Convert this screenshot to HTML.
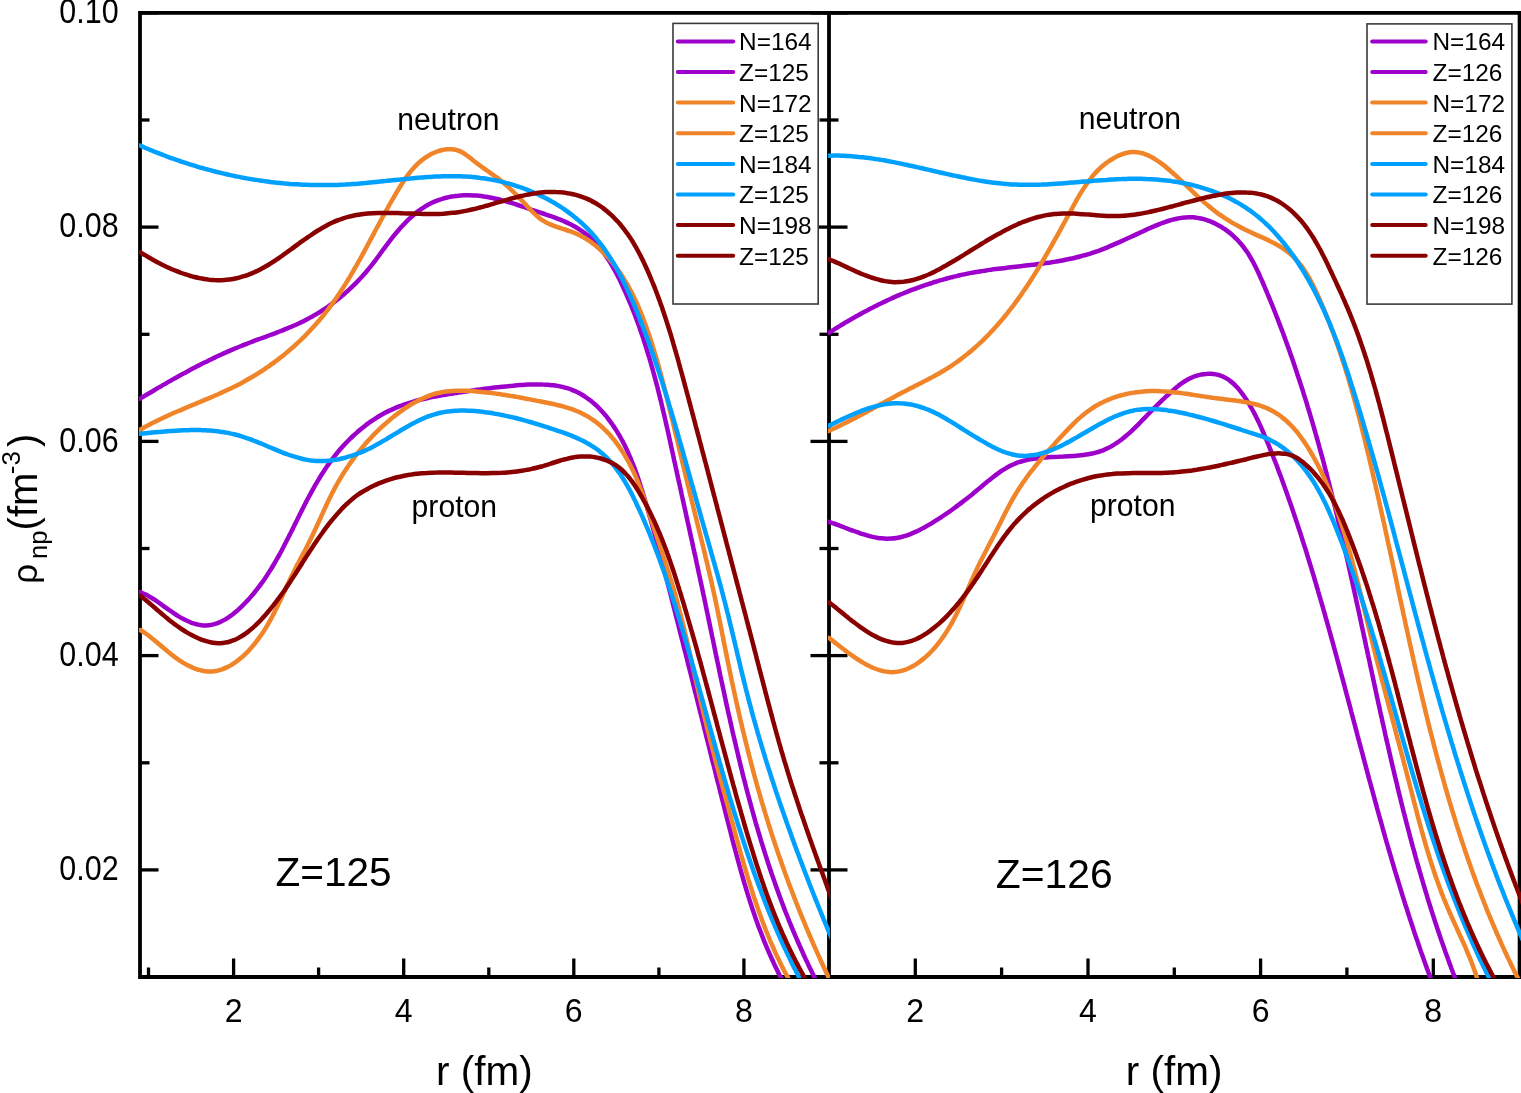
<!DOCTYPE html><html><head><meta charset="utf-8"><title>Density distributions</title><style>html,body{margin:0;padding:0;background:#fff;overflow:hidden}svg{display:block}</style></head><body><svg width="1521" height="1093" viewBox="0 0 1521 1093" font-family="&quot;Liberation Sans&quot;, Arial, sans-serif" fill="#000"><rect width="100%" height="100%" fill="#fff"/><defs><clipPath id="cl"><rect x="139.0" y="12.0" width="691.0" height="966.0"/></clipPath><clipPath id="cr"><rect x="828.0" y="12.0" width="693.0" height="966.0"/></clipPath></defs><g stroke="#000" stroke-width="3.8" fill="none" stroke-linecap="square"><path d="M140.0,12.9 H1519.6 V977.0 H140.0 Z"/><path d="M829.0,12.9 V977.0"/></g><g stroke="#000" stroke-width="3.3" fill="none"><path d="M140.0,869.9h18.5"/><path d="M829.0,869.9h-18.5"/><path d="M829.0,869.9h18.5"/><path d="M140.0,762.8h9.5"/><path d="M829.0,762.8h-9.5"/><path d="M829.0,762.8h9.5"/><path d="M140.0,655.6h18.5"/><path d="M829.0,655.6h-18.5"/><path d="M829.0,655.6h18.5"/><path d="M140.0,548.5h9.5"/><path d="M829.0,548.5h-9.5"/><path d="M829.0,548.5h9.5"/><path d="M140.0,441.4h18.5"/><path d="M829.0,441.4h-18.5"/><path d="M829.0,441.4h18.5"/><path d="M140.0,334.3h9.5"/><path d="M829.0,334.3h-9.5"/><path d="M829.0,334.3h9.5"/><path d="M140.0,227.1h18.5"/><path d="M829.0,227.1h-18.5"/><path d="M829.0,227.1h18.5"/><path d="M140.0,120.0h9.5"/><path d="M829.0,120.0h-9.5"/><path d="M829.0,120.0h9.5"/><path d="M140.0,12.9h18.5"/><path d="M829.0,12.9h-18.5"/><path d="M829.0,12.9h18.5"/><path d="M148.5,977.0v-9.5"/><path d="M233.6,977.0v-18.5"/><path d="M915.3,977.0v-18.5"/><path d="M318.6,977.0v-9.5"/><path d="M1001.6,977.0v-9.5"/><path d="M403.7,977.0v-18.5"/><path d="M1088.0,977.0v-18.5"/><path d="M488.8,977.0v-9.5"/><path d="M1174.3,977.0v-9.5"/><path d="M573.8,977.0v-18.5"/><path d="M1260.6,977.0v-18.5"/><path d="M658.9,977.0v-9.5"/><path d="M1346.9,977.0v-9.5"/><path d="M743.9,977.0v-18.5"/><path d="M1433.3,977.0v-18.5"/></g><g clip-path="url(#cl)" fill="none" stroke-width="4.5" stroke-linecap="round" stroke-linejoin="round"><path stroke="#9e00cc" d="M140.0,398.7C141.5,397.8 142.9,397.0 144.3,396.1C145.8,395.3 147.2,394.4 148.6,393.5C150.1,392.7 151.5,391.8 152.9,391.0C154.4,390.1 155.8,389.3 157.2,388.4C158.7,387.6 160.1,386.7 161.6,385.9C163.0,385.1 164.4,384.2 165.9,383.4C167.3,382.6 168.8,381.7 170.2,380.9C171.7,380.1 173.1,379.3 174.6,378.4C176.1,377.6 177.5,376.8 179.0,376.0C180.4,375.2 181.9,374.4 183.4,373.6C184.8,372.8 186.3,372.0 187.8,371.2C189.2,370.4 190.7,369.6 192.2,368.8C193.7,368.1 195.2,367.3 196.6,366.5C198.1,365.8 199.6,365.0 201.1,364.2C202.6,363.5 204.1,362.7 205.6,362.0C207.1,361.3 208.6,360.5 210.1,359.8C211.6,359.1 213.1,358.3 214.6,357.6C216.1,356.9 217.6,356.2 219.1,355.5C220.6,354.8 222.2,354.1 223.7,353.4C225.2,352.7 226.7,352.1 228.3,351.4C229.8,350.7 231.3,350.1 232.9,349.4C234.4,348.7 235.9,348.1 237.5,347.5C239.0,346.8 240.6,346.2 242.1,345.6C243.7,345.0 245.2,344.4 246.8,343.8C248.3,343.2 249.9,342.6 251.5,342.0C253.0,341.4 254.6,340.8 256.2,340.2C257.7,339.6 259.3,339.1 260.9,338.5C262.4,337.9 264.0,337.3 265.6,336.8C267.1,336.2 268.7,335.6 270.3,335.0C271.8,334.4 273.4,333.9 275.0,333.3C276.5,332.7 278.1,332.1 279.6,331.5C281.2,330.9 282.7,330.3 284.3,329.6C285.8,329.0 287.4,328.4 288.9,327.7C290.5,327.1 292.0,326.5 293.5,325.8C295.1,325.1 296.6,324.4 298.1,323.7C299.6,323.0 301.1,322.3 302.6,321.6C304.1,320.8 305.6,320.1 307.1,319.3C308.6,318.5 310.1,317.7 311.5,316.9C313.0,316.1 314.4,315.3 315.9,314.4C317.3,313.6 318.7,312.7 320.1,311.8C321.5,310.9 323.0,310.0 324.3,309.1C325.7,308.2 327.1,307.3 328.5,306.3C329.8,305.3 331.2,304.4 332.5,303.4C333.9,302.4 335.2,301.4 336.5,300.3C337.8,299.3 339.1,298.3 340.4,297.2C341.7,296.1 343.0,295.1 344.3,294.0C345.5,292.9 346.8,291.8 348.0,290.6C349.3,289.5 350.5,288.4 351.7,287.2C352.9,286.1 354.1,284.9 355.3,283.7C356.4,282.5 357.6,281.3 358.8,280.1C359.9,278.9 361.0,277.7 362.2,276.5C363.3,275.2 364.4,274.0 365.5,272.7C366.6,271.4 367.6,270.2 368.7,268.9C369.8,267.6 370.8,266.3 371.8,265.0C372.9,263.6 373.9,262.3 374.9,261.0C375.9,259.7 376.9,258.3 377.9,257.0C378.9,255.6 379.9,254.3 380.8,252.9C381.8,251.6 382.8,250.2 383.8,248.9C384.8,247.6 385.8,246.2 386.8,244.9C387.8,243.5 388.8,242.2 389.8,240.9C390.8,239.6 391.9,238.2 392.9,236.9C393.9,235.6 395.0,234.3 396.1,233.0C397.1,231.8 398.2,230.5 399.3,229.2C400.4,228.0 401.5,226.7 402.7,225.5C403.8,224.3 405.0,223.1 406.1,221.9C407.3,220.7 408.5,219.6 409.7,218.4C411.0,217.3 412.2,216.2 413.5,215.1C414.7,214.0 416.0,212.9 417.3,211.9C418.7,210.9 420.0,209.9 421.4,208.9C422.8,208.0 424.2,207.1 425.6,206.2C427.0,205.4 428.5,204.5 430.0,203.8C431.4,203.0 432.9,202.3 434.5,201.6C436.0,201.0 437.6,200.4 439.2,199.8C440.7,199.3 442.3,198.8 443.9,198.3C445.5,197.9 447.2,197.5 448.8,197.1C450.4,196.8 452.1,196.5 453.7,196.3C455.4,196.0 457.0,195.8 458.7,195.7C460.4,195.5 462.0,195.4 463.7,195.3C465.4,195.3 467.0,195.3 468.7,195.3C470.4,195.3 472.1,195.3 473.7,195.4C475.4,195.5 477.1,195.7 478.7,195.8C480.4,196.0 482.0,196.2 483.7,196.4C485.3,196.7 487.0,196.9 488.6,197.2C490.3,197.5 491.9,197.9 493.5,198.2C495.2,198.6 496.8,198.9 498.4,199.3C500.0,199.7 501.7,200.2 503.3,200.6C504.9,201.0 506.5,201.5 508.1,202.0C509.7,202.5 511.3,202.9 512.9,203.4C514.5,203.9 516.1,204.5 517.7,205.0C519.2,205.5 520.8,206.0 522.4,206.5C524.0,207.1 525.6,207.6 527.1,208.2C528.7,208.7 530.3,209.2 531.9,209.8C533.5,210.3 535.0,210.9 536.6,211.4C538.2,211.9 539.8,212.5 541.4,213.0C543.0,213.5 544.5,214.0 546.1,214.6C547.7,215.1 549.3,215.6 550.9,216.2C552.4,216.7 554.0,217.3 555.6,217.9C557.2,218.5 558.7,219.1 560.3,219.7C561.8,220.3 563.4,220.9 564.9,221.6C566.4,222.3 567.9,223.0 569.4,223.8C570.9,224.5 572.4,225.3 573.8,226.1C575.3,226.9 576.7,227.7 578.2,228.6C579.6,229.5 581.0,230.4 582.3,231.4C583.7,232.4 585.0,233.4 586.3,234.4C587.7,235.4 588.9,236.5 590.2,237.6C591.4,238.7 592.6,239.9 593.8,241.1C595.0,242.3 596.1,243.5 597.2,244.7C598.4,246.0 599.4,247.2 600.5,248.5C601.5,249.8 602.6,251.2 603.6,252.5C604.5,253.8 605.5,255.2 606.4,256.6C607.4,258.0 608.3,259.4 609.2,260.8C610.1,262.2 610.9,263.6 611.8,265.1C612.6,266.5 613.5,268.0 614.3,269.4C615.1,270.9 615.9,272.4 616.6,273.8C617.4,275.3 618.2,276.8 618.9,278.3C619.7,279.8 620.4,281.3 621.1,282.8C621.8,284.3 622.5,285.8 623.2,287.3C623.9,288.9 624.6,290.4 625.3,291.9C626.0,293.4 626.6,295.0 627.3,296.5C628.0,298.0 628.6,299.6 629.3,301.1C629.9,302.6 630.6,304.2 631.2,305.7C631.8,307.3 632.4,308.8 633.1,310.4C633.7,311.9 634.3,313.5 634.9,315.0C635.5,316.6 636.1,318.2 636.6,319.7C637.2,321.3 637.8,322.9 638.4,324.4C638.9,326.0 639.5,327.6 640.0,329.1C640.6,330.7 641.1,332.3 641.7,333.9C642.2,335.5 642.8,337.0 643.3,338.6C643.8,340.2 644.3,341.8 644.8,343.4C645.3,345.0 645.9,346.6 646.3,348.2C646.8,349.8 647.3,351.4 647.8,353.0C648.3,354.6 648.8,356.2 649.3,357.8C649.7,359.4 650.2,361.0 650.7,362.6C651.1,364.2 651.6,365.8 652.1,367.4C652.5,369.0 653.0,370.6 653.4,372.2C653.8,373.8 654.3,375.4 654.7,377.0C655.1,378.6 655.6,380.3 656.0,381.9C656.4,383.5 656.8,385.1 657.3,386.7C657.7,388.3 658.1,390.0 658.5,391.6C658.9,393.2 659.3,394.8 659.7,396.4C660.1,398.1 660.5,399.7 660.9,401.3C661.3,402.9 661.7,404.6 662.1,406.2C662.5,407.8 662.8,409.4 663.2,411.1C663.6,412.7 664.0,414.3 664.4,415.9C664.7,417.6 665.1,419.2 665.5,420.8C665.9,422.4 666.2,424.1 666.6,425.7C667.0,427.3 667.3,429.0 667.7,430.6C668.1,432.2 668.4,433.8 668.8,435.5C669.1,437.1 669.5,438.7 669.9,440.4C670.2,442.0 670.6,443.6 670.9,445.3C671.3,446.9 671.6,448.5 672.0,450.2C672.4,451.8 672.7,453.4 673.1,455.1C673.4,456.7 673.8,458.3 674.1,459.9C674.5,461.6 674.8,463.2 675.2,464.8C675.6,466.5 675.9,468.1 676.3,469.7C676.6,471.4 677.0,473.0 677.3,474.6C677.7,476.3 678.0,477.9 678.4,479.5C678.8,481.2 679.1,482.8 679.5,484.4C679.8,486.0 680.2,487.7 680.6,489.3C680.9,490.9 681.3,492.6 681.6,494.2C682.0,495.8 682.3,497.5 682.7,499.1C683.1,500.7 683.4,502.4 683.8,504.0C684.1,505.6 684.5,507.2 684.9,508.9C685.2,510.5 685.6,512.1 685.9,513.8C686.3,515.4 686.6,517.0 687.0,518.7C687.4,520.3 687.7,521.9 688.1,523.6C688.4,525.2 688.8,526.8 689.2,528.5C689.5,530.1 689.9,531.7 690.2,533.3C690.6,535.0 690.9,536.6 691.3,538.2C691.7,539.9 692.0,541.5 692.4,543.1C692.7,544.8 693.1,546.4 693.4,548.0C693.8,549.7 694.1,551.3 694.5,552.9C694.9,554.6 695.2,556.2 695.6,557.8C695.9,559.4 696.3,561.1 696.6,562.7C697.0,564.3 697.3,566.0 697.7,567.6C698.0,569.2 698.4,570.9 698.7,572.5C699.1,574.1 699.4,575.8 699.8,577.4C700.1,579.0 700.5,580.7 700.8,582.3C701.2,583.9 701.5,585.6 701.9,587.2C702.2,588.8 702.6,590.5 702.9,592.1C703.3,593.7 703.6,595.4 704.0,597.0C704.3,598.6 704.6,600.3 705.0,601.9C705.3,603.5 705.7,605.2 706.0,606.8C706.4,608.4 706.7,610.1 707.0,611.7C707.4,613.3 707.7,615.0 708.1,616.6C708.4,618.3 708.7,619.9 709.1,621.5C709.4,623.2 709.8,624.8 710.1,626.4C710.4,628.1 710.8,629.7 711.1,631.3C711.5,633.0 711.8,634.6 712.1,636.2C712.5,637.9 712.8,639.5 713.2,641.1C713.5,642.8 713.8,644.4 714.2,646.0C714.5,647.7 714.9,649.3 715.2,651.0C715.5,652.6 715.9,654.2 716.2,655.9C716.6,657.5 716.9,659.1 717.2,660.8C717.6,662.4 717.9,664.0 718.3,665.7C718.6,667.3 719.0,668.9 719.3,670.6C719.6,672.2 720.0,673.8 720.3,675.5C720.7,677.1 721.0,678.7 721.4,680.4C721.7,682.0 722.1,683.6 722.4,685.3C722.8,686.9 723.1,688.5 723.5,690.2C723.8,691.8 724.2,693.4 724.5,695.1C724.9,696.7 725.2,698.3 725.6,700.0C725.9,701.6 726.3,703.2 726.6,704.9C727.0,706.5 727.4,708.1 727.7,709.7C728.1,711.4 728.4,713.0 728.8,714.6C729.2,716.3 729.5,717.9 729.9,719.5C730.2,721.2 730.6,722.8 731.0,724.4C731.3,726.0 731.7,727.7 732.1,729.3C732.4,730.9 732.8,732.6 733.2,734.2C733.6,735.8 733.9,737.4 734.3,739.1C734.7,740.7 735.1,742.3 735.5,743.9C735.8,745.6 736.2,747.2 736.6,748.8C737.0,750.5 737.4,752.1 737.8,753.7C738.1,755.3 738.5,756.9 738.9,758.6C739.3,760.2 739.7,761.8 740.1,763.4C740.5,765.1 740.9,766.7 741.3,768.3C741.7,769.9 742.1,771.5 742.5,773.2C742.9,774.8 743.3,776.4 743.7,778.0C744.1,779.6 744.6,781.3 745.0,782.9C745.4,784.5 745.8,786.1 746.2,787.7C746.6,789.3 747.1,791.0 747.5,792.6C747.9,794.2 748.3,795.8 748.8,797.4C749.2,799.0 749.6,800.6 750.1,802.3C750.5,803.9 750.9,805.5 751.4,807.1C751.8,808.7 752.3,810.3 752.7,811.9C753.2,813.5 753.6,815.1 754.1,816.7C754.5,818.4 755.0,820.0 755.4,821.6C755.9,823.2 756.4,824.8 756.8,826.4C757.3,828.0 757.8,829.6 758.2,831.2C758.7,832.8 759.2,834.4 759.7,836.0C760.1,837.6 760.6,839.2 761.1,840.8C761.6,842.4 762.1,844.0 762.6,845.6C763.1,847.2 763.6,848.8 764.1,850.4C764.6,851.9 765.1,853.5 765.6,855.1C766.1,856.7 766.6,858.3 767.1,859.9C767.6,861.5 768.1,863.1 768.7,864.7C769.2,866.2 769.7,867.8 770.2,869.4C770.8,871.0 771.3,872.6 771.8,874.2C772.4,875.7 772.9,877.3 773.5,878.9C774.0,880.5 774.6,882.1 775.1,883.6C775.7,885.2 776.2,886.8 776.8,888.4C777.4,889.9 777.9,891.5 778.5,893.1C779.1,894.6 779.6,896.2 780.2,897.8C780.8,899.3 781.4,900.9 782.0,902.5C782.6,904.0 783.1,905.6 783.7,907.1C784.3,908.7 784.9,910.3 785.5,911.8C786.2,913.4 786.8,914.9 787.4,916.5C788.0,918.0 788.6,919.6 789.2,921.1C789.9,922.7 790.5,924.2 791.1,925.8C791.8,927.3 792.4,928.9 793.0,930.4C793.7,931.9 794.3,933.5 795.0,935.0C795.6,936.6 796.3,938.1 797.0,939.6C797.6,941.2 798.3,942.7 799.0,944.2C799.6,945.7 800.3,947.3 801.0,948.8C801.7,950.3 802.4,951.8 803.1,953.4C803.7,954.9 804.4,956.4 805.1,957.9C805.8,959.4 806.6,960.9 807.3,962.4C808.0,964.0 808.7,965.5 809.4,967.0C810.1,968.5 810.9,970.0 811.6,971.5C812.3,973.0 813.1,974.5 813.8,976.0C814.6,977.5 815.3,979.0 816.1,980.5C816.8,981.9 817.6,983.4 818.4,984.9"/><path stroke="#9e00cc" d="M140.1,592.1C141.6,592.7 143.2,593.3 144.7,594.0C146.2,594.7 147.7,595.6 149.1,596.4C150.6,597.2 152.0,598.1 153.4,599.0C154.8,599.9 156.2,600.9 157.6,601.8C158.9,602.8 160.3,603.7 161.7,604.7C163.0,605.7 164.4,606.7 165.7,607.6C167.1,608.6 168.5,609.6 169.8,610.5C171.2,611.5 172.6,612.4 174.0,613.4C175.4,614.3 176.8,615.2 178.2,616.1C179.6,616.9 181.1,617.8 182.5,618.6C184.0,619.4 185.5,620.1 187.0,620.8C188.5,621.5 190.1,622.2 191.6,622.8C193.2,623.3 194.8,623.8 196.4,624.2C198.1,624.6 199.7,625.0 201.4,625.2C203.0,625.4 204.7,625.5 206.4,625.4C208.0,625.4 209.7,625.2 211.3,624.9C213.0,624.6 214.6,624.1 216.2,623.6C217.8,623.1 219.3,622.4 220.8,621.7C222.4,621.0 223.8,620.2 225.3,619.4C226.7,618.6 228.1,617.6 229.5,616.7C230.9,615.7 232.2,614.7 233.5,613.7C234.8,612.6 236.1,611.6 237.4,610.5C238.6,609.3 239.8,608.2 241.0,607.1C242.3,605.9 243.4,604.7 244.6,603.5C245.8,602.3 246.9,601.1 248.1,599.9C249.2,598.7 250.3,597.4 251.4,596.1C252.5,594.9 253.6,593.6 254.6,592.3C255.7,591.0 256.7,589.7 257.7,588.4C258.8,587.0 259.8,585.7 260.7,584.4C261.7,583.0 262.7,581.6 263.7,580.3C264.6,578.9 265.6,577.5 266.5,576.1C267.4,574.7 268.3,573.3 269.2,571.9C270.1,570.5 271.0,569.1 271.9,567.7C272.7,566.2 273.6,564.8 274.4,563.4C275.3,561.9 276.1,560.5 276.9,559.0C277.8,557.6 278.6,556.1 279.4,554.6C280.2,553.2 281.0,551.7 281.8,550.2C282.5,548.7 283.3,547.3 284.1,545.8C284.9,544.3 285.6,542.8 286.4,541.3C287.2,539.8 287.9,538.3 288.7,536.8C289.4,535.4 290.2,533.9 290.9,532.4C291.7,530.9 292.4,529.4 293.2,527.9C293.9,526.4 294.6,524.9 295.4,523.4C296.1,521.9 296.9,520.4 297.6,518.9C298.3,517.4 299.1,515.9 299.8,514.4C300.6,512.9 301.3,511.4 302.1,509.9C302.8,508.4 303.6,506.9 304.3,505.4C305.1,503.9 305.9,502.5 306.6,501.0C307.4,499.5 308.2,498.0 309.0,496.5C309.8,495.1 310.6,493.6 311.4,492.1C312.2,490.6 313.0,489.2 313.8,487.7C314.6,486.3 315.4,484.8 316.3,483.4C317.1,481.9 318.0,480.5 318.9,479.1C319.7,477.6 320.6,476.2 321.5,474.8C322.4,473.4 323.3,472.0 324.2,470.6C325.1,469.2 326.1,467.8 327.0,466.4C328.0,465.1 328.9,463.7 329.9,462.3C330.9,461.0 331.9,459.6 332.9,458.3C333.9,457.0 335.0,455.7 336.0,454.4C337.1,453.1 338.1,451.8 339.2,450.5C340.3,449.2 341.4,448.0 342.5,446.7C343.6,445.5 344.8,444.3 345.9,443.1C347.1,441.8 348.3,440.7 349.4,439.5C350.6,438.3 351.8,437.1 353.0,436.0C354.3,434.8 355.5,433.7 356.8,432.6C358.0,431.5 359.3,430.4 360.6,429.4C361.9,428.3 363.2,427.2 364.5,426.2C365.8,425.2 367.1,424.2 368.5,423.2C369.8,422.2 371.2,421.3 372.6,420.3C374.0,419.4 375.4,418.5 376.8,417.6C378.2,416.7 379.7,415.9 381.1,415.0C382.6,414.2 384.0,413.4 385.5,412.6C387.0,411.8 388.5,411.1 390.0,410.4C391.5,409.6 393.0,408.9 394.6,408.3C396.1,407.6 397.6,407.0 399.2,406.4C400.8,405.8 402.3,405.2 403.9,404.6C405.5,404.1 407.1,403.6 408.7,403.1C410.3,402.6 411.9,402.1 413.5,401.6C415.1,401.1 416.7,400.7 418.3,400.3C419.9,399.9 421.5,399.5 423.2,399.1C424.8,398.7 426.4,398.3 428.1,398.0C429.7,397.6 431.3,397.3 433.0,396.9C434.6,396.6 436.3,396.3 437.9,396.0C439.5,395.7 441.2,395.4 442.8,395.1C444.5,394.8 446.1,394.6 447.8,394.3C449.4,394.0 451.1,393.8 452.7,393.5C454.4,393.2 456.0,393.0 457.7,392.7C459.3,392.5 461.0,392.2 462.7,392.0C464.3,391.8 466.0,391.5 467.6,391.3C469.3,391.0 470.9,390.8 472.6,390.5C474.2,390.3 475.9,390.1 477.5,389.8C479.2,389.6 480.9,389.4 482.5,389.1C484.2,388.9 485.8,388.7 487.5,388.5C489.1,388.3 490.8,388.0 492.5,387.8C494.1,387.6 495.8,387.4 497.4,387.2C499.1,387.0 500.8,386.9 502.4,386.7C504.1,386.5 505.7,386.3 507.4,386.2C509.1,386.0 510.7,385.8 512.4,385.7C514.1,385.5 515.7,385.4 517.4,385.2C519.1,385.1 520.7,385.0 522.4,384.9C524.1,384.8 525.7,384.7 527.4,384.6C529.1,384.5 530.8,384.5 532.4,384.4C534.1,384.4 535.8,384.4 537.4,384.4C539.1,384.4 540.8,384.4 542.5,384.5C544.1,384.5 545.8,384.6 547.5,384.7C549.1,384.9 550.8,385.0 552.5,385.2C554.1,385.4 555.8,385.6 557.4,385.9C559.1,386.2 560.7,386.5 562.3,386.9C564.0,387.3 565.6,387.7 567.2,388.2C568.8,388.7 570.4,389.2 571.9,389.8C573.5,390.4 575.0,391.1 576.5,391.8C578.0,392.5 579.5,393.3 581.0,394.1C582.4,395.0 583.9,395.9 585.2,396.8C586.6,397.7 588.0,398.7 589.3,399.7C590.7,400.7 592.0,401.7 593.2,402.8C594.5,403.9 595.7,405.0 597.0,406.2C598.2,407.3 599.3,408.5 600.5,409.7C601.7,411.0 602.8,412.2 603.9,413.5C605.0,414.7 606.0,416.0 607.1,417.3C608.1,418.6 609.1,420.0 610.1,421.3C611.1,422.6 612.1,424.0 613.0,425.4C614.0,426.8 614.9,428.2 615.8,429.6C616.7,431.0 617.6,432.4 618.4,433.9C619.3,435.3 620.1,436.7 620.9,438.2C621.7,439.7 622.5,441.1 623.3,442.6C624.0,444.1 624.8,445.6 625.5,447.1C626.3,448.6 627.0,450.1 627.7,451.6C628.4,453.2 629.1,454.7 629.7,456.2C630.4,457.8 631.0,459.3 631.6,460.8C632.3,462.4 632.9,464.0 633.5,465.5C634.1,467.1 634.7,468.6 635.3,470.2C635.8,471.8 636.4,473.4 636.9,474.9C637.5,476.5 638.0,478.1 638.6,479.7C639.1,481.3 639.6,482.9 640.1,484.5C640.6,486.0 641.1,487.6 641.6,489.2C642.1,490.8 642.6,492.4 643.1,494.0C643.6,495.6 644.1,497.2 644.6,498.8C645.0,500.4 645.5,502.0 646.0,503.6C646.5,505.2 647.0,506.8 647.4,508.4C647.9,510.0 648.4,511.7 648.8,513.3C649.3,514.9 649.7,516.5 650.2,518.1C650.7,519.7 651.1,521.3 651.6,522.9C652.0,524.5 652.5,526.1 652.9,527.7C653.4,529.3 653.8,531.0 654.3,532.6C654.7,534.2 655.2,535.8 655.6,537.4C656.0,539.0 656.5,540.6 656.9,542.2C657.3,543.9 657.8,545.5 658.2,547.1C658.6,548.7 659.1,550.3 659.5,551.9C659.9,553.6 660.4,555.2 660.8,556.8C661.2,558.4 661.6,560.0 662.1,561.6C662.5,563.3 662.9,564.9 663.3,566.5C663.8,568.1 664.2,569.7 664.6,571.3C665.0,573.0 665.4,574.6 665.9,576.2C666.3,577.8 666.7,579.4 667.1,581.1C667.5,582.7 667.9,584.3 668.4,585.9C668.8,587.5 669.2,589.2 669.6,590.8C670.0,592.4 670.4,594.0 670.9,595.6C671.3,597.3 671.7,598.9 672.1,600.5C672.5,602.1 672.9,603.7 673.3,605.4C673.7,607.0 674.2,608.6 674.6,610.2C675.0,611.8 675.4,613.5 675.8,615.1C676.2,616.7 676.6,618.3 677.0,619.9C677.5,621.6 677.9,623.2 678.3,624.8C678.7,626.4 679.1,628.0 679.5,629.7C679.9,631.3 680.3,632.9 680.7,634.5C681.2,636.1 681.6,637.8 682.0,639.4C682.4,641.0 682.8,642.6 683.2,644.2C683.6,645.9 684.0,647.5 684.4,649.1C684.8,650.7 685.3,652.3 685.7,654.0C686.1,655.6 686.5,657.2 686.9,658.8C687.3,660.5 687.7,662.1 688.1,663.7C688.5,665.3 688.9,666.9 689.3,668.6C689.7,670.2 690.2,671.8 690.6,673.4C691.0,675.0 691.4,676.7 691.8,678.3C692.2,679.9 692.6,681.5 693.0,683.2C693.4,684.8 693.8,686.4 694.2,688.0C694.6,689.6 695.0,691.3 695.4,692.9C695.9,694.5 696.3,696.1 696.7,697.8C697.1,699.4 697.5,701.0 697.9,702.6C698.3,704.2 698.7,705.9 699.1,707.5C699.5,709.1 699.9,710.7 700.3,712.3C700.7,714.0 701.1,715.6 701.6,717.2C702.0,718.8 702.4,720.5 702.8,722.1C703.2,723.7 703.6,725.3 704.0,726.9C704.4,728.6 704.8,730.2 705.2,731.8C705.6,733.4 706.0,735.1 706.4,736.7C706.8,738.3 707.2,739.9 707.7,741.5C708.1,743.2 708.5,744.8 708.9,746.4C709.3,748.0 709.7,749.6 710.1,751.3C710.5,752.9 710.9,754.5 711.3,756.1C711.7,757.8 712.1,759.4 712.5,761.0C712.9,762.6 713.4,764.2 713.8,765.9C714.2,767.5 714.6,769.1 715.0,770.7C715.4,772.3 715.8,774.0 716.2,775.6C716.6,777.2 717.0,778.8 717.4,780.5C717.8,782.1 718.3,783.7 718.7,785.3C719.1,786.9 719.5,788.6 719.9,790.2C720.3,791.8 720.7,793.4 721.1,795.0C721.5,796.7 721.9,798.3 722.3,799.9C722.8,801.5 723.2,803.1 723.6,804.8C724.0,806.4 724.4,808.0 724.8,809.6C725.2,811.3 725.6,812.9 726.0,814.5C726.5,816.1 726.9,817.7 727.3,819.4C727.7,821.0 728.1,822.6 728.5,824.2C728.9,825.8 729.3,827.5 729.8,829.1C730.2,830.7 730.6,832.3 731.0,833.9C731.4,835.6 731.8,837.2 732.2,838.8C732.7,840.4 733.1,842.0 733.5,843.6C733.9,845.3 734.4,846.9 734.8,848.5C735.2,850.1 735.6,851.7 736.1,853.3C736.5,855.0 736.9,856.6 737.4,858.2C737.8,859.8 738.2,861.4 738.7,863.0C739.1,864.6 739.6,866.3 740.0,867.9C740.5,869.5 740.9,871.1 741.4,872.7C741.8,874.3 742.3,875.9 742.7,877.5C743.2,879.1 743.7,880.7 744.1,882.3C744.6,883.9 745.1,885.5 745.6,887.1C746.0,888.8 746.5,890.4 747.0,891.9C747.5,893.5 748.0,895.1 748.5,896.7C749.0,898.3 749.5,899.9 750.0,901.5C750.5,903.1 751.0,904.7 751.6,906.3C752.1,907.9 752.6,909.5 753.2,911.1C753.7,912.6 754.2,914.2 754.8,915.8C755.3,917.4 755.9,919.0 756.4,920.5C757.0,922.1 757.6,923.7 758.1,925.3C758.7,926.8 759.3,928.4 759.9,930.0C760.5,931.5 761.1,933.1 761.7,934.6C762.3,936.2 762.9,937.8 763.5,939.3C764.1,940.9 764.7,942.4 765.4,944.0C766.0,945.5 766.7,947.1 767.3,948.6C768.0,950.1 768.6,951.7 769.3,953.2C769.9,954.7 770.6,956.3 771.3,957.8C772.0,959.3 772.7,960.8 773.4,962.3C774.1,963.9 774.8,965.4 775.5,966.9C776.3,968.4 777.0,969.9 777.7,971.4C778.5,972.9 779.2,974.4 780.0,975.9C780.7,977.4 781.5,978.9 782.3,980.3C783.1,981.8 783.9,983.3 784.7,984.8"/><path stroke="#ef8429" d="M140.1,429.8C141.5,429.0 143.0,428.1 144.4,427.3C145.9,426.5 147.4,425.7 148.8,424.9C150.3,424.1 151.8,423.4 153.3,422.6C154.8,421.9 156.3,421.1 157.8,420.4C159.3,419.6 160.8,418.9 162.3,418.2C163.8,417.5 165.3,416.8 166.8,416.1C168.4,415.4 169.9,414.7 171.4,414.0C172.9,413.4 174.5,412.7 176.0,412.0C177.5,411.4 179.1,410.7 180.6,410.1C182.2,409.4 183.7,408.8 185.2,408.1C186.8,407.5 188.3,406.8 189.9,406.2C191.4,405.5 192.9,404.9 194.5,404.2C196.0,403.6 197.6,403.0 199.1,402.3C200.7,401.7 202.2,401.0 203.7,400.4C205.3,399.7 206.8,399.1 208.4,398.4C209.9,397.8 211.4,397.1 213.0,396.5C214.5,395.8 216.0,395.1 217.6,394.5C219.1,393.8 220.6,393.1 222.1,392.4C223.7,391.7 225.2,391.0 226.7,390.3C228.2,389.6 229.7,388.9 231.2,388.2C232.7,387.4 234.2,386.7 235.7,386.0C237.2,385.2 238.7,384.4 240.2,383.7C241.7,382.9 243.1,382.1 244.6,381.3C246.1,380.5 247.5,379.7 249.0,378.8C250.4,378.0 251.9,377.1 253.3,376.3C254.7,375.4 256.1,374.6 257.6,373.7C259.0,372.8 260.4,371.9 261.8,371.0C263.2,370.0 264.6,369.1 265.9,368.2C267.3,367.2 268.7,366.3 270.1,365.3C271.4,364.3 272.8,363.4 274.1,362.4C275.5,361.4 276.8,360.4 278.1,359.4C279.5,358.3 280.8,357.3 282.1,356.3C283.4,355.2 284.7,354.2 286.0,353.1C287.3,352.0 288.5,351.0 289.8,349.9C291.1,348.8 292.3,347.7 293.6,346.6C294.8,345.5 296.1,344.3 297.3,343.2C298.5,342.1 299.7,340.9 300.9,339.8C302.1,338.6 303.3,337.4 304.5,336.3C305.7,335.1 306.9,333.9 308.0,332.7C309.2,331.5 310.3,330.3 311.5,329.0C312.6,327.8 313.7,326.6 314.9,325.3C316.0,324.1 317.1,322.8 318.2,321.6C319.3,320.3 320.3,319.0 321.4,317.7C322.5,316.5 323.5,315.2 324.6,313.8C325.6,312.5 326.6,311.2 327.7,309.9C328.7,308.6 329.7,307.2 330.7,305.9C331.7,304.5 332.6,303.2 333.6,301.8C334.6,300.5 335.5,299.1 336.5,297.7C337.4,296.3 338.4,295.0 339.3,293.6C340.2,292.2 341.1,290.8 342.0,289.4C343.0,288.0 343.8,286.6 344.7,285.2C345.6,283.7 346.5,282.3 347.4,280.9C348.3,279.5 349.1,278.0 350.0,276.6C350.8,275.2 351.7,273.7 352.5,272.3C353.4,270.8 354.2,269.4 355.0,267.9C355.9,266.5 356.7,265.0 357.5,263.6C358.3,262.1 359.1,260.7 360.0,259.2C360.8,257.7 361.6,256.3 362.4,254.8C363.2,253.3 364.0,251.9 364.8,250.4C365.6,248.9 366.4,247.5 367.2,246.0C367.9,244.5 368.7,243.1 369.5,241.6C370.3,240.1 371.1,238.6 371.9,237.2C372.7,235.7 373.5,234.2 374.2,232.7C375.0,231.3 375.8,229.8 376.6,228.3C377.4,226.8 378.2,225.4 379.0,223.9C379.8,222.4 380.6,221.0 381.4,219.5C382.1,218.0 382.9,216.5 383.7,215.1C384.5,213.6 385.4,212.1 386.2,210.7C387.0,209.2 387.8,207.8 388.6,206.3C389.4,204.8 390.2,203.4 391.1,201.9C391.9,200.5 392.7,199.0 393.6,197.6C394.4,196.1 395.2,194.7 396.1,193.3C396.9,191.8 397.8,190.4 398.7,189.0C399.5,187.5 400.4,186.1 401.3,184.7C402.2,183.3 403.1,181.9 404.0,180.5C405.0,179.1 405.9,177.7 406.9,176.4C407.9,175.0 408.9,173.7 409.9,172.4C411.0,171.1 412.1,169.8 413.2,168.6C414.3,167.3 415.4,166.1 416.6,164.9C417.8,163.7 419.0,162.6 420.3,161.5C421.6,160.4 422.9,159.4 424.2,158.4C425.6,157.4 427.0,156.5 428.4,155.7C429.9,154.8 431.3,154.0 432.8,153.3C434.4,152.6 435.9,151.9 437.5,151.4C439.1,150.8 440.7,150.4 442.3,150.0C443.9,149.6 445.6,149.4 447.2,149.2C448.9,149.1 450.6,149.1 452.3,149.2C453.9,149.4 455.6,149.7 457.2,150.2C458.8,150.6 460.3,151.3 461.8,152.1C463.3,152.8 464.7,153.8 466.0,154.8C467.4,155.7 468.7,156.8 470.0,157.8C471.3,158.8 472.6,159.9 473.9,161.0C475.2,162.0 476.5,163.0 477.9,164.0C479.2,165.0 480.6,166.0 481.9,167.0C483.3,167.9 484.7,168.9 486.0,169.9C487.4,170.8 488.8,171.8 490.1,172.8C491.5,173.7 492.8,174.7 494.2,175.7C495.5,176.7 496.9,177.6 498.2,178.6C499.6,179.7 500.9,180.7 502.2,181.7C503.5,182.8 504.7,183.9 506.0,185.0C507.3,186.1 508.5,187.2 509.7,188.3C511.0,189.5 512.2,190.6 513.4,191.8C514.5,193.0 515.7,194.1 516.9,195.3C518.1,196.5 519.2,197.7 520.4,199.0C521.5,200.2 522.7,201.4 523.8,202.6C525.0,203.8 526.1,205.1 527.2,206.3C528.4,207.5 529.5,208.7 530.6,209.9C531.8,211.1 533.0,212.3 534.2,213.5C535.4,214.7 536.6,215.8 537.9,216.9C539.2,217.9 540.5,219.0 541.9,219.9C543.3,220.8 544.7,221.7 546.2,222.5C547.6,223.3 549.2,224.0 550.7,224.6C552.2,225.3 553.8,225.8 555.4,226.4C557.0,227.0 558.6,227.5 560.2,228.0C561.7,228.5 563.3,229.0 564.9,229.5C566.5,230.0 568.1,230.5 569.7,231.1C571.3,231.6 572.8,232.2 574.4,232.9C575.9,233.5 577.4,234.2 578.9,234.9C580.4,235.7 581.9,236.4 583.4,237.3C584.8,238.1 586.3,239.0 587.7,239.9C589.1,240.8 590.4,241.7 591.8,242.7C593.1,243.7 594.5,244.7 595.8,245.7C597.1,246.8 598.3,247.9 599.6,249.0C600.8,250.1 602.1,251.3 603.2,252.4C604.4,253.6 605.6,254.8 606.7,256.0C607.9,257.2 609.0,258.5 610.1,259.7C611.2,261.0 612.2,262.3 613.3,263.6C614.3,264.9 615.3,266.2 616.3,267.6C617.3,268.9 618.3,270.3 619.3,271.7C620.2,273.0 621.1,274.4 622.0,275.8C623.0,277.2 623.8,278.6 624.7,280.1C625.6,281.5 626.4,282.9 627.3,284.4C628.1,285.8 628.9,287.3 629.7,288.8C630.5,290.2 631.3,291.7 632.0,293.2C632.8,294.7 633.5,296.2 634.2,297.7C635.0,299.2 635.7,300.7 636.4,302.3C637.1,303.8 637.7,305.3 638.4,306.8C639.1,308.4 639.7,309.9 640.3,311.5C641.0,313.0 641.6,314.5 642.2,316.1C642.8,317.7 643.4,319.2 644.0,320.8C644.6,322.3 645.2,323.9 645.8,325.5C646.3,327.1 646.9,328.6 647.4,330.2C648.0,331.8 648.5,333.4 649.1,334.9C649.6,336.5 650.1,338.1 650.7,339.7C651.2,341.3 651.7,342.9 652.2,344.5C652.7,346.1 653.2,347.7 653.7,349.3C654.2,350.9 654.7,352.5 655.1,354.1C655.6,355.7 656.1,357.3 656.6,358.9C657.0,360.5 657.5,362.1 657.9,363.7C658.4,365.3 658.8,366.9 659.3,368.5C659.7,370.1 660.2,371.7 660.6,373.4C661.0,375.0 661.5,376.6 661.9,378.2C662.3,379.8 662.7,381.4 663.2,383.1C663.6,384.7 664.0,386.3 664.4,387.9C664.8,389.5 665.2,391.1 665.6,392.8C666.0,394.4 666.4,396.0 666.8,397.6C667.2,399.3 667.6,400.9 668.0,402.5C668.4,404.1 668.8,405.7 669.2,407.4C669.6,409.0 670.0,410.6 670.4,412.2C670.8,413.9 671.2,415.5 671.6,417.1C672.0,418.7 672.4,420.4 672.8,422.0C673.2,423.6 673.6,425.2 674.0,426.9C674.3,428.5 674.7,430.1 675.1,431.7C675.5,433.4 675.9,435.0 676.3,436.6C676.7,438.2 677.1,439.9 677.5,441.5C677.9,443.1 678.2,444.7 678.6,446.4C679.0,448.0 679.4,449.6 679.8,451.2C680.2,452.9 680.6,454.5 681.0,456.1C681.4,457.7 681.7,459.4 682.1,461.0C682.5,462.6 682.9,464.2 683.3,465.9C683.7,467.5 684.1,469.1 684.5,470.7C684.9,472.4 685.3,474.0 685.6,475.6C686.0,477.2 686.4,478.9 686.8,480.5C687.2,482.1 687.6,483.7 688.0,485.4C688.4,487.0 688.8,488.6 689.2,490.2C689.6,491.9 690.0,493.5 690.4,495.1C690.8,496.7 691.2,498.4 691.6,500.0C692.0,501.6 692.4,503.2 692.8,504.8C693.2,506.5 693.6,508.1 694.0,509.7C694.4,511.3 694.8,513.0 695.2,514.6C695.6,516.2 696.0,517.8 696.4,519.4C696.8,521.1 697.2,522.7 697.6,524.3C698.0,525.9 698.4,527.6 698.8,529.2C699.2,530.8 699.6,532.4 700.0,534.0C700.4,535.7 700.8,537.3 701.2,538.9C701.6,540.5 702.0,542.2 702.4,543.8C702.8,545.4 703.2,547.0 703.6,548.7C704.0,550.3 704.4,551.9 704.8,553.5C705.1,555.2 705.5,556.8 705.9,558.4C706.3,560.0 706.7,561.7 707.1,563.3C707.5,564.9 707.8,566.5 708.2,568.2C708.6,569.8 709.0,571.4 709.4,573.0C709.7,574.7 710.1,576.3 710.5,577.9C710.9,579.6 711.2,581.2 711.6,582.8C712.0,584.4 712.3,586.1 712.7,587.7C713.1,589.3 713.4,591.0 713.8,592.6C714.1,594.2 714.5,595.9 714.9,597.5C715.2,599.1 715.6,600.8 715.9,602.4C716.2,604.0 716.6,605.7 716.9,607.3C717.3,608.9 717.6,610.6 717.9,612.2C718.3,613.9 718.6,615.5 718.9,617.1C719.3,618.8 719.6,620.4 719.9,622.1C720.3,623.7 720.6,625.3 720.9,627.0C721.2,628.6 721.6,630.2 721.9,631.9C722.2,633.5 722.5,635.2 722.9,636.8C723.2,638.4 723.5,640.1 723.8,641.7C724.2,643.4 724.5,645.0 724.8,646.6C725.1,648.3 725.5,649.9 725.8,651.6C726.1,653.2 726.5,654.8 726.8,656.5C727.1,658.1 727.4,659.7 727.8,661.4C728.1,663.0 728.4,664.7 728.8,666.3C729.1,667.9 729.4,669.6 729.8,671.2C730.1,672.8 730.5,674.5 730.8,676.1C731.1,677.8 731.5,679.4 731.8,681.0C732.2,682.7 732.5,684.3 732.9,685.9C733.2,687.6 733.6,689.2 733.9,690.8C734.3,692.5 734.6,694.1 735.0,695.7C735.4,697.4 735.7,699.0 736.1,700.6C736.4,702.3 736.8,703.9 737.2,705.5C737.5,707.2 737.9,708.8 738.3,710.4C738.6,712.0 739.0,713.7 739.4,715.3C739.8,716.9 740.1,718.6 740.5,720.2C740.9,721.8 741.3,723.4 741.7,725.1C742.0,726.7 742.4,728.3 742.8,729.9C743.2,731.6 743.6,733.2 744.0,734.8C744.4,736.4 744.8,738.1 745.2,739.7C745.6,741.3 746.0,742.9 746.4,744.6C746.8,746.2 747.2,747.8 747.6,749.4C748.0,751.0 748.4,752.7 748.8,754.3C749.2,755.9 749.6,757.5 750.1,759.1C750.5,760.8 750.9,762.4 751.3,764.0C751.8,765.6 752.2,767.2 752.6,768.8C753.0,770.5 753.5,772.1 753.9,773.7C754.3,775.3 754.8,776.9 755.2,778.5C755.7,780.1 756.1,781.7 756.5,783.4C757.0,785.0 757.4,786.6 757.9,788.2C758.3,789.8 758.8,791.4 759.3,793.0C759.7,794.6 760.2,796.2 760.6,797.8C761.1,799.4 761.6,801.0 762.0,802.6C762.5,804.2 763.0,805.8 763.5,807.4C763.9,809.0 764.4,810.6 764.9,812.2C765.4,813.8 765.9,815.4 766.4,817.0C766.9,818.6 767.4,820.2 767.9,821.8C768.3,823.4 768.8,825.0 769.4,826.6C769.9,828.2 770.4,829.8 770.9,831.4C771.4,833.0 771.9,834.6 772.4,836.2C772.9,837.8 773.5,839.3 774.0,840.9C774.5,842.5 775.0,844.1 775.6,845.7C776.1,847.3 776.6,848.9 777.2,850.4C777.7,852.0 778.2,853.6 778.8,855.2C779.3,856.8 779.9,858.3 780.4,859.9C781.0,861.5 781.5,863.1 782.1,864.7C782.6,866.2 783.2,867.8 783.8,869.4C784.3,870.9 784.9,872.5 785.5,874.1C786.0,875.7 786.6,877.2 787.2,878.8C787.8,880.4 788.3,881.9 788.9,883.5C789.5,885.1 790.1,886.6 790.7,888.2C791.3,889.8 791.9,891.3 792.5,892.9C793.1,894.4 793.7,896.0 794.3,897.6C794.9,899.1 795.5,900.7 796.1,902.2C796.7,903.8 797.3,905.3 797.9,906.9C798.5,908.5 799.2,910.0 799.8,911.6C800.4,913.1 801.0,914.7 801.7,916.2C802.3,917.8 802.9,919.3 803.6,920.8C804.2,922.4 804.8,923.9 805.5,925.5C806.1,927.0 806.8,928.6 807.4,930.1C808.1,931.6 808.7,933.2 809.4,934.7C810.0,936.3 810.7,937.8 811.3,939.3C812.0,940.9 812.7,942.4 813.3,943.9C814.0,945.5 814.7,947.0 815.4,948.5C816.0,950.0 816.7,951.6 817.4,953.1C818.1,954.6 818.8,956.1 819.5,957.7C820.1,959.2 820.8,960.7 821.5,962.2C822.2,963.7 822.9,965.3 823.6,966.8C824.3,968.3 825.0,969.8 825.7,971.3C826.5,972.8 827.2,974.4 827.9,975.9C828.6,977.4 829.3,978.9 830.0,980.4C830.8,981.9 831.5,983.4 832.2,984.9"/><path stroke="#ef8429" d="M140.1,630.0C141.6,630.9 143.0,631.7 144.4,632.6C145.8,633.6 147.1,634.5 148.4,635.5C149.8,636.5 151.1,637.6 152.4,638.6C153.7,639.7 155.0,640.7 156.2,641.8C157.5,642.9 158.8,644.0 160.1,645.0C161.3,646.1 162.6,647.2 163.9,648.2C165.2,649.3 166.4,650.4 167.7,651.4C169.0,652.5 170.3,653.5 171.6,654.6C173.0,655.6 174.3,656.6 175.6,657.6C177.0,658.6 178.3,659.5 179.7,660.5C181.1,661.4 182.5,662.3 183.9,663.2C185.4,664.0 186.8,664.9 188.3,665.6C189.8,666.4 191.3,667.1 192.8,667.7C194.4,668.4 195.9,669.0 197.5,669.5C199.1,669.9 200.7,670.4 202.4,670.7C204.0,671.0 205.6,671.3 207.3,671.4C209.0,671.5 210.6,671.5 212.3,671.4C214.0,671.2 215.6,671.0 217.2,670.7C218.9,670.3 220.5,669.8 222.1,669.3C223.6,668.8 225.2,668.1 226.7,667.4C228.2,666.7 229.7,665.9 231.1,665.1C232.5,664.2 233.9,663.3 235.3,662.4C236.7,661.4 238.0,660.4 239.3,659.3C240.6,658.3 241.9,657.2 243.1,656.1C244.3,655.0 245.5,653.8 246.7,652.6C247.9,651.5 249.0,650.2 250.1,649.0C251.3,647.8 252.4,646.5 253.4,645.2C254.5,643.9 255.5,642.6 256.5,641.3C257.6,640.0 258.6,638.7 259.5,637.3C260.5,636.0 261.4,634.6 262.4,633.2C263.3,631.8 264.2,630.4 265.1,629.0C266.0,627.6 266.8,626.1 267.7,624.7C268.5,623.3 269.3,621.8 270.1,620.4C271.0,618.9 271.7,617.4 272.5,616.0C273.3,614.5 274.1,613.0 274.8,611.5C275.6,610.0 276.3,608.5 277.1,607.0C277.8,605.6 278.5,604.0 279.2,602.5C280.0,601.0 280.7,599.5 281.4,598.0C282.1,596.5 282.8,595.0 283.5,593.5C284.2,592.0 284.9,590.5 285.6,588.9C286.3,587.4 287.0,585.9 287.7,584.4C288.4,582.9 289.1,581.4 289.8,579.9C290.5,578.4 291.2,576.9 292.0,575.4C292.7,573.9 293.4,572.4 294.2,570.9C294.9,569.4 295.7,567.9 296.4,566.4C297.2,564.9 298.0,563.5 298.8,562.0C299.5,560.5 300.3,559.1 301.1,557.6C301.9,556.1 302.7,554.6 303.5,553.2C304.3,551.7 305.0,550.2 305.8,548.8C306.6,547.3 307.4,545.8 308.1,544.3C308.9,542.8 309.6,541.3 310.3,539.8C311.1,538.3 311.8,536.8 312.5,535.3C313.2,533.8 313.9,532.3 314.6,530.8C315.3,529.3 316.0,527.8 316.7,526.3C317.4,524.7 318.1,523.2 318.8,521.7C319.5,520.2 320.2,518.7 320.9,517.2C321.6,515.6 322.2,514.1 322.9,512.6C323.6,511.1 324.3,509.6 325.0,508.1C325.7,506.5 326.4,505.0 327.1,503.5C327.8,502.0 328.6,500.5 329.3,499.0C330.0,497.5 330.8,496.0 331.5,494.5C332.3,493.0 333.0,491.6 333.8,490.1C334.6,488.6 335.4,487.1 336.2,485.7C337.0,484.2 337.8,482.8 338.6,481.3C339.5,479.9 340.3,478.4 341.2,477.0C342.0,475.6 342.9,474.2 343.8,472.8C344.7,471.4 345.6,470.0 346.5,468.6C347.5,467.2 348.4,465.8 349.3,464.4C350.3,463.1 351.3,461.7 352.2,460.4C353.2,459.0 354.2,457.7 355.2,456.3C356.2,455.0 357.2,453.7 358.3,452.4C359.3,451.1 360.4,449.8 361.4,448.5C362.5,447.2 363.6,445.9 364.7,444.7C365.7,443.4 366.8,442.2 368.0,440.9C369.1,439.7 370.2,438.5 371.4,437.3C372.5,436.0 373.7,434.8 374.8,433.7C376.0,432.5 377.2,431.3 378.4,430.2C379.6,429.0 380.8,427.8 382.0,426.7C383.3,425.6 384.5,424.5 385.8,423.4C387.0,422.3 388.3,421.2 389.5,420.1C390.8,419.0 392.1,418.0 393.4,416.9C394.7,415.9 396.0,414.9 397.4,413.9C398.7,412.9 400.0,411.9 401.4,410.9C402.7,409.9 404.1,409.0 405.5,408.0C406.9,407.1 408.3,406.2 409.7,405.3C411.1,404.5 412.6,403.6 414.0,402.8C415.5,402.0 416.9,401.2 418.4,400.4C419.9,399.7 421.4,399.0 422.9,398.3C424.4,397.6 426.0,396.9 427.5,396.3C429.1,395.8 430.7,395.2 432.3,394.7C433.8,394.2 435.4,393.7 437.1,393.3C438.7,392.9 440.3,392.5 441.9,392.2C443.6,391.9 445.2,391.7 446.9,391.5C448.5,391.3 450.2,391.1 451.9,391.0C453.5,390.9 455.2,390.8 456.9,390.7C458.5,390.7 460.2,390.7 461.9,390.7C463.5,390.7 465.2,390.7 466.9,390.8C468.5,390.9 470.2,391.0 471.8,391.1C473.5,391.2 475.2,391.3 476.8,391.5C478.5,391.6 480.2,391.8 481.8,391.9C483.5,392.1 485.1,392.3 486.8,392.5C488.4,392.7 490.1,392.9 491.7,393.1C493.4,393.3 495.1,393.5 496.7,393.8C498.4,394.0 500.0,394.2 501.7,394.5C503.3,394.7 505.0,395.0 506.6,395.3C508.2,395.5 509.9,395.8 511.5,396.1C513.2,396.3 514.8,396.6 516.5,396.9C518.1,397.2 519.7,397.5 521.4,397.8C523.0,398.1 524.7,398.4 526.3,398.7C527.9,399.0 529.6,399.3 531.2,399.6C532.9,400.0 534.5,400.3 536.1,400.6C537.8,400.9 539.4,401.2 541.0,401.5C542.7,401.9 544.3,402.2 545.9,402.5C547.6,402.9 549.2,403.2 550.8,403.5C552.5,403.9 554.1,404.2 555.7,404.6C557.3,405.0 559.0,405.4 560.6,405.8C562.2,406.2 563.8,406.7 565.4,407.1C567.0,407.6 568.6,408.1 570.2,408.6C571.8,409.2 573.3,409.7 574.9,410.3C576.4,410.9 578.0,411.6 579.5,412.2C581.0,412.9 582.5,413.6 584.0,414.4C585.5,415.2 586.9,416.0 588.4,416.8C589.8,417.7 591.2,418.6 592.6,419.6C593.9,420.5 595.3,421.5 596.6,422.5C597.9,423.5 599.2,424.6 600.5,425.7C601.7,426.8 603.0,427.9 604.2,429.1C605.4,430.2 606.5,431.4 607.7,432.6C608.8,433.8 610.0,435.0 611.1,436.3C612.1,437.6 613.2,438.8 614.3,440.1C615.3,441.4 616.3,442.8 617.3,444.1C618.3,445.5 619.2,446.8 620.2,448.2C621.1,449.6 622.0,451.0 622.9,452.4C623.8,453.8 624.7,455.2 625.5,456.6C626.4,458.1 627.2,459.5 628.0,461.0C628.8,462.4 629.6,463.9 630.4,465.4C631.1,466.9 631.9,468.4 632.6,469.9C633.3,471.4 634.0,472.9 634.7,474.4C635.4,475.9 636.1,477.5 636.7,479.0C637.4,480.5 638.0,482.1 638.6,483.6C639.2,485.2 639.8,486.7 640.4,488.3C641.0,489.8 641.6,491.4 642.2,493.0C642.8,494.5 643.3,496.1 643.9,497.7C644.4,499.2 645.0,500.8 645.5,502.4C646.0,504.0 646.6,505.6 647.1,507.1C647.6,508.7 648.1,510.3 648.7,511.9C649.2,513.5 649.7,515.1 650.2,516.6C650.8,518.2 651.3,519.8 651.8,521.4C652.3,523.0 652.8,524.6 653.4,526.1C653.9,527.7 654.4,529.3 654.9,530.9C655.5,532.5 656.0,534.0 656.5,535.6C657.1,537.2 657.6,538.8 658.1,540.4C658.6,542.0 659.2,543.5 659.7,545.1C660.2,546.7 660.7,548.3 661.3,549.9C661.8,551.4 662.3,553.0 662.8,554.6C663.4,556.2 663.9,557.8 664.4,559.4C664.9,560.9 665.4,562.5 665.9,564.1C666.4,565.7 667.0,567.3 667.5,568.9C668.0,570.5 668.5,572.1 669.0,573.7C669.5,575.2 670.0,576.8 670.4,578.4C670.9,580.0 671.4,581.6 671.9,583.2C672.4,584.8 672.8,586.4 673.3,588.0C673.8,589.6 674.2,591.2 674.7,592.8C675.2,594.4 675.6,596.0 676.1,597.6C676.5,599.2 676.9,600.8 677.4,602.5C677.8,604.1 678.2,605.7 678.7,607.3C679.1,608.9 679.5,610.5 679.9,612.1C680.4,613.7 680.8,615.4 681.2,617.0C681.6,618.6 682.0,620.2 682.4,621.8C682.8,623.4 683.2,625.1 683.6,626.7C684.0,628.3 684.4,629.9 684.7,631.5C685.1,633.2 685.5,634.8 685.9,636.4C686.3,638.0 686.7,639.7 687.0,641.3C687.4,642.9 687.8,644.5 688.2,646.2C688.5,647.8 688.9,649.4 689.3,651.0C689.6,652.7 690.0,654.3 690.4,655.9C690.7,657.5 691.1,659.2 691.5,660.8C691.8,662.4 692.2,664.0 692.6,665.7C692.9,667.3 693.3,668.9 693.7,670.5C694.0,672.2 694.4,673.8 694.8,675.4C695.1,677.1 695.5,678.7 695.9,680.3C696.2,681.9 696.6,683.6 697.0,685.2C697.3,686.8 697.7,688.4 698.1,690.1C698.5,691.7 698.8,693.3 699.2,694.9C699.6,696.6 700.0,698.2 700.4,699.8C700.7,701.4 701.1,703.0 701.5,704.7C701.9,706.3 702.3,707.9 702.7,709.5C703.1,711.2 703.5,712.8 703.8,714.4C704.2,716.0 704.6,717.6 705.0,719.3C705.4,720.9 705.8,722.5 706.2,724.1C706.6,725.7 707.0,727.3 707.5,729.0C707.9,730.6 708.3,732.2 708.7,733.8C709.1,735.4 709.5,737.0 709.9,738.7C710.3,740.3 710.7,741.9 711.2,743.5C711.6,745.1 712.0,746.7 712.4,748.3C712.8,750.0 713.2,751.6 713.7,753.2C714.1,754.8 714.5,756.4 714.9,758.0C715.4,759.6 715.8,761.2 716.2,762.9C716.6,764.5 717.1,766.1 717.5,767.7C717.9,769.3 718.4,770.9 718.8,772.5C719.2,774.1 719.6,775.7 720.1,777.4C720.5,779.0 720.9,780.6 721.4,782.2C721.8,783.8 722.2,785.4 722.7,787.0C723.1,788.6 723.5,790.2 724.0,791.8C724.4,793.4 724.9,795.1 725.3,796.7C725.7,798.3 726.2,799.9 726.6,801.5C727.0,803.1 727.5,804.7 727.9,806.3C728.3,807.9 728.8,809.5 729.2,811.1C729.7,812.8 730.1,814.4 730.5,816.0C731.0,817.6 731.4,819.2 731.8,820.8C732.3,822.4 732.7,824.0 733.2,825.6C733.6,827.2 734.0,828.8 734.5,830.4C734.9,832.1 735.3,833.7 735.8,835.3C736.2,836.9 736.7,838.5 737.1,840.1C737.6,841.7 738.0,843.3 738.4,844.9C738.9,846.5 739.3,848.1 739.8,849.7C740.2,851.3 740.7,852.9 741.1,854.6C741.6,856.2 742.0,857.8 742.5,859.4C743.0,861.0 743.4,862.6 743.9,864.2C744.3,865.8 744.8,867.4 745.3,869.0C745.7,870.6 746.2,872.2 746.7,873.8C747.2,875.4 747.7,877.0 748.1,878.6C748.6,880.2 749.1,881.7 749.6,883.3C750.1,884.9 750.6,886.5 751.1,888.1C751.6,889.7 752.1,891.3 752.6,892.9C753.1,894.5 753.6,896.0 754.2,897.6C754.7,899.2 755.2,900.8 755.8,902.4C756.3,904.0 756.8,905.5 757.4,907.1C757.9,908.7 758.5,910.3 759.0,911.8C759.6,913.4 760.1,915.0 760.7,916.5C761.3,918.1 761.9,919.7 762.4,921.2C763.0,922.8 763.6,924.3 764.2,925.9C764.8,927.5 765.4,929.0 766.0,930.6C766.7,932.1 767.3,933.7 767.9,935.2C768.5,936.7 769.2,938.3 769.8,939.8C770.5,941.4 771.1,942.9 771.8,944.4C772.4,946.0 773.1,947.5 773.8,949.0C774.5,950.5 775.1,952.1 775.8,953.6C776.5,955.1 777.2,956.6 778.0,958.1C778.7,959.6 779.4,961.1 780.1,962.6C780.9,964.1 781.6,965.6 782.3,967.1C783.1,968.6 783.9,970.1 784.6,971.5C785.4,973.0 786.2,974.5 787.0,975.9C787.8,977.4 788.6,978.9 789.4,980.3C790.2,981.8 791.0,983.2 791.8,984.7"/><path stroke="#00a0ff" d="M139.9,145.5C141.5,146.2 143.0,146.9 144.5,147.5C146.1,148.2 147.6,148.8 149.2,149.5C150.7,150.1 152.3,150.7 153.8,151.4C155.4,152.0 156.9,152.6 158.5,153.2C160.0,153.8 161.6,154.5 163.2,155.0C164.7,155.6 166.3,156.2 167.9,156.8C169.4,157.4 171.0,158.0 172.6,158.5C174.2,159.1 175.7,159.6 177.3,160.2C178.9,160.7 180.5,161.3 182.1,161.8C183.6,162.3 185.2,162.9 186.8,163.4C188.4,163.9 190.0,164.4 191.6,164.9C193.2,165.4 194.8,165.9 196.4,166.3C198.0,166.8 199.6,167.3 201.2,167.8C202.8,168.2 204.5,168.7 206.1,169.1C207.7,169.6 209.3,170.0 210.9,170.4C212.5,170.9 214.2,171.3 215.8,171.7C217.4,172.1 219.0,172.5 220.6,172.9C222.3,173.3 223.9,173.7 225.5,174.0C227.2,174.4 228.8,174.8 230.4,175.1C232.1,175.5 233.7,175.8 235.3,176.2C237.0,176.5 238.6,176.8 240.3,177.1C241.9,177.5 243.6,177.8 245.2,178.1C246.8,178.4 248.5,178.7 250.1,178.9C251.8,179.2 253.4,179.5 255.1,179.8C256.7,180.0 258.4,180.3 260.1,180.5C261.7,180.8 263.4,181.0 265.0,181.2C266.7,181.4 268.3,181.7 270.0,181.9C271.7,182.1 273.3,182.3 275.0,182.5C276.6,182.6 278.3,182.8 280.0,183.0C281.6,183.2 283.3,183.3 285.0,183.5C286.6,183.6 288.3,183.7 290.0,183.9C291.6,184.0 293.3,184.1 295.0,184.2C296.7,184.3 298.3,184.4 300.0,184.5C301.7,184.6 303.3,184.7 305.0,184.8C306.7,184.8 308.3,184.9 310.0,184.9C311.7,185.0 313.4,185.0 315.0,185.1C316.7,185.1 318.4,185.1 320.1,185.1C321.7,185.1 323.4,185.1 325.1,185.1C326.8,185.1 328.4,185.1 330.1,185.1C331.8,185.1 333.4,185.0 335.1,185.0C336.8,184.9 338.5,184.9 340.1,184.8C341.8,184.7 343.5,184.6 345.1,184.6C346.8,184.5 348.5,184.4 350.2,184.3C351.8,184.2 353.5,184.0 355.2,183.9C356.8,183.8 358.5,183.7 360.2,183.5C361.8,183.4 363.5,183.2 365.2,183.1C366.8,182.9 368.5,182.8 370.2,182.6C371.8,182.4 373.5,182.3 375.2,182.1C376.8,181.9 378.5,181.8 380.2,181.6C381.8,181.4 383.5,181.2 385.1,181.1C386.8,180.9 388.5,180.7 390.1,180.5C391.8,180.4 393.5,180.2 395.1,180.0C396.8,179.8 398.5,179.6 400.1,179.5C401.8,179.3 403.4,179.1 405.1,179.0C406.8,178.8 408.4,178.6 410.1,178.5C411.8,178.3 413.4,178.1 415.1,178.0C416.8,177.9 418.4,177.7 420.1,177.6C421.8,177.4 423.4,177.3 425.1,177.2C426.8,177.1 428.4,177.0 430.1,176.9C431.8,176.8 433.5,176.7 435.1,176.6C436.8,176.5 438.5,176.4 440.1,176.4C441.8,176.3 443.5,176.3 445.2,176.2C446.8,176.2 448.5,176.2 450.2,176.2C451.8,176.2 453.5,176.2 455.2,176.2C456.9,176.2 458.5,176.2 460.2,176.3C461.9,176.4 463.6,176.4 465.2,176.5C466.9,176.6 468.6,176.7 470.2,176.8C471.9,177.0 473.6,177.1 475.2,177.3C476.9,177.5 478.6,177.6 480.2,177.9C481.9,178.1 483.5,178.3 485.2,178.5C486.8,178.8 488.5,179.1 490.1,179.4C491.8,179.7 493.4,180.0 495.1,180.3C496.7,180.6 498.4,181.0 500.0,181.4C501.6,181.7 503.2,182.1 504.9,182.6C506.5,183.0 508.1,183.4 509.7,183.9C511.3,184.3 512.9,184.8 514.5,185.3C516.1,185.8 517.7,186.3 519.3,186.9C520.9,187.4 522.4,188.0 524.0,188.6C525.6,189.1 527.1,189.7 528.7,190.4C530.2,191.0 531.8,191.6 533.3,192.3C534.9,192.9 536.4,193.6 537.9,194.3C539.4,195.0 540.9,195.8 542.4,196.5C543.9,197.2 545.4,198.0 546.9,198.8C548.4,199.6 549.8,200.4 551.3,201.2C552.8,202.0 554.2,202.9 555.6,203.7C557.1,204.6 558.5,205.5 559.9,206.4C561.3,207.3 562.7,208.2 564.1,209.2C565.4,210.1 566.8,211.1 568.2,212.1C569.5,213.1 570.9,214.1 572.2,215.1C573.5,216.1 574.8,217.2 576.1,218.2C577.4,219.3 578.6,220.4 579.9,221.5C581.1,222.6 582.4,223.8 583.6,224.9C584.8,226.1 586.0,227.2 587.2,228.4C588.4,229.6 589.5,230.8 590.7,232.0C591.8,233.3 592.9,234.5 594.0,235.8C595.1,237.0 596.2,238.3 597.2,239.6C598.3,240.9 599.3,242.2 600.4,243.6C601.4,244.9 602.4,246.2 603.4,247.6C604.3,248.9 605.3,250.3 606.2,251.7C607.2,253.1 608.1,254.5 609.0,255.9C609.9,257.3 610.8,258.7 611.7,260.1C612.6,261.5 613.5,263.0 614.3,264.4C615.1,265.8 616.0,267.3 616.8,268.7C617.6,270.2 618.4,271.7 619.2,273.1C620.0,274.6 620.8,276.1 621.5,277.6C622.3,279.1 623.1,280.6 623.8,282.1C624.5,283.6 625.3,285.1 626.0,286.6C626.7,288.1 627.4,289.6 628.1,291.1C628.8,292.7 629.5,294.2 630.2,295.7C630.9,297.2 631.5,298.8 632.2,300.3C632.9,301.8 633.5,303.4 634.2,304.9C634.8,306.5 635.4,308.0 636.1,309.6C636.7,311.1 637.3,312.7 638.0,314.2C638.6,315.8 639.2,317.3 639.8,318.9C640.4,320.4 641.0,322.0 641.6,323.6C642.2,325.1 642.8,326.7 643.4,328.2C644.0,329.8 644.6,331.4 645.2,332.9C645.8,334.5 646.4,336.1 646.9,337.7C647.5,339.2 648.1,340.8 648.7,342.4C649.2,343.9 649.8,345.5 650.4,347.1C650.9,348.7 651.5,350.2 652.0,351.8C652.6,353.4 653.1,355.0 653.7,356.6C654.2,358.2 654.8,359.7 655.3,361.3C655.8,362.9 656.4,364.5 656.9,366.1C657.4,367.7 658.0,369.3 658.5,370.8C659.0,372.4 659.5,374.0 660.0,375.6C660.6,377.2 661.1,378.8 661.6,380.4C662.1,382.0 662.6,383.6 663.1,385.2C663.6,386.8 664.1,388.4 664.6,390.0C665.1,391.6 665.6,393.1 666.1,394.7C666.6,396.3 667.1,397.9 667.6,399.5C668.1,401.1 668.6,402.7 669.0,404.3C669.5,405.9 670.0,407.5 670.5,409.2C671.0,410.8 671.5,412.4 671.9,414.0C672.4,415.6 672.9,417.2 673.4,418.8C673.8,420.4 674.3,422.0 674.8,423.6C675.2,425.2 675.7,426.8 676.2,428.4C676.6,430.0 677.1,431.6 677.6,433.2C678.0,434.8 678.5,436.4 678.9,438.1C679.4,439.7 679.9,441.3 680.3,442.9C680.8,444.5 681.2,446.1 681.7,447.7C682.2,449.3 682.6,450.9 683.1,452.5C683.5,454.2 684.0,455.8 684.4,457.4C684.9,459.0 685.3,460.6 685.8,462.2C686.2,463.8 686.7,465.4 687.1,467.0C687.6,468.6 688.0,470.3 688.5,471.9C688.9,473.5 689.4,475.1 689.8,476.7C690.3,478.3 690.7,479.9 691.2,481.5C691.6,483.1 692.1,484.8 692.6,486.4C693.0,488.0 693.5,489.6 693.9,491.2C694.4,492.8 694.8,494.4 695.3,496.0C695.7,497.6 696.2,499.3 696.6,500.9C697.1,502.5 697.5,504.1 698.0,505.7C698.4,507.3 698.9,508.9 699.3,510.5C699.8,512.1 700.2,513.8 700.7,515.4C701.1,517.0 701.6,518.6 702.0,520.2C702.5,521.8 703.0,523.4 703.4,525.0C703.9,526.6 704.3,528.2 704.8,529.9C705.2,531.5 705.7,533.1 706.1,534.7C706.6,536.3 707.1,537.9 707.5,539.5C708.0,541.1 708.4,542.7 708.9,544.3C709.4,546.0 709.8,547.6 710.3,549.2C710.7,550.8 711.2,552.4 711.6,554.0C712.1,555.6 712.6,557.2 713.0,558.8C713.5,560.4 713.9,562.0 714.4,563.7C714.8,565.3 715.3,566.9 715.7,568.5C716.2,570.1 716.6,571.7 717.1,573.3C717.5,574.9 718.0,576.5 718.4,578.2C718.9,579.8 719.3,581.4 719.7,583.0C720.2,584.6 720.6,586.2 721.1,587.8C721.5,589.5 721.9,591.1 722.3,592.7C722.8,594.3 723.2,595.9 723.6,597.6C724.0,599.2 724.5,600.8 724.9,602.4C725.3,604.0 725.7,605.7 726.1,607.3C726.5,608.9 726.9,610.5 727.3,612.1C727.8,613.8 728.2,615.4 728.6,617.0C729.0,618.6 729.4,620.3 729.7,621.9C730.1,623.5 730.5,625.1 730.9,626.8C731.3,628.4 731.7,630.0 732.1,631.6C732.5,633.3 732.9,634.9 733.3,636.5C733.7,638.2 734.1,639.8 734.4,641.4C734.8,643.0 735.2,644.7 735.6,646.3C736.0,647.9 736.4,649.5 736.8,651.2C737.1,652.8 737.5,654.4 737.9,656.1C738.3,657.7 738.7,659.3 739.1,660.9C739.5,662.6 739.9,664.2 740.2,665.8C740.6,667.5 741.0,669.1 741.4,670.7C741.8,672.3 742.2,674.0 742.6,675.6C743.0,677.2 743.4,678.8 743.8,680.5C744.2,682.1 744.6,683.7 745.0,685.3C745.4,687.0 745.8,688.6 746.2,690.2C746.6,691.8 747.0,693.4 747.5,695.1C747.9,696.7 748.3,698.3 748.7,699.9C749.1,701.5 749.6,703.2 750.0,704.8C750.4,706.4 750.9,708.0 751.3,709.6C751.7,711.2 752.2,712.9 752.6,714.5C753.0,716.1 753.5,717.7 753.9,719.3C754.4,720.9 754.8,722.5 755.3,724.1C755.7,725.8 756.2,727.4 756.7,729.0C757.1,730.6 757.6,732.2 758.0,733.8C758.5,735.4 759.0,737.0 759.5,738.6C759.9,740.2 760.4,741.8 760.9,743.4C761.4,745.0 761.8,746.6 762.3,748.2C762.8,749.8 763.3,751.4 763.8,753.0C764.3,754.6 764.8,756.2 765.2,757.8C765.7,759.4 766.2,761.0 766.7,762.6C767.2,764.2 767.7,765.8 768.2,767.4C768.7,769.0 769.3,770.6 769.8,772.2C770.3,773.8 770.8,775.4 771.3,777.0C771.8,778.6 772.3,780.2 772.9,781.8C773.4,783.3 773.9,784.9 774.4,786.5C774.9,788.1 775.5,789.7 776.0,791.3C776.5,792.9 777.1,794.5 777.6,796.0C778.1,797.6 778.7,799.2 779.2,800.8C779.7,802.4 780.3,804.0 780.8,805.6C781.4,807.1 781.9,808.7 782.4,810.3C783.0,811.9 783.5,813.5 784.1,815.0C784.6,816.6 785.2,818.2 785.8,819.8C786.3,821.4 786.9,822.9 787.4,824.5C788.0,826.1 788.5,827.7 789.1,829.2C789.7,830.8 790.2,832.4 790.8,834.0C791.4,835.5 791.9,837.1 792.5,838.7C793.1,840.3 793.6,841.8 794.2,843.4C794.8,845.0 795.4,846.5 795.9,848.1C796.5,849.7 797.1,851.3 797.7,852.8C798.3,854.4 798.9,856.0 799.4,857.5C800.0,859.1 800.6,860.7 801.2,862.2C801.8,863.8 802.4,865.4 803.0,866.9C803.6,868.5 804.2,870.0 804.8,871.6C805.4,873.2 806.0,874.7 806.6,876.3C807.2,877.9 807.8,879.4 808.4,881.0C809.0,882.5 809.6,884.1 810.2,885.7C810.8,887.2 811.4,888.8 812.0,890.3C812.6,891.9 813.3,893.4 813.9,895.0C814.5,896.5 815.1,898.1 815.7,899.7C816.4,901.2 817.0,902.8 817.6,904.3C818.2,905.9 818.9,907.4 819.5,909.0C820.1,910.5 820.7,912.1 821.4,913.6C822.0,915.2 822.6,916.7 823.3,918.3C823.9,919.8 824.6,921.4 825.2,922.9C825.8,924.4 826.5,926.0 827.1,927.5C827.8,929.1 828.4,930.6 829.1,932.2C829.7,933.7 830.4,935.3 831.0,936.8C831.7,938.3 832.3,939.9 833.0,941.4C833.6,943.0 834.3,944.5 834.9,946.0"/><path stroke="#00a0ff" d="M140.3,433.8C142.0,433.6 143.6,433.5 145.3,433.3C146.9,433.1 148.6,433.0 150.3,432.8C151.9,432.7 153.6,432.5 155.3,432.3C156.9,432.2 158.6,432.0 160.2,431.9C161.9,431.7 163.6,431.6 165.2,431.5C166.9,431.3 168.6,431.2 170.2,431.1C171.9,430.9 173.6,430.8 175.2,430.7C176.9,430.6 178.6,430.5 180.2,430.4C181.9,430.3 183.6,430.3 185.3,430.2C186.9,430.2 188.6,430.1 190.3,430.1C191.9,430.1 193.6,430.0 195.3,430.0C197.0,430.0 198.6,430.1 200.3,430.1C202.0,430.2 203.6,430.2 205.3,430.3C207.0,430.4 208.6,430.5 210.3,430.6C212.0,430.7 213.6,430.9 215.3,431.1C217.0,431.2 218.6,431.4 220.3,431.7C221.9,431.9 223.6,432.2 225.2,432.4C226.9,432.7 228.5,433.0 230.2,433.4C231.8,433.7 233.4,434.1 235.0,434.5C236.7,434.9 238.3,435.4 239.9,435.8C241.5,436.3 243.1,436.8 244.7,437.3C246.2,437.8 247.8,438.4 249.4,439.0C251.0,439.5 252.5,440.1 254.1,440.8C255.6,441.4 257.2,442.0 258.7,442.6C260.3,443.2 261.8,443.9 263.4,444.5C264.9,445.2 266.4,445.8 268.0,446.5C269.5,447.1 271.1,447.8 272.6,448.4C274.1,449.1 275.7,449.7 277.2,450.4C278.8,451.0 280.3,451.6 281.9,452.3C283.4,452.9 285.0,453.5 286.6,454.0C288.1,454.6 289.7,455.2 291.3,455.7C292.9,456.2 294.5,456.7 296.1,457.2C297.7,457.7 299.3,458.1 300.9,458.5C302.5,458.9 304.1,459.3 305.8,459.6C307.4,459.9 309.1,460.2 310.7,460.4C312.4,460.6 314.1,460.8 315.7,460.9C317.4,461.0 319.1,461.1 320.7,461.1C322.4,461.1 324.1,461.0 325.7,460.9C327.4,460.8 329.1,460.7 330.7,460.5C332.4,460.3 334.1,460.1 335.7,459.8C337.3,459.5 339.0,459.2 340.6,458.8C342.2,458.5 343.9,458.1 345.5,457.6C347.1,457.2 348.7,456.7 350.3,456.2C351.9,455.7 353.5,455.2 355.0,454.6C356.6,454.0 358.2,453.5 359.7,452.8C361.3,452.2 362.8,451.6 364.3,450.9C365.9,450.2 367.4,449.5 368.9,448.8C370.4,448.0 371.9,447.3 373.4,446.5C374.8,445.7 376.3,444.9 377.8,444.1C379.2,443.3 380.7,442.5 382.1,441.6C383.6,440.8 385.0,440.0 386.5,439.1C387.9,438.2 389.3,437.4 390.8,436.5C392.2,435.6 393.6,434.8 395.0,433.9C396.5,433.0 397.9,432.2 399.3,431.3C400.7,430.4 402.2,429.6 403.6,428.7C405.1,427.9 406.5,427.0 408.0,426.2C409.4,425.4 410.9,424.6 412.3,423.8C413.8,423.0 415.3,422.2 416.8,421.5C418.3,420.7 419.8,420.0 421.3,419.3C422.8,418.6 424.4,418.0 425.9,417.3C427.5,416.7 429.0,416.1 430.6,415.6C432.2,415.0 433.8,414.5 435.4,414.1C437.0,413.6 438.6,413.2 440.3,412.8C441.9,412.5 443.5,412.2 445.2,411.9C446.8,411.6 448.5,411.4 450.1,411.3C451.8,411.1 453.5,410.9 455.1,410.8C456.8,410.7 458.5,410.7 460.2,410.6C461.8,410.6 463.5,410.6 465.2,410.6C466.8,410.7 468.5,410.7 470.2,410.8C471.8,410.9 473.5,411.0 475.2,411.1C476.8,411.2 478.5,411.4 480.2,411.6C481.8,411.7 483.5,411.9 485.1,412.2C486.8,412.4 488.5,412.6 490.1,412.8C491.8,413.1 493.4,413.4 495.1,413.7C496.7,413.9 498.4,414.2 500.0,414.6C501.6,414.9 503.3,415.2 504.9,415.6C506.5,415.9 508.2,416.3 509.8,416.7C511.4,417.0 513.0,417.4 514.7,417.8C516.3,418.2 517.9,418.6 519.5,419.1C521.1,419.5 522.8,419.9 524.4,420.4C526.0,420.8 527.6,421.3 529.2,421.8C530.8,422.2 532.4,422.7 534.0,423.2C535.6,423.6 537.2,424.1 538.8,424.6C540.4,425.1 542.0,425.6 543.6,426.1C545.2,426.6 546.8,427.1 548.4,427.6C549.9,428.2 551.5,428.7 553.1,429.2C554.7,429.7 556.3,430.2 557.9,430.8C559.5,431.3 561.0,431.8 562.6,432.4C564.2,433.0 565.8,433.5 567.3,434.1C568.9,434.7 570.5,435.3 572.0,435.9C573.5,436.6 575.1,437.2 576.6,437.9C578.1,438.6 579.7,439.3 581.2,440.0C582.7,440.7 584.2,441.5 585.6,442.3C587.1,443.1 588.6,443.9 590.0,444.7C591.4,445.6 592.8,446.5 594.2,447.4C595.6,448.4 597.0,449.3 598.3,450.3C599.6,451.4 600.9,452.4 602.2,453.5C603.5,454.6 604.7,455.7 605.9,456.9C607.1,458.1 608.3,459.3 609.4,460.5C610.5,461.7 611.6,463.0 612.7,464.2C613.8,465.5 614.8,466.8 615.8,468.1C616.9,469.5 617.8,470.8 618.8,472.2C619.8,473.5 620.7,474.9 621.6,476.3C622.5,477.7 623.4,479.1 624.3,480.6C625.2,482.0 626.0,483.4 626.8,484.9C627.7,486.3 628.5,487.8 629.3,489.3C630.1,490.8 630.8,492.2 631.6,493.7C632.4,495.2 633.1,496.7 633.8,498.2C634.6,499.7 635.3,501.2 636.0,502.7C636.7,504.2 637.4,505.7 638.1,507.3C638.8,508.8 639.5,510.3 640.2,511.8C640.9,513.3 641.6,514.9 642.3,516.4C642.9,517.9 643.6,519.5 644.3,521.0C644.9,522.5 645.6,524.1 646.2,525.6C646.9,527.1 647.5,528.7 648.2,530.2C648.8,531.8 649.4,533.3 650.1,534.9C650.7,536.4 651.3,538.0 651.9,539.5C652.6,541.1 653.2,542.6 653.8,544.2C654.4,545.7 655.0,547.3 655.6,548.9C656.2,550.4 656.8,552.0 657.4,553.6C657.9,555.1 658.5,556.7 659.1,558.3C659.7,559.8 660.2,561.4 660.8,563.0C661.4,564.5 661.9,566.1 662.5,567.7C663.1,569.3 663.6,570.8 664.2,572.4C664.7,574.0 665.3,575.6 665.8,577.2C666.3,578.7 666.9,580.3 667.4,581.9C667.9,583.5 668.5,585.1 669.0,586.7C669.5,588.2 670.0,589.8 670.6,591.4C671.1,593.0 671.6,594.6 672.1,596.2C672.6,597.8 673.1,599.4 673.6,601.0C674.1,602.5 674.7,604.1 675.2,605.7C675.7,607.3 676.1,608.9 676.6,610.5C677.1,612.1 677.6,613.7 678.1,615.3C678.6,616.9 679.1,618.5 679.6,620.1C680.1,621.7 680.5,623.3 681.0,624.9C681.5,626.5 682.0,628.1 682.5,629.7C682.9,631.3 683.4,632.9 683.9,634.5C684.4,636.1 684.8,637.7 685.3,639.3C685.8,640.9 686.2,642.5 686.7,644.1C687.2,645.7 687.6,647.4 688.1,649.0C688.6,650.6 689.0,652.2 689.5,653.8C689.9,655.4 690.4,657.0 690.9,658.6C691.3,660.2 691.8,661.8 692.2,663.4C692.7,665.0 693.1,666.6 693.6,668.2C694.0,669.8 694.5,671.5 694.9,673.1C695.4,674.7 695.8,676.3 696.3,677.9C696.7,679.5 697.2,681.1 697.6,682.7C698.1,684.3 698.5,685.9 699.0,687.6C699.4,689.2 699.9,690.8 700.3,692.4C700.8,694.0 701.2,695.6 701.7,697.2C702.1,698.8 702.5,700.4 703.0,702.1C703.4,703.7 703.9,705.3 704.3,706.9C704.8,708.5 705.2,710.1 705.6,711.7C706.1,713.3 706.5,714.9 707.0,716.6C707.4,718.2 707.9,719.8 708.3,721.4C708.7,723.0 709.2,724.6 709.6,726.2C710.1,727.8 710.5,729.4 711.0,731.1C711.4,732.7 711.9,734.3 712.3,735.9C712.7,737.5 713.2,739.1 713.6,740.7C714.1,742.3 714.5,743.9 715.0,745.5C715.4,747.2 715.9,748.8 716.3,750.4C716.8,752.0 717.2,753.6 717.7,755.2C718.1,756.8 718.6,758.4 719.0,760.0C719.5,761.6 719.9,763.2 720.4,764.9C720.8,766.5 721.3,768.1 721.8,769.7C722.2,771.3 722.7,772.9 723.1,774.5C723.6,776.1 724.1,777.7 724.5,779.3C725.0,780.9 725.4,782.5 725.9,784.1C726.4,785.7 726.8,787.3 727.3,788.9C727.8,790.5 728.3,792.2 728.7,793.8C729.2,795.4 729.7,797.0 730.1,798.6C730.6,800.2 731.1,801.8 731.6,803.4C732.1,805.0 732.5,806.6 733.0,808.2C733.5,809.8 734.0,811.4 734.5,813.0C735.0,814.6 735.5,816.2 736.0,817.8C736.5,819.4 737.0,820.9 737.4,822.5C737.9,824.1 738.4,825.7 738.9,827.3C739.5,828.9 740.0,830.5 740.5,832.1C741.0,833.7 741.5,835.3 742.0,836.9C742.5,838.5 743.0,840.1 743.5,841.6C744.1,843.2 744.6,844.8 745.1,846.4C745.6,848.0 746.2,849.6 746.7,851.2C747.2,852.7 747.8,854.3 748.3,855.9C748.8,857.5 749.4,859.1 749.9,860.7C750.5,862.2 751.0,863.8 751.6,865.4C752.1,867.0 752.7,868.5 753.2,870.1C753.8,871.7 754.3,873.3 754.9,874.8C755.5,876.4 756.0,878.0 756.6,879.6C757.2,881.1 757.8,882.7 758.3,884.3C758.9,885.8 759.5,887.4 760.1,889.0C760.7,890.5 761.3,892.1 761.9,893.6C762.5,895.2 763.1,896.8 763.7,898.3C764.3,899.9 764.9,901.4 765.5,903.0C766.1,904.6 766.7,906.1 767.3,907.7C768.0,909.2 768.6,910.8 769.2,912.3C769.8,913.9 770.5,915.4 771.1,916.9C771.7,918.5 772.4,920.0 773.0,921.6C773.7,923.1 774.3,924.7 775.0,926.2C775.7,927.7 776.3,929.3 777.0,930.8C777.6,932.3 778.3,933.9 779.0,935.4C779.7,936.9 780.3,938.4 781.0,940.0C781.7,941.5 782.4,943.0 783.1,944.5C783.8,946.1 784.5,947.6 785.2,949.1C785.9,950.6 786.6,952.1 787.3,953.6C788.0,955.1 788.8,956.6 789.5,958.1C790.2,959.6 791.0,961.2 791.7,962.7C792.4,964.2 793.2,965.6 793.9,967.1C794.7,968.6 795.4,970.1 796.2,971.6C796.9,973.1 797.7,974.6 798.5,976.1C799.2,977.6 800.0,979.0 800.8,980.5C801.6,982.0 802.4,983.5 803.1,984.9"/><path stroke="#880000" d="M140.0,252.1C141.4,253.0 142.8,253.9 144.2,254.7C145.6,255.6 147.1,256.5 148.5,257.3C150.0,258.2 151.4,259.0 152.9,259.8C154.3,260.6 155.8,261.4 157.3,262.2C158.8,263.0 160.2,263.8 161.7,264.5C163.2,265.3 164.7,266.0 166.3,266.7C167.8,267.4 169.3,268.1 170.8,268.8C172.4,269.4 173.9,270.1 175.5,270.7C177.0,271.3 178.6,272.0 180.1,272.5C181.7,273.1 183.3,273.7 184.9,274.2C186.5,274.7 188.1,275.2 189.7,275.7C191.3,276.1 192.9,276.6 194.5,277.0C196.1,277.4 197.8,277.8 199.4,278.1C201.0,278.4 202.7,278.7 204.3,279.0C206.0,279.3 207.7,279.5 209.3,279.7C211.0,279.8 212.7,280.0 214.3,280.1C216.0,280.1 217.7,280.2 219.3,280.2C221.0,280.2 222.7,280.1 224.4,280.0C226.0,279.9 227.7,279.7 229.3,279.5C231.0,279.3 232.7,279.0 234.3,278.7C235.9,278.4 237.6,278.0 239.2,277.6C240.8,277.2 242.4,276.7 244.0,276.2C245.6,275.7 247.2,275.2 248.8,274.6C250.3,274.0 251.9,273.3 253.4,272.7C254.9,272.0 256.5,271.3 258.0,270.6C259.5,269.8 261.0,269.1 262.4,268.3C263.9,267.5 265.3,266.6 266.8,265.8C268.2,264.9 269.7,264.1 271.1,263.2C272.5,262.3 273.9,261.4 275.3,260.4C276.7,259.5 278.1,258.6 279.4,257.6C280.8,256.7 282.2,255.7 283.5,254.7C284.9,253.8 286.3,252.8 287.6,251.8C289.0,250.8 290.3,249.8 291.7,248.8C293.0,247.9 294.4,246.9 295.7,245.9C297.1,244.9 298.4,243.9 299.8,242.9C301.1,241.9 302.5,241.0 303.8,240.0C305.2,239.0 306.6,238.0 307.9,237.1C309.3,236.1 310.7,235.2 312.1,234.3C313.5,233.3 314.9,232.4 316.3,231.5C317.7,230.6 319.1,229.7 320.6,228.9C322.0,228.0 323.4,227.2 324.9,226.4C326.4,225.6 327.8,224.8 329.3,224.0C330.8,223.3 332.3,222.6 333.9,221.9C335.4,221.2 336.9,220.5 338.5,220.0C340.1,219.4 341.7,218.8 343.2,218.3C344.8,217.8 346.5,217.3 348.1,216.9C349.7,216.5 351.3,216.1 353.0,215.8C354.6,215.4 356.2,215.1 357.9,214.8C359.5,214.6 361.2,214.3 362.9,214.1C364.5,213.9 366.2,213.8 367.9,213.6C369.5,213.5 371.2,213.4 372.9,213.3C374.5,213.2 376.2,213.1 377.9,213.0C379.5,213.0 381.2,213.0 382.9,212.9C384.6,212.9 386.2,212.9 387.9,212.9C389.6,212.9 391.3,213.0 392.9,213.0C394.6,213.0 396.3,213.1 397.9,213.1C399.6,213.2 401.3,213.2 403.0,213.3C404.6,213.3 406.3,213.4 408.0,213.5C409.6,213.5 411.3,213.6 413.0,213.6C414.7,213.7 416.3,213.8 418.0,213.8C419.7,213.8 421.4,213.9 423.0,213.9C424.7,213.9 426.4,214.0 428.0,214.0C429.7,214.0 431.4,214.0 433.1,214.0C434.7,213.9 436.4,213.9 438.1,213.9C439.8,213.8 441.4,213.7 443.1,213.7C444.8,213.6 446.4,213.5 448.1,213.3C449.8,213.2 451.4,213.0 453.1,212.8C454.8,212.7 456.4,212.4 458.1,212.2C459.7,212.0 461.4,211.7 463.0,211.4C464.7,211.1 466.3,210.8 468.0,210.4C469.6,210.1 471.2,209.7 472.9,209.3C474.5,209.0 476.1,208.6 477.7,208.1C479.3,207.7 481.0,207.3 482.6,206.9C484.2,206.4 485.8,206.0 487.4,205.5C489.0,205.0 490.6,204.6 492.2,204.1C493.8,203.6 495.4,203.2 497.0,202.7C498.7,202.2 500.3,201.8 501.9,201.3C503.5,200.8 505.1,200.4 506.7,199.9C508.3,199.4 509.9,199.0 511.5,198.5C513.1,198.1 514.8,197.7 516.4,197.3C518.0,196.8 519.6,196.4 521.2,196.0C522.9,195.7 524.5,195.3 526.1,194.9C527.8,194.6 529.4,194.3 531.1,194.0C532.7,193.7 534.4,193.4 536.0,193.2C537.7,192.9 539.3,192.7 541.0,192.5C542.7,192.3 544.3,192.2 546.0,192.1C547.7,192.0 549.3,191.9 551.0,191.9C552.7,191.9 554.4,191.9 556.0,192.0C557.7,192.0 559.4,192.1 561.0,192.3C562.7,192.4 564.4,192.6 566.0,192.9C567.7,193.1 569.3,193.4 571.0,193.8C572.6,194.1 574.2,194.5 575.8,194.9C577.5,195.3 579.1,195.8 580.6,196.4C582.2,196.9 583.8,197.5 585.4,198.1C586.9,198.7 588.4,199.4 589.9,200.1C591.4,200.9 592.9,201.6 594.4,202.5C595.8,203.3 597.3,204.2 598.7,205.1C600.1,206.0 601.4,207.0 602.8,207.9C604.1,208.9 605.5,210.0 606.7,211.0C608.0,212.1 609.3,213.2 610.5,214.3C611.8,215.5 613.0,216.6 614.1,217.8C615.3,219.0 616.5,220.2 617.6,221.4C618.7,222.7 619.8,223.9 620.9,225.2C622.0,226.5 623.0,227.8 624.0,229.1C625.1,230.5 626.0,231.8 627.0,233.2C628.0,234.5 628.9,235.9 629.9,237.3C630.8,238.7 631.7,240.1 632.6,241.5C633.4,243.0 634.3,244.4 635.1,245.9C636.0,247.3 636.8,248.8 637.6,250.2C638.4,251.7 639.2,253.2 640.0,254.7C640.7,256.1 641.5,257.6 642.2,259.1C643.0,260.6 643.7,262.1 644.4,263.7C645.1,265.2 645.8,266.7 646.5,268.2C647.2,269.7 647.9,271.3 648.5,272.8C649.2,274.3 649.8,275.9 650.5,277.4C651.1,279.0 651.8,280.5 652.4,282.1C653.1,283.6 653.7,285.2 654.3,286.7C654.9,288.3 655.5,289.8 656.1,291.4C656.7,293.0 657.3,294.5 657.9,296.1C658.5,297.7 659.0,299.2 659.6,300.8C660.2,302.4 660.7,303.9 661.3,305.5C661.9,307.1 662.4,308.7 662.9,310.3C663.5,311.9 664.0,313.4 664.5,315.0C665.1,316.6 665.6,318.2 666.1,319.8C666.6,321.4 667.1,323.0 667.6,324.6C668.1,326.2 668.6,327.8 669.1,329.4C669.6,331.0 670.1,332.6 670.6,334.2C671.1,335.8 671.6,337.4 672.0,339.0C672.5,340.6 673.0,342.2 673.4,343.8C673.9,345.4 674.4,347.0 674.8,348.6C675.3,350.2 675.8,351.8 676.2,353.4C676.7,355.1 677.1,356.7 677.6,358.3C678.0,359.9 678.5,361.5 678.9,363.1C679.4,364.7 679.8,366.3 680.2,367.9C680.7,369.6 681.1,371.2 681.6,372.8C682.0,374.4 682.4,376.0 682.9,377.6C683.3,379.3 683.7,380.9 684.2,382.5C684.6,384.1 685.0,385.7 685.5,387.3C685.9,388.9 686.4,390.6 686.8,392.2C687.2,393.8 687.7,395.4 688.1,397.0C688.5,398.6 689.0,400.3 689.4,401.9C689.8,403.5 690.2,405.1 690.7,406.7C691.1,408.3 691.5,410.0 692.0,411.6C692.4,413.2 692.8,414.8 693.3,416.4C693.7,418.0 694.1,419.7 694.6,421.3C695.0,422.9 695.4,424.5 695.8,426.1C696.3,427.7 696.7,429.4 697.1,431.0C697.6,432.6 698.0,434.2 698.4,435.8C698.8,437.4 699.3,439.1 699.7,440.7C700.1,442.3 700.5,443.9 701.0,445.5C701.4,447.1 701.8,448.8 702.2,450.4C702.7,452.0 703.1,453.6 703.5,455.2C704.0,456.9 704.4,458.5 704.8,460.1C705.2,461.7 705.7,463.3 706.1,464.9C706.5,466.6 706.9,468.2 707.4,469.8C707.8,471.4 708.2,473.0 708.6,474.7C709.1,476.3 709.5,477.9 709.9,479.5C710.3,481.1 710.7,482.7 711.2,484.4C711.6,486.0 712.0,487.6 712.4,489.2C712.9,490.8 713.3,492.5 713.7,494.1C714.1,495.7 714.6,497.3 715.0,498.9C715.4,500.5 715.8,502.2 716.3,503.8C716.7,505.4 717.1,507.0 717.5,508.6C718.0,510.3 718.4,511.9 718.8,513.5C719.2,515.1 719.7,516.7 720.1,518.3C720.5,520.0 720.9,521.6 721.3,523.2C721.8,524.8 722.2,526.4 722.6,528.1C723.0,529.7 723.5,531.3 723.9,532.9C724.3,534.5 724.7,536.1 725.2,537.8C725.6,539.4 726.0,541.0 726.4,542.6C726.9,544.2 727.3,545.9 727.7,547.5C728.1,549.1 728.6,550.7 729.0,552.3C729.4,553.9 729.8,555.6 730.3,557.2C730.7,558.8 731.1,560.4 731.5,562.0C732.0,563.7 732.4,565.3 732.8,566.9C733.2,568.5 733.7,570.1 734.1,571.7C734.5,573.4 734.9,575.0 735.4,576.6C735.8,578.2 736.2,579.8 736.6,581.5C737.1,583.1 737.5,584.7 737.9,586.3C738.3,587.9 738.8,589.5 739.2,591.2C739.6,592.8 740.0,594.4 740.5,596.0C740.9,597.6 741.3,599.3 741.7,600.9C742.2,602.5 742.6,604.1 743.0,605.7C743.4,607.3 743.9,609.0 744.3,610.6C744.7,612.2 745.1,613.8 745.6,615.4C746.0,617.1 746.4,618.7 746.8,620.3C747.3,621.9 747.7,623.5 748.1,625.1C748.5,626.8 748.9,628.4 749.4,630.0C749.8,631.6 750.2,633.2 750.6,634.9C751.1,636.5 751.5,638.1 751.9,639.7C752.3,641.3 752.7,643.0 753.2,644.6C753.6,646.2 754.0,647.8 754.4,649.4C754.8,651.1 755.3,652.7 755.7,654.3C756.1,655.9 756.5,657.5 756.9,659.1C757.4,660.8 757.8,662.4 758.2,664.0C758.6,665.6 759.0,667.2 759.4,668.9C759.9,670.5 760.3,672.1 760.7,673.7C761.1,675.3 761.5,677.0 762.0,678.6C762.4,680.2 762.8,681.8 763.2,683.4C763.6,685.1 764.1,686.7 764.5,688.3C764.9,689.9 765.3,691.5 765.7,693.2C766.2,694.8 766.6,696.4 767.0,698.0C767.4,699.6 767.9,701.3 768.3,702.9C768.7,704.5 769.1,706.1 769.6,707.7C770.0,709.3 770.4,711.0 770.9,712.6C771.3,714.2 771.7,715.8 772.2,717.4C772.6,719.0 773.0,720.7 773.5,722.3C773.9,723.9 774.3,725.5 774.8,727.1C775.2,728.7 775.7,730.3 776.1,731.9C776.6,733.6 777.0,735.2 777.5,736.8C777.9,738.4 778.4,740.0 778.8,741.6C779.3,743.2 779.7,744.8 780.2,746.4C780.7,748.0 781.1,749.7 781.6,751.3C782.1,752.9 782.5,754.5 783.0,756.1C783.5,757.7 784.0,759.3 784.4,760.9C784.9,762.5 785.4,764.1 785.9,765.7C786.4,767.3 786.9,768.9 787.3,770.5C787.8,772.1 788.3,773.7 788.8,775.3C789.3,776.9 789.8,778.5 790.3,780.1C790.8,781.7 791.3,783.3 791.8,784.9C792.3,786.5 792.9,788.1 793.4,789.6C793.9,791.2 794.4,792.8 794.9,794.4C795.4,796.0 796.0,797.6 796.5,799.2C797.0,800.8 797.5,802.4 798.1,804.0C798.6,805.5 799.1,807.1 799.6,808.7C800.2,810.3 800.7,811.9 801.2,813.5C801.8,815.1 802.3,816.6 802.9,818.2C803.4,819.8 803.9,821.4 804.5,823.0C805.0,824.6 805.6,826.1 806.1,827.7C806.7,829.3 807.2,830.9 807.8,832.5C808.3,834.0 808.9,835.6 809.4,837.2C810.0,838.8 810.5,840.4 811.1,841.9C811.6,843.5 812.2,845.1 812.8,846.7C813.3,848.2 813.9,849.8 814.4,851.4C815.0,853.0 815.6,854.5 816.1,856.1C816.7,857.7 817.3,859.3 817.8,860.8C818.4,862.4 819.0,864.0 819.5,865.6C820.1,867.1 820.7,868.7 821.2,870.3C821.8,871.9 822.4,873.4 823.0,875.0C823.5,876.6 824.1,878.1 824.7,879.7C825.2,881.3 825.8,882.9 826.4,884.4C827.0,886.0 827.5,887.6 828.1,889.1C828.7,890.7 829.3,892.3 829.9,893.9C830.4,895.4 831.0,897.0 831.6,898.6C832.2,900.1 832.7,901.7 833.3,903.3C833.9,904.8 834.5,906.4 835.0,908.0"/><path stroke="#880000" d="M140.1,595.6C141.4,596.6 142.7,597.6 144.0,598.7C145.3,599.7 146.6,600.8 147.9,601.8C149.1,602.9 150.4,604.0 151.7,605.1C153.0,606.2 154.2,607.2 155.5,608.3C156.7,609.4 158.0,610.5 159.3,611.6C160.5,612.7 161.8,613.8 163.1,614.9C164.3,615.9 165.6,617.0 166.9,618.1C168.2,619.1 169.5,620.2 170.8,621.2C172.1,622.2 173.4,623.3 174.8,624.3C176.1,625.3 177.5,626.2 178.8,627.2C180.2,628.2 181.6,629.1 183.0,630.0C184.4,630.9 185.8,631.8 187.2,632.6C188.7,633.5 190.1,634.3 191.6,635.1C193.1,635.9 194.6,636.6 196.1,637.3C197.6,638.0 199.1,638.7 200.7,639.3C202.3,639.9 203.8,640.4 205.4,640.9C207.0,641.4 208.6,641.9 210.3,642.2C211.9,642.5 213.6,642.8 215.2,643.0C216.9,643.1 218.5,643.2 220.2,643.2C221.9,643.1 223.5,642.9 225.2,642.6C226.8,642.4 228.5,642.0 230.1,641.5C231.7,641.0 233.2,640.4 234.8,639.8C236.3,639.1 237.8,638.4 239.2,637.6C240.7,636.8 242.1,635.9 243.5,635.0C244.9,634.1 246.3,633.1 247.6,632.1C248.9,631.1 250.2,630.0 251.5,628.9C252.8,627.8 254.0,626.7 255.2,625.6C256.4,624.4 257.6,623.3 258.8,622.1C260.0,620.9 261.1,619.7 262.3,618.4C263.4,617.2 264.5,616.0 265.6,614.7C266.7,613.5 267.8,612.2 268.8,610.9C269.9,609.6 271.0,608.3 272.0,607.0C273.0,605.7 274.1,604.4 275.1,603.1C276.1,601.8 277.1,600.4 278.1,599.1C279.1,597.8 280.1,596.4 281.1,595.0C282.0,593.7 283.0,592.3 284.0,591.0C284.9,589.6 285.9,588.2 286.8,586.8C287.7,585.5 288.7,584.1 289.6,582.7C290.5,581.3 291.4,579.9 292.3,578.5C293.3,577.1 294.2,575.7 295.1,574.3C296.0,572.9 296.9,571.5 297.8,570.1C298.7,568.7 299.6,567.3 300.5,565.9C301.4,564.5 302.2,563.0 303.1,561.6C304.0,560.2 304.9,558.8 305.8,557.4C306.7,556.0 307.6,554.6 308.5,553.2C309.4,551.8 310.3,550.4 311.3,549.0C312.2,547.6 313.1,546.2 314.0,544.8C314.9,543.4 315.9,542.0 316.8,540.7C317.8,539.3 318.7,537.9 319.7,536.5C320.6,535.2 321.6,533.8 322.6,532.5C323.5,531.1 324.5,529.8 325.5,528.4C326.5,527.1 327.5,525.8 328.5,524.4C329.6,523.1 330.6,521.8 331.7,520.5C332.7,519.2 333.8,517.9 334.9,516.7C335.9,515.4 337.0,514.1 338.1,512.9C339.2,511.6 340.4,510.4 341.5,509.2C342.7,508.0 343.8,506.8 345.0,505.6C346.2,504.5 347.4,503.3 348.7,502.2C349.9,501.1 351.2,500.0 352.5,498.9C353.8,497.9 355.1,496.8 356.4,495.8C357.8,494.9 359.1,493.9 360.5,493.0C361.9,492.1 363.3,491.2 364.8,490.4C366.2,489.5 367.7,488.7 369.2,487.9C370.6,487.1 372.1,486.4 373.6,485.7C375.2,485.0 376.7,484.3 378.2,483.6C379.7,483.0 381.3,482.4 382.9,481.8C384.4,481.2 386.0,480.6 387.6,480.1C389.2,479.6 390.8,479.1 392.4,478.6C394.0,478.1 395.6,477.7 397.2,477.3C398.8,476.9 400.4,476.5 402.1,476.2C403.7,475.8 405.3,475.5 407.0,475.2C408.6,474.9 410.3,474.7 411.9,474.4C413.6,474.2 415.2,474.0 416.9,473.8C418.5,473.6 420.2,473.4 421.9,473.3C423.5,473.2 425.2,473.0 426.9,473.0C428.5,472.9 430.2,472.8 431.9,472.7C433.5,472.6 435.2,472.6 436.9,472.6C438.5,472.5 440.2,472.5 441.9,472.5C443.5,472.5 445.2,472.5 446.9,472.5C448.6,472.5 450.2,472.6 451.9,472.6C453.6,472.6 455.2,472.7 456.9,472.7C458.6,472.7 460.2,472.8 461.9,472.8C463.6,472.8 465.2,472.9 466.9,472.9C468.6,473.0 470.2,473.0 471.9,473.1C473.6,473.1 475.3,473.1 476.9,473.1C478.6,473.2 480.3,473.2 481.9,473.2C483.6,473.2 485.3,473.2 486.9,473.2C488.6,473.2 490.3,473.2 491.9,473.1C493.6,473.1 495.3,473.0 496.9,473.0C498.6,472.9 500.3,472.8 501.9,472.8C503.6,472.7 505.3,472.6 506.9,472.4C508.6,472.3 510.3,472.2 511.9,472.0C513.6,471.8 515.2,471.6 516.9,471.4C518.6,471.2 520.2,471.0 521.9,470.7C523.5,470.5 525.2,470.2 526.8,469.9C528.4,469.6 530.1,469.3 531.7,468.9C533.3,468.6 535.0,468.2 536.6,467.8C538.2,467.4 539.8,467.0 541.4,466.5C543.0,466.0 544.6,465.6 546.2,465.1C547.8,464.6 549.4,464.1 551.0,463.5C552.6,463.0 554.2,462.5 555.8,462.0C557.4,461.5 558.9,461.0 560.5,460.5C562.1,460.1 563.7,459.6 565.4,459.2C567.0,458.8 568.6,458.4 570.2,458.0C571.9,457.7 573.5,457.4 575.2,457.1C576.8,456.9 578.5,456.7 580.1,456.6C581.8,456.5 583.5,456.4 585.1,456.4C586.8,456.4 588.5,456.5 590.1,456.6C591.8,456.8 593.5,457.0 595.1,457.3C596.7,457.5 598.4,457.9 600.0,458.3C601.6,458.7 603.2,459.2 604.8,459.8C606.4,460.3 607.9,460.9 609.4,461.7C610.9,462.4 612.4,463.1 613.8,464.0C615.3,464.8 616.7,465.8 618.0,466.8C619.3,467.8 620.6,468.8 621.9,470.0C623.1,471.1 624.3,472.3 625.4,473.5C626.6,474.7 627.7,475.9 628.7,477.2C629.8,478.5 630.8,479.8 631.8,481.2C632.8,482.5 633.7,483.9 634.7,485.3C635.6,486.7 636.5,488.1 637.4,489.5C638.3,490.9 639.1,492.4 640.0,493.8C640.8,495.2 641.6,496.7 642.5,498.1C643.3,499.6 644.1,501.0 644.9,502.5C645.7,504.0 646.5,505.4 647.2,506.9C648.0,508.4 648.8,509.9 649.5,511.4C650.3,512.9 651.0,514.4 651.7,515.9C652.4,517.4 653.2,518.9 653.9,520.4C654.6,521.9 655.3,523.4 655.9,525.0C656.6,526.5 657.3,528.0 657.9,529.6C658.6,531.1 659.2,532.6 659.9,534.2C660.5,535.7 661.2,537.3 661.8,538.8C662.4,540.4 663.0,541.9 663.6,543.5C664.2,545.0 664.8,546.6 665.4,548.1C666.0,549.7 666.6,551.3 667.1,552.8C667.7,554.4 668.3,556.0 668.8,557.6C669.4,559.1 669.9,560.7 670.5,562.3C671.0,563.9 671.5,565.4 672.1,567.0C672.6,568.6 673.1,570.2 673.7,571.8C674.2,573.4 674.7,574.9 675.2,576.5C675.7,578.1 676.2,579.7 676.7,581.3C677.2,582.9 677.7,584.5 678.2,586.1C678.7,587.7 679.2,589.3 679.7,590.9C680.2,592.5 680.7,594.1 681.2,595.6C681.7,597.2 682.1,598.8 682.6,600.4C683.1,602.0 683.6,603.6 684.1,605.2C684.5,606.8 685.0,608.4 685.5,610.0C686.0,611.6 686.4,613.2 686.9,614.8C687.4,616.4 687.9,618.0 688.3,619.6C688.8,621.2 689.3,622.8 689.7,624.4C690.2,626.0 690.6,627.7 691.1,629.3C691.6,630.9 692.0,632.5 692.5,634.1C692.9,635.7 693.4,637.3 693.9,638.9C694.3,640.5 694.8,642.1 695.2,643.7C695.7,645.3 696.1,646.9 696.6,648.5C697.0,650.1 697.5,651.7 697.9,653.4C698.3,655.0 698.8,656.6 699.2,658.2C699.7,659.8 700.1,661.4 700.6,663.0C701.0,664.6 701.4,666.2 701.9,667.8C702.3,669.4 702.8,671.1 703.2,672.7C703.6,674.3 704.1,675.9 704.5,677.5C704.9,679.1 705.4,680.7 705.8,682.3C706.3,683.9 706.7,685.6 707.1,687.2C707.6,688.8 708.0,690.4 708.4,692.0C708.9,693.6 709.3,695.2 709.7,696.8C710.1,698.4 710.6,700.1 711.0,701.7C711.4,703.3 711.9,704.9 712.3,706.5C712.7,708.1 713.2,709.7 713.6,711.4C714.0,713.0 714.4,714.6 714.9,716.2C715.3,717.8 715.7,719.4 716.2,721.0C716.6,722.6 717.0,724.3 717.4,725.9C717.9,727.5 718.3,729.1 718.7,730.7C719.2,732.3 719.6,733.9 720.0,735.5C720.4,737.2 720.9,738.8 721.3,740.4C721.7,742.0 722.2,743.6 722.6,745.2C723.0,746.8 723.5,748.4 723.9,750.1C724.3,751.7 724.7,753.3 725.2,754.9C725.6,756.5 726.0,758.1 726.5,759.7C726.9,761.3 727.3,763.0 727.8,764.6C728.2,766.2 728.7,767.8 729.1,769.4C729.5,771.0 730.0,772.6 730.4,774.2C730.8,775.8 731.3,777.5 731.7,779.1C732.2,780.7 732.6,782.3 733.0,783.9C733.5,785.5 733.9,787.1 734.4,788.7C734.8,790.3 735.3,791.9 735.7,793.5C736.1,795.2 736.6,796.8 737.0,798.4C737.5,800.0 737.9,801.6 738.4,803.2C738.8,804.8 739.3,806.4 739.8,808.0C740.2,809.6 740.7,811.2 741.1,812.8C741.6,814.4 742.0,816.0 742.5,817.6C743.0,819.2 743.4,820.8 743.9,822.4C744.3,824.1 744.8,825.7 745.3,827.3C745.7,828.9 746.2,830.5 746.7,832.1C747.2,833.7 747.6,835.3 748.1,836.9C748.6,838.5 749.1,840.1 749.5,841.7C750.0,843.3 750.5,844.9 751.0,846.4C751.5,848.0 752.0,849.6 752.5,851.2C753.0,852.8 753.5,854.4 754.0,856.0C754.5,857.6 755.0,859.2 755.5,860.8C756.0,862.4 756.5,864.0 757.0,865.6C757.5,867.1 758.0,868.7 758.6,870.3C759.1,871.9 759.6,873.5 760.1,875.1C760.7,876.6 761.2,878.2 761.7,879.8C762.3,881.4 762.8,883.0 763.4,884.5C763.9,886.1 764.5,887.7 765.0,889.3C765.6,890.8 766.2,892.4 766.7,894.0C767.3,895.5 767.9,897.1 768.4,898.7C769.0,900.2 769.6,901.8 770.2,903.4C770.8,904.9 771.4,906.5 772.0,908.0C772.6,909.6 773.2,911.2 773.8,912.7C774.4,914.3 775.1,915.8 775.7,917.4C776.3,918.9 776.9,920.4 777.6,922.0C778.2,923.5 778.9,925.1 779.5,926.6C780.2,928.1 780.8,929.7 781.5,931.2C782.2,932.7 782.8,934.3 783.5,935.8C784.2,937.3 784.9,938.8 785.6,940.3C786.3,941.9 787.0,943.4 787.7,944.9C788.4,946.4 789.1,947.9 789.8,949.4C790.6,950.9 791.3,952.4 792.0,953.9C792.8,955.4 793.5,956.9 794.3,958.4C795.0,959.9 795.8,961.4 796.6,962.8C797.3,964.3 798.1,965.8 798.9,967.3C799.7,968.7 800.5,970.2 801.3,971.7C802.1,973.1 802.9,974.6 803.7,976.0C804.5,977.5 805.4,978.9 806.2,980.4C807.0,981.8 807.9,983.3 808.7,984.7"/></g><g clip-path="url(#cr)" fill="none" stroke-width="4.5" stroke-linecap="round" stroke-linejoin="round"><path stroke="#9e00cc" d="M829.0,332.8C830.4,331.9 831.8,331.0 833.2,330.1C834.7,329.2 836.1,328.3 837.5,327.4C838.9,326.5 840.3,325.7 841.8,324.8C843.2,323.9 844.6,323.1 846.0,322.2C847.5,321.4 848.9,320.5 850.4,319.7C851.8,318.8 853.2,318.0 854.7,317.2C856.1,316.4 857.6,315.6 859.1,314.7C860.5,313.9 862.0,313.1 863.5,312.3C864.9,311.5 866.4,310.8 867.9,310.0C869.3,309.2 870.8,308.4 872.3,307.7C873.8,306.9 875.3,306.2 876.8,305.4C878.3,304.7 879.8,303.9 881.3,303.2C882.8,302.5 884.3,301.8 885.8,301.1C887.3,300.4 888.8,299.7 890.3,299.0C891.9,298.3 893.4,297.6 894.9,296.9C896.4,296.3 898.0,295.6 899.5,294.9C901.0,294.3 902.6,293.6 904.1,293.0C905.7,292.4 907.2,291.8 908.8,291.1C910.3,290.5 911.9,289.9 913.4,289.3C915.0,288.7 916.6,288.2 918.1,287.6C919.7,287.0 921.3,286.5 922.8,285.9C924.4,285.4 926.0,284.8 927.6,284.3C929.2,283.8 930.8,283.3 932.3,282.8C933.9,282.2 935.5,281.8 937.1,281.3C938.7,280.8 940.3,280.3 941.9,279.9C943.5,279.4 945.1,279.0 946.8,278.5C948.4,278.1 950.0,277.7 951.6,277.3C953.2,276.8 954.8,276.4 956.5,276.1C958.1,275.7 959.7,275.3 961.3,274.9C963.0,274.6 964.6,274.2 966.2,273.9C967.9,273.6 969.5,273.2 971.1,272.9C972.8,272.6 974.4,272.3 976.1,272.0C977.7,271.8 979.4,271.5 981.0,271.2C982.7,271.0 984.3,270.7 986.0,270.5C987.6,270.2 989.3,270.0 990.9,269.8C992.6,269.5 994.2,269.3 995.9,269.1C997.5,268.9 999.2,268.7 1000.8,268.5C1002.5,268.3 1004.2,268.1 1005.8,267.9C1007.5,267.7 1009.1,267.5 1010.8,267.3C1012.4,267.1 1014.1,266.9 1015.8,266.7C1017.4,266.6 1019.1,266.4 1020.7,266.2C1022.4,266.0 1024.1,265.8 1025.7,265.6C1027.4,265.4 1029.0,265.2 1030.7,265.0C1032.3,264.8 1034.0,264.6 1035.7,264.4C1037.3,264.2 1039.0,264.0 1040.6,263.8C1042.3,263.6 1043.9,263.3 1045.6,263.1C1047.2,262.9 1048.9,262.6 1050.5,262.4C1052.2,262.1 1053.8,261.9 1055.5,261.6C1057.1,261.3 1058.8,261.1 1060.4,260.8C1062.0,260.5 1063.7,260.2 1065.3,259.8C1067.0,259.5 1068.6,259.2 1070.2,258.8C1071.9,258.5 1073.5,258.1 1075.1,257.7C1076.7,257.3 1078.4,257.0 1080.0,256.5C1081.6,256.1 1083.2,255.7 1084.8,255.2C1086.4,254.8 1088.0,254.3 1089.6,253.8C1091.2,253.3 1092.8,252.8 1094.4,252.2C1095.9,251.7 1097.5,251.1 1099.1,250.6C1100.6,250.0 1102.2,249.4 1103.8,248.8C1105.3,248.2 1106.9,247.5 1108.4,246.9C1109.9,246.3 1111.5,245.6 1113.0,244.9C1114.5,244.3 1116.1,243.6 1117.6,242.9C1119.1,242.3 1120.6,241.6 1122.1,240.9C1123.7,240.2 1125.2,239.5 1126.7,238.8C1128.2,238.1 1129.7,237.4 1131.2,236.7C1132.8,236.0 1134.3,235.3 1135.8,234.6C1137.3,233.9 1138.8,233.2 1140.3,232.5C1141.8,231.8 1143.4,231.1 1144.9,230.4C1146.4,229.7 1147.9,229.0 1149.4,228.3C1151.0,227.7 1152.5,227.0 1154.0,226.4C1155.6,225.7 1157.1,225.1 1158.7,224.4C1160.2,223.8 1161.8,223.2 1163.3,222.6C1164.9,222.1 1166.5,221.5 1168.1,221.0C1169.7,220.5 1171.3,220.0 1172.9,219.6C1174.5,219.2 1176.1,218.8 1177.7,218.5C1179.4,218.1 1181.0,217.9 1182.7,217.7C1184.3,217.5 1186.0,217.3 1187.7,217.3C1189.3,217.2 1191.0,217.2 1192.7,217.3C1194.3,217.4 1196.0,217.6 1197.7,217.9C1199.3,218.1 1200.9,218.5 1202.6,218.9C1204.2,219.3 1205.8,219.8 1207.4,220.3C1208.9,220.9 1210.5,221.5 1212.0,222.1C1213.6,222.8 1215.1,223.5 1216.5,224.2C1218.0,225.0 1219.5,225.8 1220.9,226.7C1222.3,227.6 1223.7,228.5 1225.1,229.4C1226.5,230.4 1227.8,231.4 1229.1,232.4C1230.4,233.4 1231.7,234.5 1233.0,235.6C1234.2,236.7 1235.4,237.9 1236.6,239.1C1237.7,240.3 1238.9,241.5 1240.0,242.8C1241.1,244.0 1242.1,245.3 1243.2,246.6C1244.2,247.9 1245.2,249.3 1246.1,250.7C1247.1,252.0 1248.0,253.4 1248.9,254.8C1249.8,256.3 1250.6,257.7 1251.4,259.1C1252.3,260.6 1253.1,262.0 1253.9,263.5C1254.6,265.0 1255.4,266.5 1256.1,268.0C1256.9,269.5 1257.6,271.0 1258.3,272.5C1259.0,274.0 1259.7,275.5 1260.3,277.1C1261.0,278.6 1261.7,280.1 1262.4,281.6C1263.0,283.2 1263.7,284.7 1264.3,286.2C1265.0,287.8 1265.6,289.3 1266.3,290.9C1266.9,292.4 1267.6,293.9 1268.2,295.5C1268.9,297.0 1269.5,298.6 1270.1,300.1C1270.8,301.6 1271.4,303.2 1272.0,304.7C1272.6,306.3 1273.2,307.8 1273.9,309.4C1274.5,310.9 1275.1,312.5 1275.7,314.0C1276.3,315.6 1276.9,317.2 1277.5,318.7C1278.1,320.3 1278.7,321.8 1279.3,323.4C1279.9,324.9 1280.5,326.5 1281.1,328.1C1281.7,329.6 1282.3,331.2 1282.9,332.7C1283.4,334.3 1284.0,335.9 1284.6,337.4C1285.2,339.0 1285.7,340.6 1286.3,342.1C1286.9,343.7 1287.4,345.3 1288.0,346.9C1288.6,348.4 1289.1,350.0 1289.7,351.6C1290.2,353.1 1290.8,354.7 1291.3,356.3C1291.9,357.9 1292.4,359.5 1293.0,361.0C1293.5,362.6 1294.0,364.2 1294.6,365.8C1295.1,367.3 1295.6,368.9 1296.2,370.5C1296.7,372.1 1297.2,373.7 1297.7,375.3C1298.3,376.8 1298.8,378.4 1299.3,380.0C1299.8,381.6 1300.3,383.2 1300.9,384.8C1301.4,386.4 1301.9,388.0 1302.4,389.5C1302.9,391.1 1303.4,392.7 1303.9,394.3C1304.4,395.9 1304.9,397.5 1305.4,399.1C1305.9,400.7 1306.4,402.3 1306.9,403.9C1307.3,405.5 1307.8,407.1 1308.3,408.7C1308.8,410.3 1309.3,411.9 1309.8,413.5C1310.2,415.1 1310.7,416.7 1311.2,418.3C1311.7,419.9 1312.1,421.5 1312.6,423.1C1313.1,424.7 1313.5,426.3 1314.0,427.9C1314.4,429.5 1314.9,431.1 1315.4,432.7C1315.8,434.3 1316.3,435.9 1316.7,437.5C1317.2,439.1 1317.6,440.7 1318.1,442.3C1318.5,443.9 1319.0,445.5 1319.4,447.1C1319.9,448.8 1320.3,450.4 1320.7,452.0C1321.2,453.6 1321.6,455.2 1322.1,456.8C1322.5,458.4 1322.9,460.0 1323.4,461.6C1323.8,463.3 1324.2,464.9 1324.6,466.5C1325.1,468.1 1325.5,469.7 1325.9,471.3C1326.3,472.9 1326.8,474.5 1327.2,476.2C1327.6,477.8 1328.0,479.4 1328.4,481.0C1328.8,482.6 1329.3,484.2 1329.7,485.9C1330.1,487.5 1330.5,489.1 1330.9,490.7C1331.3,492.3 1331.7,494.0 1332.1,495.6C1332.5,497.2 1332.9,498.8 1333.3,500.4C1333.7,502.0 1334.1,503.7 1334.5,505.3C1334.9,506.9 1335.3,508.5 1335.7,510.2C1336.1,511.8 1336.5,513.4 1336.9,515.0C1337.3,516.6 1337.7,518.3 1338.0,519.9C1338.4,521.5 1338.8,523.1 1339.2,524.8C1339.6,526.4 1340.0,528.0 1340.4,529.6C1340.7,531.3 1341.1,532.9 1341.5,534.5C1341.9,536.1 1342.3,537.8 1342.6,539.4C1343.0,541.0 1343.4,542.6 1343.8,544.3C1344.1,545.9 1344.5,547.5 1344.9,549.1C1345.3,550.8 1345.6,552.4 1346.0,554.0C1346.4,555.6 1346.7,557.3 1347.1,558.9C1347.5,560.5 1347.8,562.1 1348.2,563.8C1348.6,565.4 1348.9,567.0 1349.3,568.7C1349.7,570.3 1350.0,571.9 1350.4,573.5C1350.8,575.2 1351.1,576.8 1351.5,578.4C1351.8,580.1 1352.2,581.7 1352.6,583.3C1352.9,585.0 1353.3,586.6 1353.6,588.2C1354.0,589.8 1354.3,591.5 1354.7,593.1C1355.1,594.7 1355.4,596.4 1355.8,598.0C1356.1,599.6 1356.5,601.3 1356.8,602.9C1357.2,604.5 1357.5,606.1 1357.9,607.8C1358.3,609.4 1358.6,611.0 1359.0,612.7C1359.3,614.3 1359.7,615.9 1360.0,617.6C1360.4,619.2 1360.7,620.8 1361.1,622.5C1361.4,624.1 1361.8,625.7 1362.1,627.3C1362.5,629.0 1362.8,630.6 1363.2,632.2C1363.5,633.9 1363.9,635.5 1364.2,637.1C1364.6,638.8 1364.9,640.4 1365.3,642.0C1365.6,643.7 1366.0,645.3 1366.3,646.9C1366.7,648.6 1367.0,650.2 1367.4,651.8C1367.7,653.5 1368.1,655.1 1368.4,656.7C1368.8,658.4 1369.1,660.0 1369.5,661.6C1369.8,663.2 1370.2,664.9 1370.5,666.5C1370.9,668.1 1371.2,669.8 1371.6,671.4C1371.9,673.0 1372.3,674.7 1372.6,676.3C1373.0,677.9 1373.3,679.6 1373.7,681.2C1374.0,682.8 1374.4,684.5 1374.7,686.1C1375.1,687.7 1375.4,689.3 1375.8,691.0C1376.1,692.6 1376.5,694.2 1376.8,695.9C1377.2,697.5 1377.5,699.1 1377.9,700.8C1378.2,702.4 1378.6,704.0 1379.0,705.7C1379.3,707.3 1379.7,708.9 1380.0,710.5C1380.4,712.2 1380.7,713.8 1381.1,715.4C1381.5,717.1 1381.8,718.7 1382.2,720.3C1382.5,722.0 1382.9,723.6 1383.3,725.2C1383.6,726.8 1384.0,728.5 1384.4,730.1C1384.7,731.7 1385.1,733.4 1385.4,735.0C1385.8,736.6 1386.2,738.2 1386.5,739.9C1386.9,741.5 1387.3,743.1 1387.7,744.7C1388.0,746.4 1388.4,748.0 1388.8,749.6C1389.1,751.3 1389.5,752.9 1389.9,754.5C1390.3,756.1 1390.6,757.8 1391.0,759.4C1391.4,761.0 1391.8,762.6 1392.1,764.3C1392.5,765.9 1392.9,767.5 1393.3,769.1C1393.7,770.8 1394.0,772.4 1394.4,774.0C1394.8,775.6 1395.2,777.3 1395.6,778.9C1396.0,780.5 1396.4,782.1 1396.8,783.7C1397.1,785.4 1397.5,787.0 1397.9,788.6C1398.3,790.2 1398.7,791.9 1399.1,793.5C1399.5,795.1 1399.9,796.7 1400.3,798.3C1400.7,800.0 1401.1,801.6 1401.5,803.2C1401.9,804.8 1402.3,806.4 1402.7,808.1C1403.1,809.7 1403.5,811.3 1403.9,812.9C1404.4,814.5 1404.8,816.1 1405.2,817.8C1405.6,819.4 1406.0,821.0 1406.4,822.6C1406.8,824.2 1407.3,825.8 1407.7,827.5C1408.1,829.1 1408.5,830.7 1409.0,832.3C1409.4,833.9 1409.8,835.5 1410.2,837.1C1410.7,838.7 1411.1,840.4 1411.5,842.0C1412.0,843.6 1412.4,845.2 1412.8,846.8C1413.3,848.4 1413.7,850.0 1414.2,851.6C1414.6,853.2 1415.0,854.8 1415.5,856.5C1415.9,858.1 1416.4,859.7 1416.8,861.3C1417.3,862.9 1417.7,864.5 1418.2,866.1C1418.6,867.7 1419.1,869.3 1419.6,870.9C1420.0,872.5 1420.5,874.1 1421.0,875.7C1421.4,877.3 1421.9,878.9 1422.4,880.5C1422.8,882.1 1423.3,883.7 1423.8,885.3C1424.3,886.9 1424.7,888.5 1425.2,890.1C1425.7,891.7 1426.2,893.3 1426.7,894.9C1427.2,896.5 1427.6,898.1 1428.1,899.7C1428.6,901.3 1429.1,902.9 1429.6,904.5C1430.1,906.1 1430.6,907.7 1431.1,909.2C1431.6,910.8 1432.1,912.4 1432.6,914.0C1433.2,915.6 1433.7,917.2 1434.2,918.8C1434.7,920.4 1435.2,922.0 1435.7,923.5C1436.3,925.1 1436.8,926.7 1437.3,928.3C1437.8,929.9 1438.4,931.5 1438.9,933.0C1439.4,934.6 1440.0,936.2 1440.5,937.8C1441.0,939.4 1441.6,940.9 1442.1,942.5C1442.7,944.1 1443.2,945.7 1443.8,947.2C1444.3,948.8 1444.9,950.4 1445.4,952.0C1446.0,953.5 1446.6,955.1 1447.1,956.7C1447.7,958.2 1448.3,959.8 1448.8,961.4C1449.4,962.9 1450.0,964.5 1450.6,966.1C1451.1,967.6 1451.7,969.2 1452.3,970.8C1452.9,972.3 1453.5,973.9 1454.1,975.5C1454.7,977.0 1455.3,978.6 1455.9,980.1C1456.5,981.7 1457.1,983.2 1457.7,984.8"/><path stroke="#9e00cc" d="M829.0,521.9C830.6,522.4 832.2,522.9 833.8,523.5C835.4,524.0 836.9,524.6 838.5,525.2C840.1,525.8 841.6,526.4 843.2,527.0C844.7,527.6 846.3,528.2 847.9,528.8C849.4,529.4 851.0,530.0 852.5,530.5C854.1,531.1 855.7,531.7 857.2,532.2C858.8,532.8 860.4,533.3 862.0,533.9C863.6,534.4 865.2,534.9 866.8,535.3C868.4,535.8 870.0,536.2 871.6,536.6C873.3,537.0 874.9,537.3 876.5,537.6C878.2,537.9 879.8,538.2 881.5,538.3C883.1,538.5 884.8,538.7 886.5,538.7C888.1,538.7 889.8,538.7 891.5,538.6C893.2,538.5 894.8,538.3 896.5,538.0C898.1,537.7 899.7,537.4 901.4,537.0C903.0,536.6 904.6,536.1 906.2,535.6C907.8,535.1 909.3,534.5 910.9,533.9C912.4,533.3 914.0,532.6 915.5,531.9C917.0,531.2 918.5,530.5 920.0,529.7C921.5,529.0 923.0,528.2 924.4,527.4C925.9,526.6 927.3,525.8 928.8,524.9C930.2,524.1 931.7,523.2 933.1,522.3C934.5,521.5 935.9,520.6 937.3,519.7C938.7,518.8 940.1,517.9 941.5,517.0C942.9,516.0 944.3,515.1 945.7,514.2C947.1,513.2 948.4,512.3 949.8,511.3C951.2,510.4 952.5,509.4 953.9,508.4C955.2,507.4 956.6,506.4 957.9,505.4C959.2,504.4 960.6,503.4 961.9,502.4C963.2,501.4 964.5,500.4 965.9,499.3C967.2,498.3 968.5,497.2 969.8,496.2C971.1,495.2 972.4,494.1 973.7,493.1C975.0,492.0 976.2,490.9 977.5,489.9C978.8,488.8 980.1,487.7 981.4,486.7C982.7,485.6 983.9,484.5 985.2,483.4C986.5,482.4 987.8,481.3 989.1,480.3C990.4,479.2 991.7,478.2 993.0,477.1C994.3,476.1 995.7,475.1 997.0,474.1C998.4,473.1 999.7,472.2 1001.1,471.2C1002.5,470.3 1003.9,469.4 1005.3,468.6C1006.8,467.7 1008.2,466.9 1009.7,466.1C1011.2,465.3 1012.7,464.6 1014.2,464.0C1015.8,463.3 1017.3,462.7 1018.9,462.2C1020.5,461.6 1022.1,461.1 1023.7,460.7C1025.3,460.3 1026.9,459.9 1028.6,459.6C1030.2,459.2 1031.9,459.0 1033.5,458.7C1035.2,458.5 1036.8,458.3 1038.5,458.1C1040.1,457.9 1041.8,457.7 1043.5,457.6C1045.1,457.5 1046.8,457.3 1048.5,457.2C1050.1,457.1 1051.8,457.1 1053.5,457.0C1055.1,456.9 1056.8,456.8 1058.5,456.8C1060.1,456.7 1061.8,456.6 1063.5,456.6C1065.1,456.5 1066.8,456.4 1068.5,456.3C1070.1,456.2 1071.8,456.1 1073.5,456.0C1075.1,455.9 1076.8,455.8 1078.5,455.6C1080.1,455.4 1081.8,455.2 1083.4,455.0C1085.1,454.8 1086.7,454.6 1088.4,454.3C1090.0,454.0 1091.7,453.6 1093.3,453.3C1094.9,452.9 1096.5,452.4 1098.1,452.0C1099.7,451.5 1101.3,450.9 1102.9,450.3C1104.4,449.7 1106.0,449.1 1107.5,448.3C1109.0,447.6 1110.4,446.8 1111.9,446.0C1113.3,445.2 1114.8,444.3 1116.1,443.3C1117.5,442.4 1118.9,441.5 1120.2,440.5C1121.6,439.5 1122.9,438.4 1124.2,437.4C1125.5,436.3 1126.7,435.2 1128.0,434.1C1129.3,433.0 1130.5,431.9 1131.7,430.8C1132.9,429.6 1134.1,428.5 1135.3,427.3C1136.5,426.1 1137.7,425.0 1138.9,423.8C1140.1,422.6 1141.2,421.4 1142.4,420.2C1143.6,419.0 1144.7,417.8 1145.9,416.6C1147.1,415.4 1148.2,414.2 1149.4,413.0C1150.5,411.8 1151.7,410.6 1152.9,409.4C1154.1,408.3 1155.2,407.1 1156.4,405.9C1157.6,404.7 1158.8,403.6 1160.0,402.4C1161.2,401.2 1162.4,400.1 1163.6,398.9C1164.8,397.8 1166.1,396.6 1167.3,395.5C1168.5,394.4 1169.7,393.2 1171.0,392.1C1172.2,391.0 1173.5,389.9 1174.7,388.8C1176.0,387.7 1177.3,386.7 1178.6,385.6C1179.9,384.6 1181.3,383.6 1182.7,382.7C1184.0,381.7 1185.4,380.8 1186.9,380.0C1188.3,379.2 1189.8,378.4 1191.3,377.7C1192.8,377.0 1194.4,376.4 1196.0,375.9C1197.6,375.4 1199.2,374.9 1200.8,374.6C1202.5,374.3 1204.1,374.0 1205.8,373.9C1207.5,373.7 1209.1,373.7 1210.8,373.8C1212.5,373.9 1214.1,374.1 1215.8,374.4C1217.4,374.7 1219.0,375.1 1220.6,375.7C1222.2,376.2 1223.7,376.9 1225.2,377.7C1226.7,378.4 1228.1,379.3 1229.4,380.3C1230.8,381.3 1232.1,382.4 1233.3,383.5C1234.5,384.6 1235.7,385.8 1236.8,387.1C1237.9,388.3 1239.0,389.6 1240.1,390.9C1241.1,392.2 1242.1,393.5 1243.1,394.9C1244.0,396.2 1245.0,397.6 1245.9,399.0C1246.8,400.4 1247.7,401.8 1248.6,403.2C1249.5,404.7 1250.3,406.1 1251.1,407.6C1252.0,409.0 1252.8,410.5 1253.6,411.9C1254.4,413.4 1255.1,414.9 1255.9,416.4C1256.6,417.9 1257.4,419.4 1258.1,420.9C1258.8,422.4 1259.5,423.9 1260.2,425.4C1260.9,426.9 1261.6,428.5 1262.2,430.0C1262.9,431.5 1263.6,433.1 1264.2,434.6C1264.9,436.1 1265.5,437.7 1266.2,439.2C1266.8,440.8 1267.4,442.3 1268.1,443.8C1268.7,445.4 1269.3,446.9 1269.9,448.5C1270.6,450.0 1271.2,451.6 1271.8,453.1C1272.4,454.7 1273.0,456.2 1273.6,457.8C1274.3,459.4 1274.9,460.9 1275.5,462.5C1276.1,464.0 1276.7,465.6 1277.3,467.1C1277.8,468.7 1278.4,470.3 1279.0,471.8C1279.6,473.4 1280.2,475.0 1280.8,476.5C1281.4,478.1 1281.9,479.7 1282.5,481.2C1283.1,482.8 1283.6,484.4 1284.2,485.9C1284.8,487.5 1285.3,489.1 1285.9,490.6C1286.5,492.2 1287.0,493.8 1287.6,495.4C1288.1,496.9 1288.7,498.5 1289.2,500.1C1289.8,501.7 1290.3,503.3 1290.9,504.8C1291.4,506.4 1292.0,508.0 1292.5,509.6C1293.0,511.2 1293.6,512.7 1294.1,514.3C1294.6,515.9 1295.2,517.5 1295.7,519.1C1296.2,520.7 1296.7,522.2 1297.3,523.8C1297.8,525.4 1298.3,527.0 1298.8,528.6C1299.4,530.2 1299.9,531.8 1300.4,533.3C1300.9,534.9 1301.4,536.5 1301.9,538.1C1302.4,539.7 1302.9,541.3 1303.4,542.9C1303.9,544.5 1304.5,546.1 1305.0,547.7C1305.5,549.3 1306.0,550.8 1306.5,552.4C1306.9,554.0 1307.4,555.6 1307.9,557.2C1308.4,558.8 1308.9,560.4 1309.4,562.0C1309.9,563.6 1310.4,565.2 1310.9,566.8C1311.4,568.4 1311.8,570.0 1312.3,571.6C1312.8,573.2 1313.3,574.8 1313.8,576.4C1314.3,578.0 1314.7,579.6 1315.2,581.2C1315.7,582.8 1316.2,584.4 1316.6,586.0C1317.1,587.6 1317.6,589.2 1318.0,590.8C1318.5,592.4 1319.0,594.0 1319.4,595.6C1319.9,597.2 1320.4,598.8 1320.8,600.4C1321.3,602.0 1321.8,603.6 1322.2,605.2C1322.7,606.8 1323.2,608.4 1323.6,610.1C1324.1,611.7 1324.5,613.3 1325.0,614.9C1325.4,616.5 1325.9,618.1 1326.3,619.7C1326.8,621.3 1327.2,622.9 1327.7,624.5C1328.1,626.1 1328.6,627.7 1329.0,629.3C1329.5,630.9 1329.9,632.6 1330.4,634.2C1330.8,635.8 1331.3,637.4 1331.7,639.0C1332.2,640.6 1332.6,642.2 1333.1,643.8C1333.5,645.4 1333.9,647.0 1334.4,648.7C1334.8,650.3 1335.3,651.9 1335.7,653.5C1336.1,655.1 1336.6,656.7 1337.0,658.3C1337.5,659.9 1337.9,661.5 1338.3,663.2C1338.8,664.8 1339.2,666.4 1339.6,668.0C1340.1,669.6 1340.5,671.2 1340.9,672.8C1341.4,674.4 1341.8,676.1 1342.2,677.7C1342.7,679.3 1343.1,680.9 1343.5,682.5C1344.0,684.1 1344.4,685.7 1344.8,687.3C1345.2,689.0 1345.7,690.6 1346.1,692.2C1346.5,693.8 1347.0,695.4 1347.4,697.0C1347.8,698.6 1348.2,700.3 1348.7,701.9C1349.1,703.5 1349.5,705.1 1350.0,706.7C1350.4,708.3 1350.8,709.9 1351.2,711.6C1351.7,713.2 1352.1,714.8 1352.5,716.4C1352.9,718.0 1353.4,719.6 1353.8,721.2C1354.2,722.9 1354.7,724.5 1355.1,726.1C1355.5,727.7 1355.9,729.3 1356.4,730.9C1356.8,732.5 1357.2,734.2 1357.6,735.8C1358.1,737.4 1358.5,739.0 1358.9,740.6C1359.4,742.2 1359.8,743.8 1360.2,745.5C1360.6,747.1 1361.1,748.7 1361.5,750.3C1361.9,751.9 1362.4,753.5 1362.8,755.1C1363.2,756.8 1363.6,758.4 1364.1,760.0C1364.5,761.6 1364.9,763.2 1365.4,764.8C1365.8,766.4 1366.2,768.0 1366.7,769.7C1367.1,771.3 1367.5,772.9 1367.9,774.5C1368.4,776.1 1368.8,777.7 1369.2,779.3C1369.7,780.9 1370.1,782.6 1370.6,784.2C1371.0,785.8 1371.4,787.4 1371.9,789.0C1372.3,790.6 1372.7,792.2 1373.2,793.8C1373.6,795.5 1374.0,797.1 1374.5,798.7C1374.9,800.3 1375.4,801.9 1375.8,803.5C1376.3,805.1 1376.7,806.7 1377.1,808.3C1377.6,809.9 1378.0,811.6 1378.5,813.2C1378.9,814.8 1379.4,816.4 1379.8,818.0C1380.3,819.6 1380.7,821.2 1381.2,822.8C1381.6,824.4 1382.1,826.0 1382.5,827.6C1383.0,829.2 1383.4,830.9 1383.9,832.5C1384.3,834.1 1384.8,835.7 1385.2,837.3C1385.7,838.9 1386.2,840.5 1386.6,842.1C1387.1,843.7 1387.5,845.3 1388.0,846.9C1388.5,848.5 1388.9,850.1 1389.4,851.7C1389.9,853.3 1390.3,854.9 1390.8,856.5C1391.3,858.1 1391.7,859.7 1392.2,861.3C1392.7,862.9 1393.1,864.5 1393.6,866.1C1394.1,867.7 1394.6,869.3 1395.0,870.9C1395.5,872.5 1396.0,874.1 1396.5,875.7C1397.0,877.3 1397.4,878.9 1397.9,880.5C1398.4,882.1 1398.9,883.7 1399.4,885.3C1399.9,886.9 1400.4,888.5 1400.9,890.1C1401.4,891.7 1401.8,893.3 1402.3,894.9C1402.8,896.5 1403.3,898.1 1403.8,899.7C1404.3,901.3 1404.8,902.9 1405.3,904.5C1405.8,906.1 1406.4,907.6 1406.9,909.2C1407.4,910.8 1407.9,912.4 1408.4,914.0C1408.9,915.6 1409.4,917.2 1409.9,918.8C1410.5,920.4 1411.0,922.0 1411.5,923.5C1412.0,925.1 1412.5,926.7 1413.1,928.3C1413.6,929.9 1414.1,931.5 1414.6,933.0C1415.2,934.6 1415.7,936.2 1416.2,937.8C1416.8,939.4 1417.3,941.0 1417.9,942.5C1418.4,944.1 1418.9,945.7 1419.5,947.3C1420.0,948.9 1420.6,950.4 1421.1,952.0C1421.7,953.6 1422.2,955.2 1422.8,956.7C1423.3,958.3 1423.9,959.9 1424.5,961.5C1425.0,963.0 1425.6,964.6 1426.2,966.2C1426.7,967.7 1427.3,969.3 1427.9,970.9C1428.4,972.4 1429.0,974.0 1429.6,975.6C1430.2,977.1 1430.7,978.7 1431.3,980.3C1431.9,981.8 1432.5,983.4 1433.1,985.0"/><path stroke="#ef8429" d="M828.2,431.1C829.8,430.4 831.3,429.7 832.8,429.0C834.3,428.3 835.8,427.6 837.3,426.9C838.8,426.1 840.3,425.4 841.8,424.7C843.3,423.9 844.8,423.2 846.3,422.4C847.8,421.7 849.3,420.9 850.7,420.2C852.2,419.4 853.7,418.6 855.2,417.9C856.7,417.1 858.2,416.3 859.6,415.5C861.1,414.8 862.6,414.0 864.1,413.2C865.5,412.4 867.0,411.6 868.5,410.8C869.9,410.0 871.4,409.2 872.9,408.4C874.3,407.6 875.8,406.8 877.3,406.0C878.7,405.2 880.2,404.4 881.7,403.6C883.1,402.8 884.6,402.0 886.1,401.2C887.5,400.5 889.0,399.7 890.5,398.9C891.9,398.1 893.4,397.3 894.9,396.5C896.4,395.7 897.8,394.9 899.3,394.1C900.8,393.4 902.3,392.6 903.7,391.8C905.2,391.0 906.7,390.3 908.2,389.5C909.7,388.7 911.2,388.0 912.7,387.2C914.1,386.5 915.6,385.7 917.1,385.0C918.6,384.2 920.1,383.5 921.6,382.7C923.1,381.9 924.6,381.2 926.0,380.4C927.5,379.6 929.0,378.9 930.5,378.1C932.0,377.3 933.4,376.5 934.9,375.7C936.3,374.9 937.8,374.1 939.3,373.2C940.7,372.4 942.1,371.6 943.6,370.7C945.0,369.9 946.4,369.0 947.8,368.1C949.2,367.2 950.6,366.3 952.0,365.3C953.4,364.4 954.8,363.5 956.2,362.5C957.5,361.5 958.9,360.6 960.2,359.6C961.6,358.6 962.9,357.6 964.2,356.5C965.5,355.5 966.8,354.5 968.1,353.4C969.4,352.4 970.7,351.3 972.0,350.2C973.2,349.1 974.5,348.0 975.7,346.9C977.0,345.8 978.2,344.7 979.4,343.5C980.7,342.4 981.9,341.3 983.1,340.1C984.3,338.9 985.5,337.8 986.6,336.6C987.8,335.4 989.0,334.2 990.1,333.0C991.3,331.8 992.4,330.6 993.6,329.3C994.7,328.1 995.8,326.9 996.9,325.6C998.0,324.4 999.1,323.1 1000.2,321.8C1001.3,320.6 1002.4,319.3 1003.4,318.0C1004.5,316.7 1005.6,315.4 1006.6,314.1C1007.6,312.8 1008.7,311.5 1009.7,310.2C1010.7,308.9 1011.7,307.5 1012.8,306.2C1013.8,304.9 1014.8,303.5 1015.7,302.2C1016.7,300.9 1017.7,299.5 1018.7,298.1C1019.7,296.8 1020.6,295.4 1021.6,294.0C1022.5,292.7 1023.5,291.3 1024.4,289.9C1025.3,288.5 1026.3,287.2 1027.2,285.8C1028.1,284.4 1029.0,283.0 1029.9,281.6C1030.9,280.2 1031.8,278.8 1032.6,277.4C1033.5,275.9 1034.4,274.5 1035.3,273.1C1036.2,271.7 1037.1,270.3 1037.9,268.9C1038.8,267.4 1039.7,266.0 1040.5,264.6C1041.4,263.1 1042.3,261.7 1043.1,260.3C1044.0,258.8 1044.8,257.4 1045.6,255.9C1046.5,254.5 1047.3,253.1 1048.1,251.6C1049.0,250.2 1049.8,248.7 1050.6,247.3C1051.5,245.8 1052.3,244.4 1053.1,242.9C1053.9,241.4 1054.7,240.0 1055.5,238.5C1056.4,237.1 1057.2,235.6 1058.0,234.1C1058.8,232.7 1059.6,231.2 1060.4,229.8C1061.2,228.3 1062.0,226.8 1062.8,225.4C1063.6,223.9 1064.4,222.4 1065.2,221.0C1066.0,219.5 1066.8,218.0 1067.6,216.6C1068.4,215.1 1069.2,213.6 1070.0,212.2C1070.8,210.7 1071.6,209.2 1072.4,207.8C1073.2,206.3 1074.0,204.8 1074.8,203.4C1075.6,201.9 1076.4,200.4 1077.2,199.0C1078.0,197.6 1078.9,196.1 1079.7,194.7C1080.6,193.2 1081.5,191.8 1082.4,190.4C1083.2,189.0 1084.1,187.6 1085.1,186.2C1086.0,184.8 1087.0,183.4 1088.0,182.1C1088.9,180.7 1089.9,179.4 1091.0,178.1C1092.0,176.8 1093.1,175.5 1094.2,174.3C1095.3,173.0 1096.4,171.8 1097.6,170.6C1098.8,169.4 1100.0,168.3 1101.2,167.2C1102.5,166.0 1103.8,165.0 1105.1,163.9C1106.4,162.9 1107.8,161.9 1109.1,161.0C1110.5,160.1 1111.9,159.2 1113.4,158.4C1114.8,157.5 1116.3,156.7 1117.8,156.0C1119.3,155.3 1120.9,154.7 1122.5,154.1C1124.0,153.6 1125.7,153.1 1127.3,152.8C1128.9,152.4 1130.6,152.2 1132.2,152.1C1133.9,152.0 1135.6,152.1 1137.2,152.3C1138.9,152.5 1140.5,152.8 1142.1,153.2C1143.8,153.7 1145.3,154.3 1146.9,154.9C1148.4,155.5 1149.9,156.3 1151.4,157.0C1152.9,157.8 1154.3,158.7 1155.7,159.6C1157.1,160.5 1158.5,161.4 1159.9,162.4C1161.2,163.4 1162.5,164.4 1163.9,165.4C1165.2,166.4 1166.5,167.5 1167.7,168.6C1169.0,169.6 1170.3,170.7 1171.5,171.8C1172.8,172.9 1174.0,174.1 1175.3,175.2C1176.5,176.3 1177.7,177.4 1179.0,178.6C1180.2,179.7 1181.4,180.9 1182.6,182.0C1183.8,183.1 1185.0,184.3 1186.2,185.5C1187.4,186.6 1188.6,187.8 1189.8,188.9C1191.1,190.1 1192.3,191.2 1193.5,192.4C1194.7,193.5 1195.9,194.7 1197.1,195.8C1198.3,197.0 1199.6,198.1 1200.8,199.2C1202.0,200.3 1203.3,201.5 1204.5,202.6C1205.8,203.7 1207.0,204.8 1208.3,205.8C1209.6,206.9 1210.9,208.0 1212.2,209.0C1213.5,210.0 1214.8,211.1 1216.2,212.1C1217.5,213.1 1218.8,214.0 1220.2,215.0C1221.6,215.9 1223.0,216.9 1224.4,217.8C1225.8,218.7 1227.2,219.6 1228.6,220.5C1230.0,221.4 1231.4,222.2 1232.9,223.1C1234.3,223.9 1235.8,224.7 1237.3,225.5C1238.7,226.3 1240.2,227.1 1241.7,227.9C1243.2,228.6 1244.6,229.4 1246.1,230.1C1247.6,230.9 1249.2,231.6 1250.7,232.3C1252.2,233.0 1253.7,233.7 1255.2,234.4C1256.7,235.0 1258.3,235.7 1259.8,236.4C1261.3,237.1 1262.9,237.8 1264.4,238.4C1265.9,239.1 1267.4,239.8 1268.9,240.6C1270.4,241.3 1271.9,242.0 1273.4,242.8C1274.9,243.6 1276.3,244.4 1277.8,245.2C1279.2,246.0 1280.7,246.9 1282.1,247.8C1283.5,248.7 1284.8,249.7 1286.2,250.7C1287.5,251.7 1288.8,252.7 1290.1,253.8C1291.4,254.9 1292.6,256.0 1293.8,257.2C1295.0,258.4 1296.1,259.6 1297.2,260.8C1298.3,262.1 1299.4,263.3 1300.4,264.7C1301.5,266.0 1302.4,267.3 1303.4,268.7C1304.4,270.1 1305.3,271.5 1306.2,272.9C1307.1,274.3 1307.9,275.7 1308.7,277.2C1309.6,278.6 1310.4,280.1 1311.1,281.6C1311.9,283.0 1312.7,284.5 1313.4,286.0C1314.2,287.5 1314.9,289.0 1315.6,290.5C1316.3,292.0 1317.0,293.6 1317.7,295.1C1318.4,296.6 1319.1,298.1 1319.7,299.7C1320.4,301.2 1321.1,302.7 1321.7,304.3C1322.4,305.8 1323.0,307.3 1323.7,308.9C1324.3,310.4 1325.0,311.9 1325.6,313.5C1326.2,315.0 1326.9,316.6 1327.5,318.1C1328.1,319.7 1328.7,321.2 1329.3,322.8C1329.9,324.3 1330.5,325.9 1331.1,327.5C1331.7,329.0 1332.3,330.6 1332.9,332.2C1333.5,333.7 1334.0,335.3 1334.6,336.9C1335.2,338.4 1335.7,340.0 1336.3,341.6C1336.9,343.1 1337.4,344.7 1338.0,346.3C1338.5,347.9 1339.0,349.5 1339.6,351.0C1340.1,352.6 1340.6,354.2 1341.2,355.8C1341.7,357.4 1342.2,359.0 1342.7,360.5C1343.2,362.1 1343.8,363.7 1344.3,365.3C1344.8,366.9 1345.3,368.5 1345.8,370.1C1346.2,371.7 1346.7,373.3 1347.2,374.9C1347.7,376.5 1348.2,378.1 1348.7,379.7C1349.1,381.3 1349.6,382.9 1350.1,384.5C1350.5,386.1 1351.0,387.7 1351.5,389.3C1351.9,390.9 1352.4,392.5 1352.8,394.1C1353.3,395.7 1353.7,397.3 1354.2,398.9C1354.6,400.6 1355.1,402.2 1355.5,403.8C1355.9,405.4 1356.4,407.0 1356.8,408.6C1357.2,410.2 1357.7,411.8 1358.1,413.5C1358.5,415.1 1358.9,416.7 1359.4,418.3C1359.8,419.9 1360.2,421.5 1360.6,423.2C1361.0,424.8 1361.4,426.4 1361.8,428.0C1362.2,429.6 1362.6,431.2 1363.0,432.9C1363.5,434.5 1363.9,436.1 1364.3,437.7C1364.7,439.4 1365.0,441.0 1365.4,442.6C1365.8,444.2 1366.2,445.8 1366.6,447.5C1367.0,449.1 1367.4,450.7 1367.8,452.3C1368.2,454.0 1368.6,455.6 1369.0,457.2C1369.3,458.8 1369.7,460.5 1370.1,462.1C1370.5,463.7 1370.9,465.3 1371.3,467.0C1371.6,468.6 1372.0,470.2 1372.4,471.8C1372.8,473.5 1373.1,475.1 1373.5,476.7C1373.9,478.3 1374.3,480.0 1374.6,481.6C1375.0,483.2 1375.4,484.9 1375.8,486.5C1376.1,488.1 1376.5,489.7 1376.9,491.4C1377.2,493.0 1377.6,494.6 1378.0,496.3C1378.3,497.9 1378.7,499.5 1379.1,501.1C1379.4,502.8 1379.8,504.4 1380.1,506.0C1380.5,507.7 1380.9,509.3 1381.2,510.9C1381.6,512.6 1381.9,514.2 1382.3,515.8C1382.7,517.4 1383.0,519.1 1383.4,520.7C1383.7,522.3 1384.1,524.0 1384.5,525.6C1384.8,527.2 1385.2,528.9 1385.5,530.5C1385.9,532.1 1386.2,533.8 1386.6,535.4C1386.9,537.0 1387.3,538.7 1387.6,540.3C1388.0,541.9 1388.3,543.5 1388.7,545.2C1389.1,546.8 1389.4,548.4 1389.8,550.1C1390.1,551.7 1390.5,553.3 1390.8,555.0C1391.2,556.6 1391.5,558.2 1391.9,559.9C1392.2,561.5 1392.6,563.1 1392.9,564.8C1393.3,566.4 1393.6,568.0 1394.0,569.7C1394.3,571.3 1394.7,572.9 1395.0,574.6C1395.4,576.2 1395.7,577.8 1396.1,579.5C1396.4,581.1 1396.7,582.7 1397.1,584.4C1397.4,586.0 1397.8,587.6 1398.1,589.3C1398.5,590.9 1398.8,592.5 1399.2,594.2C1399.5,595.8 1399.9,597.4 1400.2,599.1C1400.6,600.7 1400.9,602.3 1401.3,604.0C1401.6,605.6 1402.0,607.2 1402.4,608.8C1402.7,610.5 1403.1,612.1 1403.4,613.7C1403.8,615.4 1404.1,617.0 1404.5,618.6C1404.8,620.3 1405.2,621.9 1405.5,623.5C1405.9,625.2 1406.2,626.8 1406.6,628.4C1406.9,630.1 1407.3,631.7 1407.7,633.3C1408.0,635.0 1408.4,636.6 1408.7,638.2C1409.1,639.8 1409.4,641.5 1409.8,643.1C1410.2,644.7 1410.5,646.4 1410.9,648.0C1411.3,649.6 1411.6,651.3 1412.0,652.9C1412.3,654.5 1412.7,656.1 1413.1,657.8C1413.4,659.4 1413.8,661.0 1414.2,662.7C1414.5,664.3 1414.9,665.9 1415.3,667.6C1415.6,669.2 1416.0,670.8 1416.4,672.4C1416.7,674.1 1417.1,675.7 1417.5,677.3C1417.9,678.9 1418.2,680.6 1418.6,682.2C1419.0,683.8 1419.4,685.5 1419.8,687.1C1420.1,688.7 1420.5,690.3 1420.9,692.0C1421.3,693.6 1421.7,695.2 1422.0,696.8C1422.4,698.5 1422.8,700.1 1423.2,701.7C1423.6,703.3 1424.0,705.0 1424.4,706.6C1424.8,708.2 1425.1,709.8 1425.5,711.4C1425.9,713.1 1426.3,714.7 1426.7,716.3C1427.1,717.9 1427.5,719.6 1427.9,721.2C1428.3,722.8 1428.7,724.4 1429.1,726.0C1429.5,727.7 1429.9,729.3 1430.3,730.9C1430.7,732.5 1431.2,734.1 1431.6,735.8C1432.0,737.4 1432.4,739.0 1432.8,740.6C1433.2,742.2 1433.6,743.8 1434.0,745.5C1434.5,747.1 1434.9,748.7 1435.3,750.3C1435.7,751.9 1436.2,753.5 1436.6,755.2C1437.0,756.8 1437.4,758.4 1437.9,760.0C1438.3,761.6 1438.7,763.2 1439.2,764.8C1439.6,766.4 1440.0,768.1 1440.5,769.7C1440.9,771.3 1441.4,772.9 1441.8,774.5C1442.3,776.1 1442.7,777.7 1443.2,779.3C1443.6,780.9 1444.1,782.5 1444.5,784.1C1445.0,785.7 1445.4,787.4 1445.9,789.0C1446.4,790.6 1446.8,792.2 1447.3,793.8C1447.7,795.4 1448.2,797.0 1448.7,798.6C1449.2,800.2 1449.6,801.8 1450.1,803.4C1450.6,805.0 1451.1,806.6 1451.5,808.2C1452.0,809.8 1452.5,811.4 1453.0,813.0C1453.5,814.6 1454.0,816.2 1454.5,817.8C1455.0,819.4 1455.4,821.0 1455.9,822.5C1456.4,824.1 1456.9,825.7 1457.4,827.3C1458.0,828.9 1458.5,830.5 1459.0,832.1C1459.5,833.7 1460.0,835.3 1460.5,836.9C1461.0,838.5 1461.5,840.0 1462.1,841.6C1462.6,843.2 1463.1,844.8 1463.7,846.4C1464.2,848.0 1464.7,849.5 1465.2,851.1C1465.8,852.7 1466.3,854.3 1466.9,855.9C1467.4,857.4 1468.0,859.0 1468.5,860.6C1469.1,862.2 1469.6,863.8 1470.2,865.3C1470.7,866.9 1471.3,868.5 1471.8,870.0C1472.4,871.6 1473.0,873.2 1473.5,874.8C1474.1,876.3 1474.7,877.9 1475.3,879.5C1475.8,881.0 1476.4,882.6 1477.0,884.2C1477.6,885.7 1478.2,887.3 1478.8,888.8C1479.4,890.4 1480.0,892.0 1480.6,893.5C1481.2,895.1 1481.8,896.6 1482.4,898.2C1483.0,899.8 1483.6,901.3 1484.2,902.9C1484.8,904.4 1485.4,906.0 1486.1,907.5C1486.7,909.1 1487.3,910.6 1487.9,912.2C1488.6,913.7 1489.2,915.2 1489.8,916.8C1490.5,918.3 1491.1,919.9 1491.8,921.4C1492.4,923.0 1493.0,924.5 1493.7,926.0C1494.4,927.6 1495.0,929.1 1495.7,930.6C1496.3,932.2 1497.0,933.7 1497.7,935.2C1498.3,936.8 1499.0,938.3 1499.7,939.8C1500.4,941.3 1501.1,942.9 1501.7,944.4C1502.4,945.9 1503.1,947.4 1503.8,948.9C1504.5,950.5 1505.2,952.0 1505.9,953.5C1506.6,955.0 1507.3,956.5 1508.0,958.0C1508.8,959.5 1509.5,961.0 1510.2,962.5C1510.9,964.1 1511.6,965.6 1512.4,967.1C1513.1,968.6 1513.8,970.1 1514.6,971.6C1515.3,973.1 1516.0,974.6 1516.8,976.0C1517.5,977.5 1518.3,979.0 1519.1,980.5C1519.8,982.0 1520.6,983.5 1521.3,985.0"/><path stroke="#ef8429" d="M829.1,638.0C830.5,639.0 831.8,640.0 833.1,641.1C834.4,642.1 835.7,643.1 837.0,644.2C838.3,645.2 839.6,646.2 841.0,647.3C842.3,648.3 843.6,649.3 844.9,650.3C846.2,651.3 847.6,652.3 848.9,653.3C850.3,654.3 851.6,655.3 853.0,656.2C854.4,657.2 855.7,658.1 857.1,659.0C858.5,659.9 859.9,660.8 861.4,661.7C862.8,662.6 864.2,663.4 865.7,664.2C867.2,665.0 868.6,665.8 870.2,666.5C871.7,667.2 873.2,667.9 874.7,668.5C876.3,669.1 877.9,669.7 879.5,670.1C881.0,670.6 882.7,671.1 884.3,671.4C885.9,671.7 887.6,671.9 889.3,672.1C890.9,672.2 892.6,672.2 894.3,672.1C895.9,672.0 897.6,671.7 899.2,671.4C900.8,671.1 902.5,670.6 904.0,670.1C905.6,669.6 907.2,669.0 908.7,668.3C910.2,667.6 911.7,666.8 913.1,666.0C914.6,665.2 916.0,664.3 917.4,663.3C918.8,662.4 920.1,661.4 921.4,660.4C922.8,659.4 924.0,658.3 925.3,657.2C926.5,656.1 927.8,655.0 929.0,653.8C930.2,652.6 931.3,651.5 932.5,650.2C933.6,649.0 934.7,647.8 935.8,646.5C936.9,645.2 937.9,643.9 938.9,642.6C940.0,641.3 941.0,640.0 941.9,638.6C942.9,637.2 943.9,635.9 944.8,634.5C945.7,633.1 946.6,631.7 947.5,630.3C948.4,628.9 949.2,627.4 950.1,626.0C950.9,624.5 951.7,623.1 952.5,621.6C953.3,620.2 954.1,618.7 954.8,617.2C955.6,615.7 956.4,614.2 957.1,612.7C957.8,611.2 958.6,609.7 959.3,608.2C960.0,606.7 960.7,605.2 961.4,603.7C962.1,602.2 962.8,600.6 963.5,599.1C964.1,597.6 964.8,596.1 965.5,594.6C966.2,593.0 966.8,591.5 967.5,590.0C968.2,588.4 968.8,586.9 969.5,585.4C970.2,583.9 970.8,582.3 971.5,580.8C972.2,579.3 972.9,577.8 973.5,576.2C974.2,574.7 974.9,573.2 975.6,571.7C976.3,570.2 977.0,568.7 977.7,567.1C978.5,565.6 979.2,564.1 979.9,562.6C980.7,561.2 981.4,559.7 982.2,558.2C982.9,556.7 983.7,555.2 984.5,553.7C985.2,552.2 986.0,550.8 986.8,549.3C987.5,547.8 988.3,546.3 989.1,544.8C989.8,543.4 990.6,541.9 991.4,540.4C992.2,538.9 992.9,537.4 993.7,536.0C994.5,534.5 995.2,533.0 996.0,531.5C996.7,530.0 997.5,528.5 998.2,527.0C999.0,525.5 999.7,524.0 1000.5,522.6C1001.2,521.1 1001.9,519.6 1002.7,518.1C1003.4,516.6 1004.2,515.1 1004.9,513.6C1005.7,512.1 1006.5,510.6 1007.2,509.2C1008.0,507.7 1008.8,506.2 1009.6,504.7C1010.4,503.3 1011.2,501.8 1012.0,500.3C1012.8,498.9 1013.6,497.4 1014.5,496.0C1015.3,494.6 1016.2,493.1 1017.0,491.7C1017.9,490.3 1018.8,488.9 1019.7,487.5C1020.6,486.1 1021.6,484.7 1022.5,483.3C1023.4,482.0 1024.4,480.6 1025.4,479.2C1026.3,477.9 1027.3,476.5 1028.3,475.2C1029.3,473.8 1030.3,472.5 1031.3,471.2C1032.4,469.9 1033.4,468.6 1034.4,467.3C1035.5,466.0 1036.5,464.7 1037.6,463.4C1038.6,462.1 1039.7,460.8 1040.8,459.5C1041.8,458.2 1042.9,457.0 1044.0,455.7C1045.1,454.4 1046.2,453.2 1047.3,451.9C1048.4,450.7 1049.5,449.4 1050.6,448.2C1051.7,446.9 1052.9,445.7 1054.0,444.5C1055.1,443.2 1056.2,442.0 1057.3,440.8C1058.5,439.5 1059.6,438.3 1060.7,437.1C1061.9,435.9 1063.0,434.6 1064.1,433.4C1065.3,432.2 1066.4,431.0 1067.6,429.8C1068.7,428.6 1069.9,427.4 1071.1,426.2C1072.2,425.0 1073.4,423.8 1074.6,422.7C1075.8,421.5 1077.0,420.4 1078.3,419.2C1079.5,418.1 1080.7,417.0 1082.0,415.9C1083.3,414.9 1084.6,413.8 1085.9,412.8C1087.2,411.7 1088.5,410.7 1089.9,409.8C1091.3,408.8 1092.7,407.9 1094.1,407.0C1095.5,406.1 1096.9,405.3 1098.4,404.5C1099.8,403.7 1101.3,402.9 1102.8,402.2C1104.3,401.4 1105.8,400.8 1107.4,400.1C1108.9,399.4 1110.5,398.8 1112.0,398.2C1113.6,397.7 1115.2,397.1 1116.8,396.6C1118.3,396.1 1119.9,395.6 1121.6,395.2C1123.2,394.8 1124.8,394.4 1126.4,394.0C1128.0,393.6 1129.7,393.3 1131.3,393.0C1133.0,392.7 1134.6,392.5 1136.3,392.2C1137.9,392.0 1139.6,391.8 1141.2,391.7C1142.9,391.5 1144.6,391.4 1146.2,391.3C1147.9,391.2 1149.6,391.1 1151.2,391.1C1152.9,391.1 1154.6,391.1 1156.2,391.1C1157.9,391.1 1159.6,391.2 1161.2,391.3C1162.9,391.3 1164.6,391.4 1166.2,391.6C1167.9,391.7 1169.5,391.8 1171.2,392.0C1172.9,392.2 1174.5,392.3 1176.2,392.5C1177.8,392.7 1179.5,392.9 1181.1,393.1C1182.8,393.4 1184.5,393.6 1186.1,393.8C1187.8,394.1 1189.4,394.3 1191.1,394.5C1192.7,394.8 1194.4,395.0 1196.0,395.3C1197.7,395.5 1199.3,395.8 1201.0,396.0C1202.6,396.3 1204.3,396.5 1205.9,396.8C1207.6,397.0 1209.2,397.3 1210.9,397.5C1212.5,397.7 1214.2,398.0 1215.8,398.2C1217.5,398.4 1219.1,398.6 1220.8,398.8C1222.4,399.0 1224.1,399.2 1225.7,399.4C1227.4,399.6 1229.1,399.8 1230.7,400.0C1232.4,400.2 1234.0,400.4 1235.7,400.6C1237.3,400.8 1239.0,401.0 1240.6,401.3C1242.3,401.6 1243.9,401.8 1245.6,402.1C1247.2,402.4 1248.9,402.7 1250.5,403.1C1252.1,403.5 1253.7,403.8 1255.3,404.3C1257.0,404.7 1258.6,405.2 1260.1,405.7C1261.7,406.2 1263.3,406.8 1264.9,407.4C1266.4,408.0 1267.9,408.7 1269.4,409.4C1270.9,410.1 1272.4,410.9 1273.9,411.7C1275.3,412.6 1276.7,413.5 1278.1,414.4C1279.5,415.3 1280.8,416.3 1282.1,417.3C1283.5,418.3 1284.8,419.4 1286.0,420.5C1287.3,421.6 1288.5,422.8 1289.7,423.9C1290.8,425.1 1292.0,426.3 1293.1,427.5C1294.2,428.8 1295.3,430.0 1296.4,431.3C1297.5,432.6 1298.5,433.9 1299.5,435.3C1300.5,436.6 1301.5,437.9 1302.4,439.3C1303.4,440.7 1304.3,442.0 1305.3,443.4C1306.2,444.8 1307.1,446.2 1308.0,447.6C1308.9,449.1 1309.7,450.5 1310.6,451.9C1311.4,453.3 1312.3,454.8 1313.1,456.2C1313.9,457.7 1314.7,459.1 1315.5,460.6C1316.3,462.1 1317.1,463.6 1317.9,465.0C1318.6,466.5 1319.4,468.0 1320.1,469.5C1320.9,471.0 1321.6,472.5 1322.3,474.0C1323.0,475.5 1323.7,477.0 1324.4,478.5C1325.1,480.1 1325.8,481.6 1326.4,483.1C1327.1,484.6 1327.8,486.2 1328.4,487.7C1329.0,489.3 1329.7,490.8 1330.3,492.4C1330.9,493.9 1331.5,495.5 1332.1,497.0C1332.7,498.6 1333.3,500.1 1333.9,501.7C1334.5,503.3 1335.0,504.8 1335.6,506.4C1336.2,508.0 1336.7,509.5 1337.3,511.1C1337.8,512.7 1338.3,514.3 1338.9,515.9C1339.4,517.4 1339.9,519.0 1340.4,520.6C1340.9,522.2 1341.4,523.8 1341.9,525.4C1342.4,527.0 1342.9,528.6 1343.4,530.2C1343.9,531.8 1344.4,533.3 1344.9,534.9C1345.4,536.5 1345.8,538.1 1346.3,539.7C1346.8,541.3 1347.2,542.9 1347.7,544.6C1348.1,546.2 1348.6,547.8 1349.0,549.4C1349.5,551.0 1349.9,552.6 1350.4,554.2C1350.8,555.8 1351.3,557.4 1351.7,559.0C1352.1,560.6 1352.6,562.2 1353.0,563.9C1353.4,565.5 1353.8,567.1 1354.3,568.7C1354.7,570.3 1355.1,571.9 1355.5,573.5C1355.9,575.2 1356.3,576.8 1356.7,578.4C1357.1,580.0 1357.6,581.6 1358.0,583.2C1358.4,584.9 1358.8,586.5 1359.2,588.1C1359.6,589.7 1360.0,591.3 1360.4,593.0C1360.8,594.6 1361.2,596.2 1361.6,597.8C1361.9,599.4 1362.3,601.1 1362.7,602.7C1363.1,604.3 1363.5,605.9 1363.9,607.5C1364.3,609.2 1364.7,610.8 1365.1,612.4C1365.5,614.0 1365.9,615.7 1366.3,617.3C1366.6,618.9 1367.0,620.5 1367.4,622.1C1367.8,623.8 1368.2,625.4 1368.6,627.0C1369.0,628.6 1369.4,630.2 1369.8,631.9C1370.2,633.5 1370.6,635.1 1371.0,636.7C1371.4,638.3 1371.8,640.0 1372.2,641.6C1372.6,643.2 1373.0,644.8 1373.4,646.4C1373.8,648.1 1374.2,649.7 1374.6,651.3C1375.0,652.9 1375.4,654.5 1375.8,656.2C1376.2,657.8 1376.6,659.4 1377.1,661.0C1377.5,662.6 1377.9,664.2 1378.3,665.8C1378.7,667.5 1379.1,669.1 1379.6,670.7C1380.0,672.3 1380.4,673.9 1380.8,675.5C1381.2,677.1 1381.7,678.8 1382.1,680.4C1382.5,682.0 1382.9,683.6 1383.4,685.2C1383.8,686.8 1384.2,688.4 1384.6,690.1C1385.1,691.7 1385.5,693.3 1385.9,694.9C1386.3,696.5 1386.8,698.1 1387.2,699.7C1387.6,701.3 1388.1,703.0 1388.5,704.6C1388.9,706.2 1389.3,707.8 1389.8,709.4C1390.2,711.0 1390.6,712.6 1391.1,714.2C1391.5,715.8 1391.9,717.5 1392.4,719.1C1392.8,720.7 1393.2,722.3 1393.7,723.9C1394.1,725.5 1394.5,727.1 1395.0,728.7C1395.4,730.3 1395.8,732.0 1396.2,733.6C1396.7,735.2 1397.1,736.8 1397.5,738.4C1398.0,740.0 1398.4,741.6 1398.8,743.2C1399.3,744.8 1399.7,746.5 1400.1,748.1C1400.5,749.7 1401.0,751.3 1401.4,752.9C1401.8,754.5 1402.2,756.1 1402.7,757.7C1403.1,759.4 1403.5,761.0 1403.9,762.6C1404.4,764.2 1404.8,765.8 1405.2,767.4C1405.6,769.0 1406.0,770.7 1406.5,772.3C1406.9,773.9 1407.3,775.5 1407.7,777.1C1408.1,778.7 1408.6,780.3 1409.0,782.0C1409.4,783.6 1409.8,785.2 1410.2,786.8C1410.6,788.4 1411.0,790.0 1411.5,791.7C1411.9,793.3 1412.3,794.9 1412.7,796.5C1413.1,798.1 1413.5,799.7 1413.9,801.4C1414.4,803.0 1414.8,804.6 1415.2,806.2C1415.6,807.8 1416.0,809.4 1416.5,811.0C1416.9,812.7 1417.3,814.3 1417.7,815.9C1418.1,817.5 1418.6,819.1 1419.0,820.7C1419.4,822.3 1419.9,823.9 1420.3,825.6C1420.7,827.2 1421.2,828.8 1421.6,830.4C1422.1,832.0 1422.5,833.6 1423.0,835.2C1423.4,836.8 1423.9,838.4 1424.3,840.0C1424.8,841.6 1425.2,843.2 1425.7,844.8C1426.2,846.4 1426.6,848.0 1427.1,849.6C1427.6,851.2 1428.1,852.8 1428.6,854.4C1429.0,856.0 1429.5,857.6 1430.0,859.2C1430.5,860.8 1431.0,862.4 1431.5,864.0C1432.0,865.6 1432.6,867.1 1433.1,868.7C1433.6,870.3 1434.1,871.9 1434.7,873.5C1435.2,875.1 1435.7,876.6 1436.3,878.2C1436.8,879.8 1437.4,881.4 1438.0,882.9C1438.5,884.5 1439.1,886.1 1439.7,887.6C1440.2,889.2 1440.8,890.8 1441.4,892.3C1442.0,893.9 1442.6,895.4 1443.2,897.0C1443.8,898.5 1444.5,900.1 1445.1,901.6C1445.7,903.2 1446.4,904.7 1447.0,906.3C1447.6,907.8 1448.3,909.3 1449.0,910.9C1449.6,912.4 1450.3,913.9 1451.0,915.4C1451.6,917.0 1452.3,918.5 1453.0,920.0C1453.7,921.5 1454.4,923.1 1455.1,924.6C1455.8,926.1 1456.5,927.6 1457.2,929.1C1457.8,930.6 1458.5,932.2 1459.2,933.7C1459.9,935.2 1460.6,936.7 1461.3,938.2C1462.0,939.8 1462.7,941.3 1463.4,942.8C1464.0,944.3 1464.7,945.8 1465.4,947.4C1466.0,948.9 1466.7,950.4 1467.3,952.0C1468.0,953.5 1468.6,955.1 1469.3,956.6C1469.9,958.1 1470.5,959.7 1471.1,961.2C1471.7,962.8 1472.3,964.4 1472.9,965.9C1473.5,967.5 1474.0,969.1 1474.6,970.6C1475.1,972.2 1475.7,973.8 1476.2,975.4C1476.7,977.0 1477.2,978.6 1477.7,980.2C1478.1,981.8 1478.6,983.4 1479.0,985.0"/><path stroke="#00a0ff" d="M829.0,155.7C830.7,155.7 832.4,155.6 834.0,155.6C835.7,155.6 837.4,155.6 839.0,155.6C840.7,155.7 842.4,155.7 844.0,155.8C845.7,155.9 847.4,155.9 849.0,156.0C850.7,156.1 852.4,156.3 854.0,156.4C855.7,156.5 857.4,156.7 859.0,156.9C860.7,157.0 862.3,157.2 864.0,157.4C865.6,157.6 867.3,157.8 869.0,158.0C870.6,158.2 872.3,158.5 873.9,158.7C875.6,159.0 877.2,159.2 878.9,159.5C880.5,159.8 882.2,160.0 883.8,160.3C885.4,160.6 887.1,160.9 888.7,161.2C890.4,161.5 892.0,161.8 893.6,162.1C895.3,162.5 896.9,162.8 898.5,163.1C900.2,163.5 901.8,163.8 903.4,164.2C905.1,164.5 906.7,164.8 908.3,165.2C910.0,165.6 911.6,165.9 913.2,166.3C914.9,166.6 916.5,167.0 918.1,167.4C919.7,167.8 921.4,168.1 923.0,168.5C924.6,168.9 926.2,169.3 927.9,169.6C929.5,170.0 931.1,170.4 932.7,170.8C934.4,171.1 936.0,171.5 937.6,171.9C939.2,172.3 940.9,172.6 942.5,173.0C944.1,173.4 945.7,173.7 947.4,174.1C949.0,174.5 950.6,174.8 952.3,175.2C953.9,175.5 955.5,175.9 957.2,176.2C958.8,176.6 960.4,176.9 962.1,177.3C963.7,177.6 965.3,177.9 967.0,178.3C968.6,178.6 970.2,178.9 971.9,179.2C973.5,179.5 975.2,179.8 976.8,180.1C978.4,180.4 980.1,180.7 981.7,180.9C983.4,181.2 985.0,181.5 986.7,181.7C988.3,181.9 990.0,182.2 991.6,182.4C993.3,182.6 994.9,182.8 996.6,183.0C998.3,183.2 999.9,183.4 1001.6,183.6C1003.2,183.7 1004.9,183.9 1006.6,184.0C1008.2,184.1 1009.9,184.3 1011.6,184.4C1013.2,184.5 1014.9,184.6 1016.5,184.6C1018.2,184.7 1019.9,184.7 1021.6,184.8C1023.2,184.8 1024.9,184.8 1026.6,184.8C1028.2,184.8 1029.9,184.8 1031.6,184.8C1033.2,184.8 1034.9,184.8 1036.6,184.7C1038.2,184.7 1039.9,184.6 1041.6,184.6C1043.2,184.5 1044.9,184.4 1046.6,184.4C1048.2,184.3 1049.9,184.2 1051.6,184.1C1053.2,184.0 1054.9,183.9 1056.6,183.8C1058.2,183.7 1059.9,183.5 1061.6,183.4C1063.2,183.3 1064.9,183.2 1066.5,183.0C1068.2,182.9 1069.9,182.8 1071.5,182.6C1073.2,182.5 1074.9,182.4 1076.5,182.2C1078.2,182.1 1079.8,182.0 1081.5,181.8C1083.2,181.7 1084.8,181.5 1086.5,181.4C1088.2,181.3 1089.8,181.1 1091.5,181.0C1093.1,180.8 1094.8,180.7 1096.5,180.6C1098.1,180.5 1099.8,180.3 1101.5,180.2C1103.1,180.1 1104.8,180.0 1106.5,179.9C1108.1,179.7 1109.8,179.6 1111.5,179.5C1113.1,179.4 1114.8,179.4 1116.4,179.3C1118.1,179.2 1119.8,179.1 1121.4,179.1C1123.1,179.0 1124.8,178.9 1126.5,178.9C1128.1,178.9 1129.8,178.8 1131.5,178.8C1133.1,178.8 1134.8,178.8 1136.5,178.8C1138.1,178.8 1139.8,178.8 1141.5,178.8C1143.1,178.9 1144.8,178.9 1146.5,179.0C1148.1,179.0 1149.8,179.1 1151.5,179.2C1153.1,179.3 1154.8,179.4 1156.5,179.5C1158.1,179.7 1159.8,179.8 1161.4,180.0C1163.1,180.1 1164.8,180.3 1166.4,180.5C1168.1,180.7 1169.7,180.9 1171.4,181.1C1173.0,181.4 1174.7,181.6 1176.3,181.9C1178.0,182.2 1179.6,182.4 1181.3,182.7C1182.9,183.0 1184.5,183.4 1186.2,183.7C1187.8,184.1 1189.4,184.4 1191.1,184.8C1192.7,185.2 1194.3,185.6 1195.9,186.0C1197.5,186.4 1199.1,186.9 1200.7,187.3C1202.3,187.8 1203.9,188.3 1205.5,188.8C1207.1,189.3 1208.7,189.8 1210.3,190.3C1211.9,190.9 1213.4,191.5 1215.0,192.1C1216.6,192.6 1218.1,193.3 1219.6,193.9C1221.2,194.5 1222.7,195.2 1224.2,195.9C1225.8,196.6 1227.3,197.3 1228.8,198.0C1230.3,198.7 1231.8,199.5 1233.2,200.2C1234.7,201.0 1236.2,201.8 1237.6,202.6C1239.1,203.5 1240.5,204.3 1241.9,205.2C1243.4,206.1 1244.8,207.0 1246.2,207.9C1247.5,208.8 1248.9,209.8 1250.3,210.7C1251.6,211.7 1253.0,212.7 1254.3,213.7C1255.6,214.7 1256.9,215.8 1258.2,216.8C1259.5,217.9 1260.8,219.0 1262.0,220.1C1263.3,221.2 1264.5,222.3 1265.7,223.5C1266.9,224.6 1268.1,225.8 1269.3,226.9C1270.5,228.1 1271.7,229.3 1272.8,230.5C1274.0,231.7 1275.1,233.0 1276.2,234.2C1277.3,235.4 1278.4,236.7 1279.5,238.0C1280.6,239.2 1281.7,240.5 1282.7,241.8C1283.8,243.1 1284.8,244.4 1285.8,245.7C1286.9,247.0 1287.9,248.3 1288.9,249.7C1289.9,251.0 1290.9,252.4 1291.8,253.7C1292.8,255.1 1293.8,256.4 1294.7,257.8C1295.6,259.2 1296.6,260.6 1297.5,262.0C1298.4,263.4 1299.3,264.8 1300.2,266.2C1301.1,267.6 1302.0,269.0 1302.9,270.4C1303.7,271.8 1304.6,273.3 1305.5,274.7C1306.3,276.1 1307.1,277.6 1308.0,279.0C1308.8,280.5 1309.6,281.9 1310.4,283.4C1311.2,284.9 1312.0,286.3 1312.8,287.8C1313.6,289.3 1314.4,290.7 1315.1,292.2C1315.9,293.7 1316.7,295.2 1317.4,296.7C1318.1,298.2 1318.9,299.7 1319.6,301.2C1320.3,302.7 1321.1,304.2 1321.8,305.7C1322.5,307.2 1323.2,308.7 1323.9,310.2C1324.5,311.8 1325.2,313.3 1325.9,314.8C1326.6,316.3 1327.2,317.9 1327.9,319.4C1328.6,320.9 1329.2,322.5 1329.8,324.0C1330.5,325.6 1331.1,327.1 1331.7,328.6C1332.4,330.2 1333.0,331.7 1333.6,333.3C1334.2,334.8 1334.8,336.4 1335.4,338.0C1336.0,339.5 1336.6,341.1 1337.2,342.6C1337.8,344.2 1338.3,345.8 1338.9,347.3C1339.5,348.9 1340.1,350.5 1340.6,352.0C1341.2,353.6 1341.7,355.2 1342.3,356.8C1342.8,358.3 1343.4,359.9 1343.9,361.5C1344.5,363.1 1345.0,364.7 1345.5,366.2C1346.1,367.8 1346.6,369.4 1347.1,371.0C1347.6,372.6 1348.2,374.1 1348.7,375.7C1349.2,377.3 1349.7,378.9 1350.2,380.5C1350.7,382.1 1351.2,383.7 1351.7,385.3C1352.2,386.9 1352.7,388.4 1353.2,390.0C1353.7,391.6 1354.2,393.2 1354.7,394.8C1355.2,396.4 1355.7,398.0 1356.2,399.6C1356.7,401.2 1357.2,402.8 1357.7,404.4C1358.1,406.0 1358.6,407.6 1359.1,409.2C1359.6,410.8 1360.1,412.4 1360.6,414.0C1361.0,415.6 1361.5,417.2 1362.0,418.8C1362.5,420.4 1362.9,422.0 1363.4,423.6C1363.9,425.2 1364.4,426.8 1364.8,428.4C1365.3,430.0 1365.8,431.6 1366.2,433.2C1366.7,434.8 1367.2,436.4 1367.6,438.0C1368.1,439.6 1368.6,441.2 1369.0,442.8C1369.5,444.4 1369.9,446.0 1370.4,447.6C1370.9,449.2 1371.3,450.8 1371.8,452.4C1372.2,454.0 1372.7,455.6 1373.1,457.2C1373.6,458.8 1374.1,460.4 1374.5,462.0C1375.0,463.6 1375.4,465.2 1375.9,466.9C1376.3,468.5 1376.8,470.1 1377.2,471.7C1377.7,473.3 1378.1,474.9 1378.5,476.5C1379.0,478.1 1379.4,479.7 1379.9,481.3C1380.3,482.9 1380.8,484.5 1381.2,486.1C1381.7,487.8 1382.1,489.4 1382.5,491.0C1383.0,492.6 1383.4,494.2 1383.9,495.8C1384.3,497.4 1384.7,499.0 1385.2,500.6C1385.6,502.2 1386.0,503.8 1386.5,505.5C1386.9,507.1 1387.3,508.7 1387.8,510.3C1388.2,511.9 1388.6,513.5 1389.1,515.1C1389.5,516.7 1389.9,518.3 1390.4,520.0C1390.8,521.6 1391.2,523.2 1391.7,524.8C1392.1,526.4 1392.5,528.0 1393.0,529.6C1393.4,531.2 1393.8,532.8 1394.3,534.5C1394.7,536.1 1395.1,537.7 1395.5,539.3C1396.0,540.9 1396.4,542.5 1396.8,544.1C1397.3,545.7 1397.7,547.4 1398.1,549.0C1398.5,550.6 1399.0,552.2 1399.4,553.8C1399.8,555.4 1400.3,557.0 1400.7,558.6C1401.1,560.3 1401.5,561.9 1402.0,563.5C1402.4,565.1 1402.8,566.7 1403.3,568.3C1403.7,569.9 1404.1,571.5 1404.5,573.2C1405.0,574.8 1405.4,576.4 1405.8,578.0C1406.2,579.6 1406.7,581.2 1407.1,582.8C1407.5,584.4 1408.0,586.1 1408.4,587.7C1408.8,589.3 1409.2,590.9 1409.7,592.5C1410.1,594.1 1410.5,595.7 1411.0,597.3C1411.4,599.0 1411.8,600.6 1412.3,602.2C1412.7,603.8 1413.1,605.4 1413.5,607.0C1414.0,608.6 1414.4,610.2 1414.8,611.9C1415.3,613.5 1415.7,615.1 1416.1,616.7C1416.6,618.3 1417.0,619.9 1417.4,621.5C1417.9,623.1 1418.3,624.7 1418.7,626.4C1419.2,628.0 1419.6,629.6 1420.0,631.2C1420.5,632.8 1420.9,634.4 1421.3,636.0C1421.8,637.6 1422.2,639.2 1422.7,640.8C1423.1,642.5 1423.5,644.1 1424.0,645.7C1424.4,647.3 1424.8,648.9 1425.3,650.5C1425.7,652.1 1426.2,653.7 1426.6,655.3C1427.1,656.9 1427.5,658.5 1427.9,660.2C1428.4,661.8 1428.8,663.4 1429.3,665.0C1429.7,666.6 1430.2,668.2 1430.6,669.8C1431.1,671.4 1431.5,673.0 1432.0,674.6C1432.4,676.2 1432.9,677.8 1433.3,679.4C1433.8,681.0 1434.2,682.7 1434.7,684.3C1435.1,685.9 1435.6,687.5 1436.0,689.1C1436.5,690.7 1436.9,692.3 1437.4,693.9C1437.8,695.5 1438.3,697.1 1438.8,698.7C1439.2,700.3 1439.7,701.9 1440.1,703.5C1440.6,705.1 1441.1,706.7 1441.5,708.3C1442.0,709.9 1442.5,711.5 1442.9,713.1C1443.4,714.7 1443.8,716.3 1444.3,717.9C1444.8,719.5 1445.3,721.1 1445.7,722.7C1446.2,724.3 1446.7,725.9 1447.1,727.5C1447.6,729.1 1448.1,730.7 1448.6,732.3C1449.0,733.9 1449.5,735.5 1450.0,737.1C1450.5,738.7 1451.0,740.3 1451.4,741.9C1451.9,743.5 1452.4,745.1 1452.9,746.7C1453.4,748.3 1453.9,749.9 1454.3,751.5C1454.8,753.1 1455.3,754.7 1455.8,756.3C1456.3,757.9 1456.8,759.5 1457.3,761.1C1457.8,762.7 1458.3,764.3 1458.8,765.8C1459.3,767.4 1459.8,769.0 1460.3,770.6C1460.8,772.2 1461.3,773.8 1461.8,775.4C1462.3,777.0 1462.8,778.6 1463.3,780.2C1463.8,781.8 1464.3,783.3 1464.8,784.9C1465.3,786.5 1465.8,788.1 1466.4,789.7C1466.9,791.3 1467.4,792.9 1467.9,794.5C1468.4,796.0 1468.9,797.6 1469.5,799.2C1470.0,800.8 1470.5,802.4 1471.0,804.0C1471.6,805.5 1472.1,807.1 1472.6,808.7C1473.2,810.3 1473.7,811.9 1474.2,813.5C1474.8,815.0 1475.3,816.6 1475.8,818.2C1476.4,819.8 1476.9,821.4 1477.4,822.9C1478.0,824.5 1478.5,826.1 1479.1,827.7C1479.6,829.2 1480.2,830.8 1480.7,832.4C1481.3,834.0 1481.8,835.5 1482.4,837.1C1482.9,838.7 1483.5,840.3 1484.1,841.8C1484.6,843.4 1485.2,845.0 1485.7,846.5C1486.3,848.1 1486.9,849.7 1487.4,851.2C1488.0,852.8 1488.6,854.4 1489.2,856.0C1489.7,857.5 1490.3,859.1 1490.9,860.6C1491.5,862.2 1492.0,863.8 1492.6,865.3C1493.2,866.9 1493.8,868.5 1494.4,870.0C1495.0,871.6 1495.6,873.1 1496.1,874.7C1496.7,876.3 1497.3,877.8 1497.9,879.4C1498.5,880.9 1499.1,882.5 1499.7,884.1C1500.3,885.6 1500.9,887.2 1501.5,888.7C1502.2,890.3 1502.8,891.8 1503.4,893.4C1504.0,894.9 1504.6,896.5 1505.2,898.0C1505.8,899.6 1506.5,901.1 1507.1,902.7C1507.7,904.2 1508.3,905.8 1509.0,907.3C1509.6,908.9 1510.2,910.4 1510.9,911.9C1511.5,913.5 1512.1,915.0 1512.8,916.6C1513.4,918.1 1514.1,919.6 1514.7,921.2C1515.4,922.7 1516.0,924.3 1516.7,925.8C1517.3,927.3 1518.0,928.9 1518.6,930.4C1519.3,931.9 1519.9,933.5 1520.6,935.0C1521.3,936.5 1521.9,938.1 1522.6,939.6C1523.3,941.1 1523.9,942.6 1524.6,944.2"/><path stroke="#00a0ff" d="M828.3,425.9C829.8,425.2 831.4,424.5 832.9,423.7C834.4,423.0 835.9,422.3 837.4,421.5C838.9,420.8 840.4,420.1 841.9,419.4C843.4,418.7 844.9,417.9 846.4,417.2C848.0,416.5 849.5,415.9 851.0,415.2C852.6,414.5 854.1,413.9 855.6,413.2C857.2,412.6 858.7,411.9 860.3,411.3C861.9,410.7 863.4,410.2 865.0,409.6C866.6,409.0 868.2,408.5 869.8,408.0C871.4,407.5 873.0,407.0 874.6,406.6C876.2,406.2 877.8,405.7 879.4,405.4C881.1,405.0 882.7,404.7 884.4,404.4C886.0,404.1 887.7,403.9 889.3,403.7C891.0,403.5 892.7,403.4 894.3,403.3C896.0,403.2 897.7,403.2 899.4,403.3C901.0,403.3 902.7,403.4 904.4,403.6C906.0,403.8 907.7,404.0 909.3,404.3C911.0,404.5 912.6,404.9 914.3,405.3C915.9,405.6 917.5,406.1 919.1,406.5C920.7,407.0 922.3,407.5 923.9,408.1C925.5,408.7 927.0,409.3 928.6,409.9C930.1,410.5 931.7,411.2 933.2,411.9C934.7,412.6 936.2,413.4 937.7,414.1C939.2,414.9 940.6,415.7 942.1,416.5C943.6,417.3 945.0,418.1 946.5,419.0C947.9,419.8 949.3,420.7 950.8,421.6C952.2,422.5 953.6,423.3 955.0,424.2C956.4,425.1 957.9,426.0 959.3,426.9C960.7,427.8 962.1,428.7 963.5,429.6C964.9,430.5 966.3,431.4 967.8,432.3C969.2,433.2 970.6,434.0 972.0,434.9C973.5,435.8 974.9,436.7 976.3,437.5C977.7,438.4 979.2,439.3 980.6,440.1C982.1,441.0 983.5,441.8 985.0,442.6C986.4,443.5 987.9,444.3 989.3,445.1C990.8,445.9 992.3,446.6 993.8,447.4C995.3,448.1 996.8,448.8 998.3,449.5C999.9,450.2 1001.4,450.9 1003.0,451.5C1004.5,452.1 1006.1,452.6 1007.7,453.1C1009.3,453.6 1010.9,454.1 1012.5,454.5C1014.2,454.9 1015.8,455.2 1017.5,455.4C1019.1,455.6 1020.8,455.8 1022.5,455.8C1024.1,455.9 1025.8,455.9 1027.5,455.8C1029.2,455.7 1030.8,455.5 1032.5,455.3C1034.1,455.1 1035.8,454.8 1037.4,454.5C1039.1,454.1 1040.7,453.7 1042.3,453.2C1043.9,452.8 1045.5,452.3 1047.1,451.7C1048.7,451.2 1050.2,450.6 1051.8,450.0C1053.3,449.4 1054.9,448.7 1056.4,448.0C1057.9,447.3 1059.5,446.6 1061.0,445.9C1062.5,445.2 1064.0,444.4 1065.4,443.6C1066.9,442.9 1068.4,442.1 1069.9,441.3C1071.3,440.5 1072.8,439.6 1074.2,438.8C1075.7,438.0 1077.2,437.2 1078.6,436.3C1080.0,435.5 1081.5,434.6 1082.9,433.8C1084.4,432.9 1085.8,432.1 1087.3,431.2C1088.7,430.4 1090.1,429.6 1091.6,428.7C1093.0,427.9 1094.5,427.0 1095.9,426.2C1097.4,425.4 1098.9,424.6 1100.3,423.8C1101.8,423.0 1103.3,422.2 1104.8,421.4C1106.2,420.6 1107.7,419.9 1109.2,419.1C1110.8,418.4 1112.3,417.7 1113.8,417.0C1115.3,416.4 1116.9,415.7 1118.4,415.1C1120.0,414.5 1121.6,413.9 1123.1,413.4C1124.7,412.8 1126.3,412.3 1127.9,411.9C1129.5,411.4 1131.2,411.0 1132.8,410.7C1134.4,410.3 1136.1,410.0 1137.7,409.8C1139.4,409.5 1141.1,409.4 1142.7,409.2C1144.4,409.1 1146.1,409.0 1147.8,409.0C1149.4,409.0 1151.1,409.0 1152.8,409.0C1154.4,409.1 1156.1,409.2 1157.8,409.3C1159.5,409.4 1161.1,409.6 1162.8,409.7C1164.4,409.9 1166.1,410.1 1167.8,410.4C1169.4,410.6 1171.1,410.9 1172.7,411.1C1174.4,411.4 1176.0,411.7 1177.7,412.0C1179.3,412.3 1180.9,412.7 1182.6,413.0C1184.2,413.4 1185.9,413.7 1187.5,414.1C1189.1,414.5 1190.7,414.9 1192.4,415.2C1194.0,415.6 1195.6,416.1 1197.2,416.5C1198.9,416.9 1200.5,417.3 1202.1,417.8C1203.7,418.2 1205.3,418.7 1206.9,419.1C1208.5,419.6 1210.1,420.0 1211.7,420.5C1213.3,421.0 1215.0,421.5 1216.6,422.0C1218.2,422.5 1219.8,422.9 1221.3,423.4C1222.9,423.9 1224.5,424.4 1226.1,424.9C1227.7,425.5 1229.3,426.0 1230.9,426.5C1232.5,427.0 1234.1,427.5 1235.7,428.0C1237.3,428.5 1238.9,429.0 1240.5,429.5C1242.1,430.1 1243.7,430.6 1245.3,431.1C1246.9,431.6 1248.5,432.1 1250.0,432.6C1251.6,433.1 1253.2,433.6 1254.8,434.1C1256.4,434.6 1258.0,435.1 1259.6,435.7C1261.2,436.2 1262.8,436.8 1264.3,437.4C1265.9,438.0 1267.4,438.7 1268.9,439.4C1270.4,440.1 1271.9,440.9 1273.4,441.7C1274.9,442.5 1276.3,443.3 1277.7,444.2C1279.1,445.1 1280.5,446.1 1281.9,447.0C1283.2,448.0 1284.6,449.0 1285.9,450.1C1287.2,451.1 1288.5,452.2 1289.7,453.3C1291.0,454.4 1292.2,455.5 1293.4,456.7C1294.6,457.8 1295.8,459.0 1297.0,460.2C1298.1,461.5 1299.2,462.7 1300.3,464.0C1301.4,465.2 1302.5,466.5 1303.6,467.8C1304.6,469.1 1305.6,470.4 1306.6,471.8C1307.6,473.1 1308.6,474.5 1309.6,475.8C1310.5,477.2 1311.5,478.6 1312.4,480.0C1313.3,481.4 1314.2,482.8 1315.1,484.2C1315.9,485.7 1316.8,487.1 1317.6,488.6C1318.4,490.0 1319.2,491.5 1320.0,493.0C1320.8,494.4 1321.6,495.9 1322.4,497.4C1323.1,498.9 1323.9,500.4 1324.6,501.9C1325.4,503.4 1326.1,504.9 1326.8,506.4C1327.5,507.9 1328.2,509.5 1328.9,511.0C1329.6,512.5 1330.2,514.1 1330.9,515.6C1331.6,517.1 1332.2,518.7 1332.9,520.2C1333.5,521.7 1334.1,523.3 1334.8,524.8C1335.4,526.4 1336.0,527.9 1336.7,529.5C1337.3,531.1 1337.9,532.6 1338.5,534.2C1339.1,535.7 1339.7,537.3 1340.3,538.8C1340.9,540.4 1341.6,542.0 1342.2,543.5C1342.7,545.1 1343.3,546.6 1343.9,548.2C1344.5,549.8 1345.1,551.3 1345.7,552.9C1346.3,554.5 1346.9,556.1 1347.4,557.6C1348.0,559.2 1348.6,560.8 1349.1,562.3C1349.7,563.9 1350.3,565.5 1350.8,567.1C1351.4,568.6 1352.0,570.2 1352.5,571.8C1353.1,573.4 1353.6,575.0 1354.2,576.5C1354.7,578.1 1355.3,579.7 1355.8,581.3C1356.3,582.9 1356.9,584.5 1357.4,586.0C1357.9,587.6 1358.5,589.2 1359.0,590.8C1359.5,592.4 1360.1,594.0 1360.6,595.6C1361.1,597.2 1361.6,598.7 1362.1,600.3C1362.7,601.9 1363.2,603.5 1363.7,605.1C1364.2,606.7 1364.7,608.3 1365.2,609.9C1365.7,611.5 1366.2,613.1 1366.7,614.7C1367.2,616.3 1367.7,617.9 1368.2,619.5C1368.7,621.1 1369.2,622.7 1369.7,624.3C1370.2,625.9 1370.7,627.5 1371.2,629.1C1371.7,630.7 1372.2,632.3 1372.6,633.9C1373.1,635.5 1373.6,637.1 1374.1,638.7C1374.6,640.3 1375.1,641.9 1375.5,643.5C1376.0,645.1 1376.5,646.7 1377.0,648.3C1377.4,649.9 1377.9,651.5 1378.4,653.1C1378.8,654.7 1379.3,656.3 1379.8,657.9C1380.3,659.5 1380.7,661.1 1381.2,662.8C1381.6,664.4 1382.1,666.0 1382.6,667.6C1383.0,669.2 1383.5,670.8 1384.0,672.4C1384.4,674.0 1384.9,675.6 1385.3,677.2C1385.8,678.8 1386.3,680.4 1386.7,682.1C1387.2,683.7 1387.6,685.3 1388.1,686.9C1388.5,688.5 1389.0,690.1 1389.4,691.7C1389.9,693.3 1390.4,694.9 1390.8,696.5C1391.3,698.2 1391.7,699.8 1392.2,701.4C1392.6,703.0 1393.1,704.6 1393.5,706.2C1394.0,707.8 1394.4,709.4 1394.9,711.0C1395.3,712.7 1395.8,714.3 1396.2,715.9C1396.7,717.5 1397.1,719.1 1397.6,720.7C1398.0,722.3 1398.5,723.9 1398.9,725.5C1399.4,727.2 1399.9,728.8 1400.3,730.4C1400.8,732.0 1401.2,733.6 1401.7,735.2C1402.1,736.8 1402.6,738.4 1403.0,740.0C1403.5,741.7 1403.9,743.3 1404.4,744.9C1404.9,746.5 1405.3,748.1 1405.8,749.7C1406.2,751.3 1406.7,752.9 1407.1,754.5C1407.6,756.1 1408.1,757.7 1408.5,759.4C1409.0,761.0 1409.5,762.6 1409.9,764.2C1410.4,765.8 1410.8,767.4 1411.3,769.0C1411.8,770.6 1412.2,772.2 1412.7,773.8C1413.2,775.4 1413.7,777.0 1414.1,778.6C1414.6,780.2 1415.1,781.8 1415.6,783.5C1416.0,785.1 1416.5,786.7 1417.0,788.3C1417.5,789.9 1417.9,791.5 1418.4,793.1C1418.9,794.7 1419.4,796.3 1419.9,797.9C1420.4,799.5 1420.9,801.1 1421.3,802.7C1421.8,804.3 1422.3,805.9 1422.8,807.5C1423.3,809.1 1423.8,810.7 1424.3,812.3C1424.8,813.9 1425.3,815.5 1425.8,817.1C1426.3,818.7 1426.8,820.3 1427.3,821.8C1427.8,823.4 1428.3,825.0 1428.8,826.6C1429.4,828.2 1429.9,829.8 1430.4,831.4C1430.9,833.0 1431.4,834.6 1431.9,836.2C1432.5,837.8 1433.0,839.4 1433.5,840.9C1434.0,842.5 1434.6,844.1 1435.1,845.7C1435.6,847.3 1436.2,848.9 1436.7,850.5C1437.2,852.0 1437.8,853.6 1438.3,855.2C1438.9,856.8 1439.4,858.4 1440.0,860.0C1440.5,861.5 1441.1,863.1 1441.6,864.7C1442.2,866.3 1442.7,867.9 1443.3,869.4C1443.9,871.0 1444.4,872.6 1445.0,874.2C1445.6,875.7 1446.1,877.3 1446.7,878.9C1447.3,880.4 1447.9,882.0 1448.4,883.6C1449.0,885.2 1449.6,886.7 1450.2,888.3C1450.8,889.9 1451.4,891.4 1452.0,893.0C1452.6,894.5 1453.2,896.1 1453.8,897.7C1454.4,899.2 1455.0,900.8 1455.6,902.3C1456.2,903.9 1456.8,905.5 1457.4,907.0C1458.0,908.6 1458.7,910.1 1459.3,911.7C1459.9,913.2 1460.5,914.8 1461.2,916.3C1461.8,917.9 1462.5,919.4 1463.1,921.0C1463.7,922.5 1464.4,924.1 1465.0,925.6C1465.7,927.1 1466.3,928.7 1467.0,930.2C1467.6,931.8 1468.3,933.3 1469.0,934.8C1469.6,936.4 1470.3,937.9 1471.0,939.4C1471.7,941.0 1472.3,942.5 1473.0,944.0C1473.7,945.5 1474.4,947.1 1475.1,948.6C1475.8,950.1 1476.5,951.6 1477.2,953.2C1477.9,954.7 1478.6,956.2 1479.3,957.7C1480.0,959.2 1480.7,960.7 1481.5,962.2C1482.2,963.8 1482.9,965.3 1483.6,966.8C1484.4,968.3 1485.1,969.8 1485.8,971.3C1486.6,972.8 1487.3,974.3 1488.1,975.8C1488.8,977.3 1489.6,978.8 1490.3,980.3C1491.1,981.7 1491.9,983.2 1492.6,984.7"/><path stroke="#880000" d="M828.9,259.2C830.5,259.9 832.0,260.5 833.6,261.1C835.1,261.8 836.6,262.5 838.2,263.2C839.7,263.8 841.2,264.6 842.7,265.3C844.2,266.0 845.7,266.7 847.2,267.4C848.7,268.1 850.3,268.8 851.8,269.5C853.3,270.2 854.8,270.9 856.3,271.6C857.9,272.2 859.4,272.9 860.9,273.6C862.5,274.2 864.0,274.8 865.6,275.4C867.1,276.0 868.7,276.6 870.3,277.2C871.8,277.7 873.4,278.2 875.0,278.7C876.6,279.2 878.2,279.7 879.8,280.0C881.5,280.4 883.1,280.8 884.7,281.1C886.4,281.4 888.0,281.6 889.7,281.8C891.3,282.0 893.0,282.1 894.7,282.2C896.3,282.2 898.0,282.2 899.7,282.1C901.3,282.0 903.0,281.9 904.7,281.6C906.3,281.4 908.0,281.1 909.6,280.8C911.2,280.5 912.9,280.1 914.5,279.6C916.1,279.2 917.7,278.7 919.2,278.1C920.8,277.6 922.4,277.0 923.9,276.4C925.5,275.8 927.0,275.1 928.6,274.5C930.1,273.8 931.6,273.1 933.1,272.4C934.6,271.6 936.1,270.9 937.6,270.1C939.0,269.3 940.5,268.5 942.0,267.7C943.4,267.0 944.9,266.1 946.4,265.3C947.8,264.5 949.2,263.7 950.7,262.8C952.1,262.0 953.6,261.1 955.0,260.3C956.4,259.4 957.9,258.5 959.3,257.7C960.7,256.8 962.1,255.9 963.5,255.1C965.0,254.2 966.4,253.3 967.8,252.4C969.2,251.5 970.6,250.6 972.0,249.8C973.5,248.9 974.9,248.0 976.3,247.1C977.7,246.2 979.1,245.4 980.5,244.5C982.0,243.6 983.4,242.7 984.8,241.9C986.2,241.0 987.7,240.1 989.1,239.3C990.5,238.4 992.0,237.6 993.4,236.8C994.9,235.9 996.3,235.1 997.8,234.3C999.2,233.5 1000.7,232.7 1002.2,231.9C1003.6,231.1 1005.1,230.3 1006.6,229.5C1008.1,228.8 1009.6,228.0 1011.1,227.3C1012.6,226.6 1014.1,225.9 1015.6,225.2C1017.1,224.5 1018.6,223.8 1020.2,223.2C1021.7,222.5 1023.3,221.9 1024.8,221.3C1026.4,220.7 1028.0,220.2 1029.5,219.6C1031.1,219.1 1032.7,218.6 1034.3,218.1C1035.9,217.6 1037.5,217.2 1039.1,216.8C1040.8,216.4 1042.4,216.0 1044.0,215.6C1045.6,215.3 1047.3,215.0 1048.9,214.7C1050.6,214.5 1052.2,214.3 1053.9,214.1C1055.6,213.9 1057.2,213.8 1058.9,213.7C1060.5,213.6 1062.2,213.5 1063.9,213.5C1065.6,213.5 1067.2,213.5 1068.9,213.5C1070.6,213.5 1072.2,213.6 1073.9,213.6C1075.6,213.7 1077.2,213.8 1078.9,213.9C1080.6,214.0 1082.2,214.1 1083.9,214.3C1085.5,214.4 1087.2,214.5 1088.9,214.6C1090.5,214.8 1092.2,214.9 1093.9,215.0C1095.5,215.2 1097.2,215.3 1098.9,215.4C1100.5,215.5 1102.2,215.6 1103.9,215.7C1105.5,215.8 1107.2,215.9 1108.9,215.9C1110.5,216.0 1112.2,216.0 1113.9,216.0C1115.5,216.0 1117.2,216.0 1118.9,216.0C1120.5,215.9 1122.2,215.8 1123.9,215.7C1125.5,215.6 1127.2,215.4 1128.8,215.3C1130.5,215.1 1132.2,214.9 1133.8,214.7C1135.5,214.5 1137.1,214.2 1138.8,213.9C1140.4,213.7 1142.1,213.4 1143.7,213.1C1145.3,212.8 1147.0,212.4 1148.6,212.1C1150.2,211.8 1151.9,211.4 1153.5,211.0C1155.1,210.7 1156.8,210.3 1158.4,209.9C1160.0,209.5 1161.6,209.1 1163.2,208.7C1164.8,208.3 1166.5,207.9 1168.1,207.4C1169.7,207.0 1171.3,206.6 1172.9,206.2C1174.5,205.7 1176.1,205.3 1177.7,204.9C1179.4,204.4 1181.0,204.0 1182.6,203.5C1184.2,203.1 1185.8,202.7 1187.4,202.2C1189.0,201.8 1190.6,201.4 1192.2,201.0C1193.9,200.5 1195.5,200.1 1197.1,199.7C1198.7,199.3 1200.3,198.9 1201.9,198.5C1203.6,198.1 1205.2,197.7 1206.8,197.3C1208.4,197.0 1210.1,196.6 1211.7,196.2C1213.3,195.9 1215.0,195.6 1216.6,195.2C1218.2,194.9 1219.9,194.6 1221.5,194.4C1223.2,194.1 1224.8,193.8 1226.5,193.6C1228.1,193.4 1229.8,193.2 1231.5,193.0C1233.1,192.9 1234.8,192.7 1236.4,192.6C1238.1,192.5 1239.8,192.4 1241.4,192.4C1243.1,192.4 1244.8,192.4 1246.5,192.5C1248.1,192.5 1249.8,192.7 1251.4,192.8C1253.1,193.0 1254.8,193.2 1256.4,193.5C1258.0,193.8 1259.7,194.1 1261.3,194.5C1262.9,194.9 1264.5,195.3 1266.1,195.9C1267.7,196.4 1269.3,197.0 1270.8,197.6C1272.3,198.3 1273.8,199.0 1275.3,199.8C1276.8,200.5 1278.3,201.4 1279.7,202.2C1281.1,203.1 1282.5,204.0 1283.9,205.0C1285.2,205.9 1286.6,206.9 1287.9,208.0C1289.2,209.0 1290.5,210.1 1291.7,211.2C1292.9,212.3 1294.2,213.5 1295.3,214.6C1296.5,215.8 1297.7,217.0 1298.8,218.2C1299.9,219.5 1301.0,220.7 1302.1,222.0C1303.2,223.3 1304.2,224.6 1305.2,225.9C1306.2,227.3 1307.2,228.6 1308.2,230.0C1309.1,231.3 1310.1,232.7 1311.0,234.1C1311.9,235.5 1312.8,236.9 1313.7,238.3C1314.5,239.8 1315.4,241.2 1316.2,242.6C1317.1,244.1 1317.9,245.5 1318.7,247.0C1319.5,248.4 1320.3,249.9 1321.1,251.4C1321.8,252.9 1322.6,254.4 1323.4,255.8C1324.1,257.3 1324.9,258.8 1325.6,260.3C1326.3,261.8 1327.1,263.3 1327.8,264.8C1328.5,266.3 1329.2,267.8 1329.9,269.3C1330.7,270.8 1331.4,272.4 1332.1,273.9C1332.8,275.4 1333.5,276.9 1334.2,278.4C1334.9,279.9 1335.6,281.4 1336.3,282.9C1337.0,284.4 1337.7,286.0 1338.4,287.5C1339.1,289.0 1339.8,290.5 1340.5,292.0C1341.2,293.6 1341.9,295.1 1342.5,296.6C1343.2,298.1 1343.9,299.7 1344.6,301.2C1345.2,302.7 1345.9,304.2 1346.5,305.8C1347.2,307.3 1347.9,308.8 1348.5,310.4C1349.1,311.9 1349.8,313.5 1350.4,315.0C1351.0,316.6 1351.7,318.1 1352.3,319.7C1352.9,321.2 1353.5,322.8 1354.1,324.3C1354.7,325.9 1355.3,327.4 1355.9,329.0C1356.5,330.6 1357.1,332.1 1357.6,333.7C1358.2,335.2 1358.8,336.8 1359.3,338.4C1359.9,340.0 1360.4,341.5 1361.0,343.1C1361.5,344.7 1362.1,346.3 1362.6,347.8C1363.1,349.4 1363.7,351.0 1364.2,352.6C1364.7,354.2 1365.2,355.8 1365.7,357.4C1366.3,358.9 1366.8,360.5 1367.3,362.1C1367.8,363.7 1368.3,365.3 1368.7,366.9C1369.2,368.5 1369.7,370.1 1370.2,371.7C1370.7,373.3 1371.2,374.9 1371.6,376.5C1372.1,378.1 1372.6,379.7 1373.0,381.3C1373.5,382.9 1374.0,384.5 1374.4,386.1C1374.9,387.7 1375.3,389.3 1375.8,390.9C1376.2,392.5 1376.6,394.1 1377.1,395.8C1377.5,397.4 1378.0,399.0 1378.4,400.6C1378.8,402.2 1379.3,403.8 1379.7,405.4C1380.1,407.0 1380.5,408.6 1381.0,410.3C1381.4,411.9 1381.8,413.5 1382.2,415.1C1382.6,416.7 1383.1,418.3 1383.5,420.0C1383.9,421.6 1384.3,423.2 1384.7,424.8C1385.1,426.4 1385.5,428.0 1385.9,429.7C1386.3,431.3 1386.8,432.9 1387.2,434.5C1387.6,436.1 1388.0,437.7 1388.4,439.4C1388.8,441.0 1389.2,442.6 1389.6,444.2C1390.0,445.8 1390.4,447.5 1390.8,449.1C1391.2,450.7 1391.6,452.3 1392.0,453.9C1392.4,455.6 1392.8,457.2 1393.2,458.8C1393.6,460.4 1394.0,462.0 1394.4,463.7C1394.8,465.3 1395.2,466.9 1395.6,468.5C1396.0,470.1 1396.4,471.8 1396.8,473.4C1397.2,475.0 1397.6,476.6 1398.0,478.2C1398.4,479.9 1398.8,481.5 1399.2,483.1C1399.6,484.7 1400.0,486.3 1400.4,488.0C1400.8,489.6 1401.2,491.2 1401.6,492.8C1402.0,494.4 1402.4,496.1 1402.8,497.7C1403.2,499.3 1403.6,500.9 1404.0,502.5C1404.4,504.2 1404.8,505.8 1405.2,507.4C1405.6,509.0 1406.0,510.6 1406.4,512.3C1406.8,513.9 1407.2,515.5 1407.6,517.1C1408.0,518.7 1408.4,520.4 1408.8,522.0C1409.2,523.6 1409.6,525.2 1410.0,526.8C1410.4,528.5 1410.8,530.1 1411.2,531.7C1411.6,533.3 1412.0,534.9 1412.4,536.6C1412.8,538.2 1413.2,539.8 1413.6,541.4C1414.0,543.0 1414.4,544.7 1414.8,546.3C1415.2,547.9 1415.6,549.5 1416.0,551.1C1416.4,552.7 1416.8,554.4 1417.2,556.0C1417.6,557.6 1418.0,559.2 1418.4,560.8C1418.8,562.5 1419.2,564.1 1419.6,565.7C1420.1,567.3 1420.5,568.9 1420.9,570.5C1421.3,572.2 1421.7,573.8 1422.1,575.4C1422.5,577.0 1422.9,578.6 1423.3,580.3C1423.7,581.9 1424.1,583.5 1424.5,585.1C1425.0,586.7 1425.4,588.3 1425.8,590.0C1426.2,591.6 1426.6,593.2 1427.0,594.8C1427.4,596.4 1427.8,598.0 1428.3,599.7C1428.7,601.3 1429.1,602.9 1429.5,604.5C1429.9,606.1 1430.3,607.7 1430.8,609.4C1431.2,611.0 1431.6,612.6 1432.0,614.2C1432.4,615.8 1432.8,617.4 1433.3,619.0C1433.7,620.7 1434.1,622.3 1434.5,623.9C1435.0,625.5 1435.4,627.1 1435.8,628.7C1436.2,630.3 1436.6,632.0 1437.1,633.6C1437.5,635.2 1437.9,636.8 1438.3,638.4C1438.8,640.0 1439.2,641.6 1439.6,643.2C1440.1,644.9 1440.5,646.5 1440.9,648.1C1441.4,649.7 1441.8,651.3 1442.2,652.9C1442.6,654.5 1443.1,656.1 1443.5,657.8C1444.0,659.4 1444.4,661.0 1444.8,662.6C1445.3,664.2 1445.7,665.8 1446.1,667.4C1446.6,669.0 1447.0,670.6 1447.5,672.2C1447.9,673.9 1448.3,675.5 1448.8,677.1C1449.2,678.7 1449.7,680.3 1450.1,681.9C1450.6,683.5 1451.0,685.1 1451.5,686.7C1451.9,688.3 1452.3,689.9 1452.8,691.5C1453.2,693.1 1453.7,694.8 1454.2,696.4C1454.6,698.0 1455.1,699.6 1455.5,701.2C1456.0,702.8 1456.4,704.4 1456.9,706.0C1457.3,707.6 1457.8,709.2 1458.3,710.8C1458.7,712.4 1459.2,714.0 1459.6,715.6C1460.1,717.2 1460.6,718.8 1461.0,720.4C1461.5,722.0 1462.0,723.6 1462.4,725.2C1462.9,726.8 1463.4,728.4 1463.8,730.0C1464.3,731.6 1464.8,733.2 1465.3,734.8C1465.7,736.4 1466.2,738.0 1466.7,739.6C1467.2,741.2 1467.6,742.8 1468.1,744.4C1468.6,746.0 1469.1,747.6 1469.6,749.2C1470.1,750.8 1470.5,752.4 1471.0,754.0C1471.5,755.6 1472.0,757.2 1472.5,758.8C1473.0,760.4 1473.5,762.0 1474.0,763.6C1474.5,765.2 1475.0,766.8 1475.4,768.4C1475.9,769.9 1476.4,771.5 1476.9,773.1C1477.4,774.7 1477.9,776.3 1478.4,777.9C1478.9,779.5 1479.5,781.1 1480.0,782.7C1480.5,784.3 1481.0,785.9 1481.5,787.4C1482.0,789.0 1482.5,790.6 1483.0,792.2C1483.5,793.8 1484.0,795.4 1484.6,797.0C1485.1,798.6 1485.6,800.1 1486.1,801.7C1486.6,803.3 1487.2,804.9 1487.7,806.5C1488.2,808.1 1488.7,809.6 1489.3,811.2C1489.8,812.8 1490.3,814.4 1490.9,816.0C1491.4,817.6 1491.9,819.1 1492.5,820.7C1493.0,822.3 1493.5,823.9 1494.1,825.5C1494.6,827.0 1495.1,828.6 1495.7,830.2C1496.2,831.8 1496.8,833.3 1497.3,834.9C1497.9,836.5 1498.4,838.1 1499.0,839.6C1499.5,841.2 1500.1,842.8 1500.6,844.4C1501.2,845.9 1501.8,847.5 1502.3,849.1C1502.9,850.7 1503.4,852.2 1504.0,853.8C1504.6,855.4 1505.1,856.9 1505.7,858.5C1506.3,860.1 1506.8,861.6 1507.4,863.2C1508.0,864.8 1508.6,866.3 1509.1,867.9C1509.7,869.5 1510.3,871.0 1510.9,872.6C1511.5,874.2 1512.0,875.7 1512.6,877.3C1513.2,878.9 1513.8,880.4 1514.4,882.0C1515.0,883.5 1515.6,885.1 1516.2,886.7C1516.8,888.2 1517.4,889.8 1518.0,891.3C1518.6,892.9 1519.2,894.4 1519.8,896.0C1520.4,897.6 1521.0,899.1 1521.6,900.7C1522.2,902.2 1522.8,903.8 1523.4,905.3C1524.0,906.9 1524.6,908.4 1525.3,910.0"/><path stroke="#880000" d="M829.2,602.5C830.5,603.5 831.9,604.5 833.2,605.5C834.5,606.6 835.8,607.6 837.1,608.7C838.4,609.7 839.6,610.8 840.9,611.8C842.2,612.9 843.5,614.0 844.8,615.0C846.1,616.1 847.4,617.1 848.7,618.2C850.0,619.2 851.3,620.3 852.6,621.3C853.9,622.3 855.3,623.3 856.6,624.3C857.9,625.3 859.3,626.3 860.7,627.3C862.0,628.2 863.4,629.2 864.8,630.1C866.2,631.0 867.6,631.9 869.0,632.8C870.4,633.7 871.9,634.5 873.3,635.3C874.8,636.1 876.3,636.9 877.8,637.6C879.3,638.3 880.8,639.0 882.4,639.6C884.0,640.2 885.5,640.7 887.1,641.2C888.7,641.7 890.4,642.1 892.0,642.4C893.7,642.7 895.3,642.9 897.0,643.0C898.6,643.0 900.3,643.0 902.0,642.9C903.7,642.8 905.3,642.5 906.9,642.1C908.6,641.8 910.2,641.3 911.8,640.8C913.3,640.3 914.9,639.6 916.4,639.0C917.9,638.3 919.4,637.5 920.9,636.7C922.4,635.9 923.8,635.1 925.2,634.2C926.6,633.3 928.0,632.3 929.4,631.4C930.7,630.4 932.0,629.4 933.3,628.3C934.7,627.3 935.9,626.2 937.2,625.1C938.5,624.0 939.7,622.9 940.9,621.8C942.2,620.6 943.4,619.5 944.6,618.3C945.7,617.2 946.9,616.0 948.1,614.8C949.2,613.6 950.4,612.3 951.5,611.1C952.6,609.9 953.7,608.6 954.8,607.4C955.9,606.1 957.0,604.8 958.1,603.5C959.1,602.2 960.2,600.9 961.2,599.6C962.2,598.3 963.3,597.0 964.3,595.7C965.3,594.3 966.3,593.0 967.3,591.7C968.2,590.3 969.2,588.9 970.2,587.6C971.2,586.2 972.1,584.9 973.1,583.5C974.0,582.1 974.9,580.7 975.9,579.3C976.8,577.9 977.7,576.6 978.6,575.2C979.6,573.8 980.5,572.4 981.4,571.0C982.3,569.6 983.2,568.2 984.1,566.8C985.0,565.4 985.9,564.0 986.8,562.6C987.7,561.2 988.6,559.8 989.5,558.3C990.5,556.9 991.4,555.5 992.3,554.1C993.2,552.7 994.1,551.3 995.0,550.0C995.9,548.6 996.9,547.2 997.8,545.8C998.7,544.4 999.7,543.0 1000.6,541.7C1001.6,540.3 1002.6,538.9 1003.5,537.6C1004.5,536.2 1005.5,534.9 1006.5,533.6C1007.5,532.2 1008.6,530.9 1009.6,529.6C1010.6,528.3 1011.7,527.0 1012.8,525.7C1013.9,524.5 1015.0,523.2 1016.1,522.0C1017.2,520.7 1018.3,519.5 1019.5,518.3C1020.7,517.1 1021.8,515.9 1023.0,514.8C1024.2,513.6 1025.5,512.5 1026.7,511.3C1027.9,510.2 1029.2,509.1 1030.5,508.1C1031.8,507.0 1033.1,505.9 1034.4,504.9C1035.7,503.9 1037.0,502.9 1038.4,501.9C1039.7,500.9 1041.1,499.9 1042.5,499.0C1043.8,498.0 1045.2,497.1 1046.6,496.2C1048.1,495.3 1049.5,494.5 1050.9,493.6C1052.4,492.8 1053.8,491.9 1055.3,491.1C1056.7,490.3 1058.2,489.6 1059.7,488.8C1061.2,488.1 1062.7,487.4 1064.2,486.7C1065.7,486.0 1067.3,485.3 1068.8,484.6C1070.4,484.0 1071.9,483.4 1073.5,482.8C1075.0,482.2 1076.6,481.6 1078.2,481.1C1079.8,480.5 1081.4,480.0 1083.0,479.6C1084.5,479.1 1086.2,478.6 1087.8,478.2C1089.4,477.8 1091.0,477.4 1092.6,477.0C1094.3,476.6 1095.9,476.3 1097.5,476.0C1099.2,475.7 1100.8,475.4 1102.5,475.2C1104.1,474.9 1105.8,474.7 1107.5,474.5C1109.1,474.3 1110.8,474.1 1112.4,474.0C1114.1,473.8 1115.8,473.7 1117.4,473.6C1119.1,473.5 1120.8,473.4 1122.4,473.4C1124.1,473.3 1125.8,473.2 1127.4,473.2C1129.1,473.2 1130.8,473.1 1132.4,473.1C1134.1,473.1 1135.8,473.1 1137.5,473.1C1139.1,473.0 1140.8,473.0 1142.5,473.0C1144.1,473.0 1145.8,473.0 1147.5,473.0C1149.1,473.0 1150.8,473.0 1152.5,473.0C1154.2,473.0 1155.8,473.0 1157.5,473.0C1159.2,472.9 1160.8,472.9 1162.5,472.9C1164.2,472.8 1165.8,472.8 1167.5,472.7C1169.2,472.6 1170.8,472.5 1172.5,472.4C1174.2,472.3 1175.8,472.2 1177.5,472.1C1179.2,471.9 1180.8,471.8 1182.5,471.6C1184.2,471.4 1185.8,471.2 1187.5,471.0C1189.1,470.8 1190.8,470.6 1192.4,470.4C1194.1,470.1 1195.7,469.9 1197.4,469.6C1199.0,469.4 1200.7,469.1 1202.3,468.8C1204.0,468.5 1205.6,468.2 1207.3,467.9C1208.9,467.6 1210.6,467.3 1212.2,467.0C1213.8,466.7 1215.5,466.3 1217.1,466.0C1218.7,465.6 1220.4,465.3 1222.0,464.9C1223.6,464.6 1225.3,464.2 1226.9,463.8C1228.5,463.5 1230.1,463.1 1231.8,462.7C1233.4,462.3 1235.0,461.9 1236.6,461.5C1238.3,461.1 1239.9,460.8 1241.5,460.4C1243.1,460.0 1244.7,459.6 1246.4,459.2C1248.0,458.7 1249.6,458.3 1251.2,457.9C1252.8,457.5 1254.5,457.1 1256.1,456.7C1257.7,456.3 1259.3,455.9 1261.0,455.6C1262.6,455.2 1264.2,454.9 1265.9,454.6C1267.5,454.3 1269.2,454.0 1270.8,453.8C1272.5,453.6 1274.2,453.5 1275.8,453.4C1277.5,453.3 1279.2,453.3 1280.8,453.4C1282.5,453.5 1284.2,453.6 1285.8,453.9C1287.4,454.2 1289.1,454.6 1290.6,455.2C1292.2,455.7 1293.8,456.4 1295.2,457.1C1296.7,457.9 1298.2,458.8 1299.5,459.7C1300.9,460.6 1302.3,461.7 1303.6,462.7C1304.9,463.8 1306.1,464.9 1307.3,466.0C1308.6,467.1 1309.7,468.3 1310.9,469.5C1312.1,470.7 1313.2,472.0 1314.3,473.2C1315.4,474.5 1316.5,475.7 1317.5,477.0C1318.6,478.3 1319.6,479.6 1320.6,481.0C1321.6,482.3 1322.6,483.6 1323.6,485.0C1324.5,486.4 1325.5,487.8 1326.4,489.2C1327.3,490.6 1328.2,492.0 1329.1,493.4C1329.9,494.8 1330.8,496.3 1331.6,497.7C1332.4,499.2 1333.2,500.6 1334.0,502.1C1334.8,503.6 1335.6,505.1 1336.3,506.5C1337.1,508.0 1337.8,509.5 1338.5,511.0C1339.2,512.6 1339.9,514.1 1340.6,515.6C1341.3,517.1 1342.0,518.6 1342.7,520.2C1343.3,521.7 1344.0,523.2 1344.6,524.8C1345.3,526.3 1345.9,527.9 1346.5,529.4C1347.2,531.0 1347.8,532.5 1348.4,534.1C1349.0,535.6 1349.6,537.2 1350.2,538.7C1350.8,540.3 1351.4,541.8 1352.0,543.4C1352.6,545.0 1353.2,546.5 1353.8,548.1C1354.4,549.7 1354.9,551.2 1355.5,552.8C1356.1,554.4 1356.7,555.9 1357.2,557.5C1357.8,559.1 1358.4,560.6 1358.9,562.2C1359.5,563.8 1360.0,565.4 1360.6,566.9C1361.1,568.5 1361.7,570.1 1362.2,571.7C1362.8,573.3 1363.3,574.8 1363.8,576.4C1364.4,578.0 1364.9,579.6 1365.4,581.2C1365.9,582.8 1366.5,584.3 1367.0,585.9C1367.5,587.5 1368.0,589.1 1368.5,590.7C1369.0,592.3 1369.5,593.9 1370.0,595.5C1370.5,597.1 1371.0,598.7 1371.5,600.3C1372.0,601.9 1372.5,603.4 1373.0,605.0C1373.5,606.6 1374.0,608.2 1374.5,609.8C1375.0,611.4 1375.4,613.0 1375.9,614.6C1376.4,616.2 1376.9,617.8 1377.3,619.4C1377.8,621.0 1378.3,622.6 1378.8,624.2C1379.2,625.8 1379.7,627.4 1380.1,629.1C1380.6,630.7 1381.1,632.3 1381.5,633.9C1382.0,635.5 1382.4,637.1 1382.9,638.7C1383.3,640.3 1383.8,641.9 1384.2,643.5C1384.7,645.1 1385.1,646.7 1385.6,648.3C1386.0,650.0 1386.5,651.6 1386.9,653.2C1387.3,654.8 1387.8,656.4 1388.2,658.0C1388.7,659.6 1389.1,661.2 1389.5,662.8C1390.0,664.5 1390.4,666.1 1390.8,667.7C1391.3,669.3 1391.7,670.9 1392.1,672.5C1392.5,674.1 1393.0,675.8 1393.4,677.4C1393.8,679.0 1394.2,680.6 1394.7,682.2C1395.1,683.8 1395.5,685.4 1395.9,687.1C1396.4,688.7 1396.8,690.3 1397.2,691.9C1397.6,693.5 1398.0,695.1 1398.4,696.8C1398.9,698.4 1399.3,700.0 1399.7,701.6C1400.1,703.2 1400.5,704.8 1400.9,706.5C1401.4,708.1 1401.8,709.7 1402.2,711.3C1402.6,712.9 1403.0,714.5 1403.4,716.2C1403.9,717.8 1404.3,719.4 1404.7,721.0C1405.1,722.6 1405.5,724.2 1405.9,725.9C1406.3,727.5 1406.8,729.1 1407.2,730.7C1407.6,732.3 1408.0,734.0 1408.4,735.6C1408.8,737.2 1409.3,738.8 1409.7,740.4C1410.1,742.0 1410.5,743.7 1410.9,745.3C1411.4,746.9 1411.8,748.5 1412.2,750.1C1412.6,751.7 1413.0,753.4 1413.5,755.0C1413.9,756.6 1414.3,758.2 1414.7,759.8C1415.1,761.4 1415.6,763.0 1416.0,764.7C1416.4,766.3 1416.9,767.9 1417.3,769.5C1417.7,771.1 1418.1,772.7 1418.6,774.3C1419.0,776.0 1419.4,777.6 1419.9,779.2C1420.3,780.8 1420.7,782.4 1421.2,784.0C1421.6,785.6 1422.1,787.2 1422.5,788.8C1422.9,790.5 1423.4,792.1 1423.8,793.7C1424.3,795.3 1424.7,796.9 1425.2,798.5C1425.6,800.1 1426.1,801.7 1426.5,803.3C1427.0,804.9 1427.5,806.5 1427.9,808.1C1428.4,809.7 1428.8,811.4 1429.3,813.0C1429.8,814.6 1430.2,816.2 1430.7,817.8C1431.2,819.4 1431.6,821.0 1432.1,822.6C1432.6,824.2 1433.1,825.8 1433.6,827.4C1434.0,829.0 1434.5,830.6 1435.0,832.2C1435.5,833.8 1436.0,835.4 1436.5,837.0C1437.0,838.6 1437.5,840.1 1438.0,841.7C1438.5,843.3 1439.0,844.9 1439.5,846.5C1440.0,848.1 1440.5,849.7 1441.0,851.3C1441.5,852.9 1442.0,854.5 1442.6,856.0C1443.1,857.6 1443.6,859.2 1444.1,860.8C1444.7,862.4 1445.2,864.0 1445.7,865.6C1446.3,867.1 1446.8,868.7 1447.4,870.3C1447.9,871.9 1448.4,873.4 1449.0,875.0C1449.6,876.6 1450.1,878.2 1450.7,879.7C1451.2,881.3 1451.8,882.9 1452.4,884.5C1452.9,886.0 1453.5,887.6 1454.1,889.2C1454.7,890.7 1455.3,892.3 1455.9,893.9C1456.4,895.4 1457.0,897.0 1457.6,898.5C1458.2,900.1 1458.8,901.7 1459.4,903.2C1460.1,904.8 1460.7,906.3 1461.3,907.9C1461.9,909.4 1462.5,911.0 1463.2,912.5C1463.8,914.1 1464.4,915.6 1465.1,917.1C1465.7,918.7 1466.3,920.2 1467.0,921.8C1467.6,923.3 1468.3,924.8 1469.0,926.4C1469.6,927.9 1470.3,929.4 1471.0,931.0C1471.6,932.5 1472.3,934.0 1473.0,935.5C1473.7,937.1 1474.4,938.6 1475.1,940.1C1475.8,941.6 1476.5,943.1 1477.2,944.7C1477.9,946.2 1478.6,947.7 1479.3,949.2C1480.0,950.7 1480.7,952.2 1481.5,953.7C1482.2,955.2 1482.9,956.7 1483.7,958.2C1484.4,959.7 1485.2,961.2 1485.9,962.7C1486.7,964.2 1487.4,965.7 1488.2,967.1C1489.0,968.6 1489.8,970.1 1490.5,971.6C1491.3,973.1 1492.1,974.5 1492.9,976.0C1493.7,977.5 1494.5,978.9 1495.3,980.4C1496.1,981.9 1496.9,983.3 1497.7,984.8"/></g><rect x="673.0" y="23.4" width="145.2" height="280.6" fill="#fff" stroke="#3a3a3a" stroke-width="1.6"/><path d="M677.8,41.4H733.2" stroke="#9e00cc" stroke-width="4.0" stroke-linecap="round"/><text x="739.1" y="50.3" font-size="24.4" text-anchor="start">N=164</text><path d="M677.8,72.0H733.2" stroke="#9e00cc" stroke-width="4.0" stroke-linecap="round"/><text x="739.1" y="80.9" font-size="24.4" text-anchor="start">Z=125</text><path d="M677.8,102.6H733.2" stroke="#ef8429" stroke-width="4.0" stroke-linecap="round"/><text x="739.1" y="111.5" font-size="24.4" text-anchor="start">N=172</text><path d="M677.8,133.3H733.2" stroke="#ef8429" stroke-width="4.0" stroke-linecap="round"/><text x="739.1" y="142.2" font-size="24.4" text-anchor="start">Z=125</text><path d="M677.8,163.9H733.2" stroke="#00a0ff" stroke-width="4.0" stroke-linecap="round"/><text x="739.1" y="172.8" font-size="24.4" text-anchor="start">N=184</text><path d="M677.8,194.5H733.2" stroke="#00a0ff" stroke-width="4.0" stroke-linecap="round"/><text x="739.1" y="203.4" font-size="24.4" text-anchor="start">Z=125</text><path d="M677.8,225.1H733.2" stroke="#880000" stroke-width="4.0" stroke-linecap="round"/><text x="739.1" y="234.0" font-size="24.4" text-anchor="start">N=198</text><path d="M677.8,255.7H733.2" stroke="#880000" stroke-width="4.0" stroke-linecap="round"/><text x="739.1" y="264.6" font-size="24.4" text-anchor="start">Z=125</text><rect x="1367.0" y="23.9" width="144.9" height="280.2" fill="#fff" stroke="#3a3a3a" stroke-width="1.6"/><path d="M1372.2,41.4H1425.7" stroke="#9e00cc" stroke-width="4.0" stroke-linecap="round"/><text x="1432.5" y="50.3" font-size="24.4" text-anchor="start">N=164</text><path d="M1372.2,72.0H1425.7" stroke="#9e00cc" stroke-width="4.0" stroke-linecap="round"/><text x="1432.5" y="80.9" font-size="24.4" text-anchor="start">Z=126</text><path d="M1372.2,102.6H1425.7" stroke="#ef8429" stroke-width="4.0" stroke-linecap="round"/><text x="1432.5" y="111.5" font-size="24.4" text-anchor="start">N=172</text><path d="M1372.2,133.3H1425.7" stroke="#ef8429" stroke-width="4.0" stroke-linecap="round"/><text x="1432.5" y="142.2" font-size="24.4" text-anchor="start">Z=126</text><path d="M1372.2,163.9H1425.7" stroke="#00a0ff" stroke-width="4.0" stroke-linecap="round"/><text x="1432.5" y="172.8" font-size="24.4" text-anchor="start">N=184</text><path d="M1372.2,194.5H1425.7" stroke="#00a0ff" stroke-width="4.0" stroke-linecap="round"/><text x="1432.5" y="203.4" font-size="24.4" text-anchor="start">Z=126</text><path d="M1372.2,225.1H1425.7" stroke="#880000" stroke-width="4.0" stroke-linecap="round"/><text x="1432.5" y="234.0" font-size="24.4" text-anchor="start">N=198</text><path d="M1372.2,255.7H1425.7" stroke="#880000" stroke-width="4.0" stroke-linecap="round"/><text x="1432.5" y="264.6" font-size="24.4" text-anchor="start">Z=126</text><text transform="translate(118.6 23.1) scale(0.886 1)" font-size="34.4" text-anchor="end">0.10</text><text transform="translate(118.6 237.3) scale(0.886 1)" font-size="34.4" text-anchor="end">0.08</text><text transform="translate(118.6 451.6) scale(0.886 1)" font-size="34.4" text-anchor="end">0.06</text><text transform="translate(118.6 665.8) scale(0.886 1)" font-size="34.4" text-anchor="end">0.04</text><text transform="translate(118.6 880.1) scale(0.886 1)" font-size="34.4" text-anchor="end">0.02</text><text transform="translate(233.6 1021.6) scale(0.955 1)" font-size="33.6" text-anchor="middle">2</text><text transform="translate(915.3 1021.6) scale(0.955 1)" font-size="33.6" text-anchor="middle">2</text><text transform="translate(403.7 1021.6) scale(0.955 1)" font-size="33.6" text-anchor="middle">4</text><text transform="translate(1088.0 1021.6) scale(0.955 1)" font-size="33.6" text-anchor="middle">4</text><text transform="translate(573.8 1021.6) scale(0.955 1)" font-size="33.6" text-anchor="middle">6</text><text transform="translate(1260.6 1021.6) scale(0.955 1)" font-size="33.6" text-anchor="middle">6</text><text transform="translate(743.9 1021.6) scale(0.955 1)" font-size="33.6" text-anchor="middle">8</text><text transform="translate(1433.3 1021.6) scale(0.955 1)" font-size="33.6" text-anchor="middle">8</text><text transform="translate(397.3 129.8) scale(0.966 1)" font-size="31.2" text-anchor="start">neutron</text><text transform="translate(1078.8 128.6) scale(0.966 1)" font-size="31.2" text-anchor="start">neutron</text><text transform="translate(411.6 516.8) scale(0.966 1)" font-size="31.2" text-anchor="start">proton</text><text transform="translate(1090.0 515.5) scale(0.966 1)" font-size="31.2" text-anchor="start">proton</text><text x="275.5" y="886.3" font-size="40.6" text-anchor="start">Z=125</text><text x="995.8" y="888.2" font-size="40.8" text-anchor="start">Z=126</text><text x="436.0" y="1084.8" font-size="40.5" text-anchor="start">r (fm)</text><text x="1125.7" y="1084.8" font-size="40.5" text-anchor="start">r (fm)</text><text transform="translate(36.6,583.7) rotate(-90)" font-size="40"><tspan font-size="35">&#961;</tspan><tspan font-size="25.6" dx="4.9" dy="10.3">np</tspan><tspan dy="-10.3">(fm</tspan><tspan font-size="26" dx="-1.6" dy="-16.4">-3</tspan><tspan dx="4" dy="16.4">)</tspan></text></svg></body></html>
